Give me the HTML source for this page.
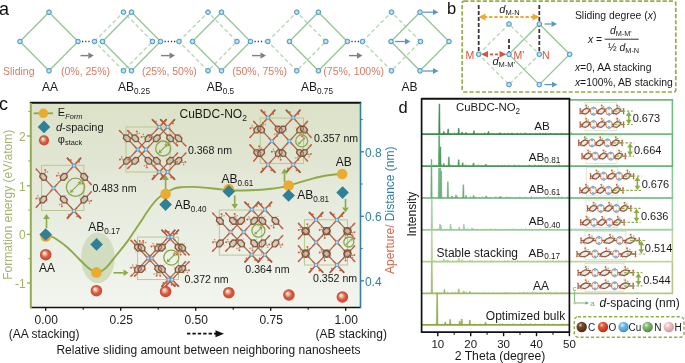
<!DOCTYPE html><html><head><meta charset="utf-8"><style>html,body{margin:0;padding:0;background:#fff;overflow:hidden}svg{display:block}</style></head><body><svg width="685" height="363" viewBox="0 0 685 363" font-family="'Liberation Sans', Arial, sans-serif">
<defs>
<linearGradient id="bgc" x1="0" y1="0" x2="0" y2="1">
<stop offset="0" stop-color="#dce2c7"/><stop offset="0.3" stop-color="#e1e6d4"/><stop offset="0.52" stop-color="#e7ecdf"/><stop offset="1" stop-color="#f2f5ee"/></linearGradient>
<radialGradient id="ndg" cx="0.5" cy="0.5" r="0.5"><stop offset="0" stop-color="#d2f0fa"/><stop offset="1" stop-color="#8cc3e2"/></radialGradient>
<radialGradient id="sph" cx="0.5" cy="0.5" r="0.5" fx="0.36" fy="0.34"><stop offset="0" stop-color="#ffffff"/><stop offset="0.3" stop-color="#efb4a2"/><stop offset="0.62" stop-color="#d55a40"/><stop offset="1" stop-color="#c84a30"/></radialGradient>
<radialGradient id="sC" cx="0.38" cy="0.32" r="0.7"><stop offset="0" stop-color="#e8d0c0"/><stop offset="0.3" stop-color="#7a4a2c"/><stop offset="1" stop-color="#4a2812"/></radialGradient>
<radialGradient id="sO" cx="0.38" cy="0.32" r="0.7"><stop offset="0" stop-color="#fde0cc"/><stop offset="0.3" stop-color="#e8583a"/><stop offset="1" stop-color="#b3301a"/></radialGradient>
<radialGradient id="sCu" cx="0.38" cy="0.32" r="0.7"><stop offset="0" stop-color="#e6f4fb"/><stop offset="0.3" stop-color="#7cc0e6"/><stop offset="1" stop-color="#3d8fc0"/></radialGradient>
<radialGradient id="sN" cx="0.38" cy="0.32" r="0.7"><stop offset="0" stop-color="#e4f2de"/><stop offset="0.3" stop-color="#8cc07a"/><stop offset="1" stop-color="#4e8a40"/></radialGradient>
<radialGradient id="sH" cx="0.38" cy="0.32" r="0.7"><stop offset="0" stop-color="#ffffff"/><stop offset="0.3" stop-color="#f4c8cc"/><stop offset="1" stop-color="#d0959a"/></radialGradient>
</defs>
<rect width="685" height="363" fill="#ffffff"/>
<text x="-1" y="14.9" font-size="18" fill="#111" text-anchor="start" >a</text>
<path d="M20.0,41.5 L49.0,12.2 L78.0,41.5 L49.0,70.8 Z" fill="none" stroke="#94c794" stroke-width="1.3"/>
<path d="M94.5,41.5 L123.5,12.2 L152.5,41.5 L123.5,70.8 Z" fill="none" stroke="#b3d8b0" stroke-width="1.3" stroke-dasharray="4 2.5"/>
<path d="M102.5,41.5 L131.5,12.2 L160.5,41.5 L131.5,70.8 Z" fill="none" stroke="#94c794" stroke-width="1.3"/>
<path d="M179.0,41.5 L208.0,12.2 L237.0,41.5 L208.0,70.8 Z" fill="none" stroke="#b3d8b0" stroke-width="1.3" stroke-dasharray="4 2.5"/>
<path d="M192.5,41.5 L221.5,12.2 L250.5,41.5 L221.5,70.8 Z" fill="none" stroke="#94c794" stroke-width="1.3"/>
<path d="M267.8,41.5 L296.8,12.2 L325.8,41.5 L296.8,70.8 Z" fill="none" stroke="#b3d8b0" stroke-width="1.3" stroke-dasharray="4 2.5"/>
<path d="M289.4,41.5 L318.4,12.2 L347.4,41.5 L318.4,70.8 Z" fill="none" stroke="#94c794" stroke-width="1.3"/>
<path d="M362.5,41.5 L391.5,12.2 L420.5,41.5 L391.5,70.8 Z" fill="none" stroke="#b3d8b0" stroke-width="1.3" stroke-dasharray="4 2.5"/>
<path d="M391.0,41.5 L420.0,12.2 L449.0,41.5 L420.0,70.8 Z" fill="none" stroke="#94c794" stroke-width="1.3"/>
<circle cx="20.0" cy="41.5" r="2.35" fill="url(#ndg)" stroke="#4d93bf" stroke-width="0.95"/>
<circle cx="49.0" cy="12.2" r="2.35" fill="url(#ndg)" stroke="#4d93bf" stroke-width="0.95"/>
<circle cx="78.0" cy="41.5" r="2.35" fill="url(#ndg)" stroke="#4d93bf" stroke-width="0.95"/>
<circle cx="49.0" cy="70.8" r="2.35" fill="url(#ndg)" stroke="#4d93bf" stroke-width="0.95"/>
<circle cx="94.5" cy="41.5" r="2.35" fill="url(#ndg)" stroke="#4d93bf" stroke-width="0.95"/>
<circle cx="123.5" cy="12.2" r="2.35" fill="url(#ndg)" stroke="#4d93bf" stroke-width="0.95"/>
<circle cx="152.5" cy="41.5" r="2.35" fill="url(#ndg)" stroke="#4d93bf" stroke-width="0.95"/>
<circle cx="123.5" cy="70.8" r="2.35" fill="url(#ndg)" stroke="#4d93bf" stroke-width="0.95"/>
<circle cx="102.5" cy="41.5" r="2.35" fill="url(#ndg)" stroke="#4d93bf" stroke-width="0.95"/>
<circle cx="131.5" cy="12.2" r="2.35" fill="url(#ndg)" stroke="#4d93bf" stroke-width="0.95"/>
<circle cx="160.5" cy="41.5" r="2.35" fill="url(#ndg)" stroke="#4d93bf" stroke-width="0.95"/>
<circle cx="131.5" cy="70.8" r="2.35" fill="url(#ndg)" stroke="#4d93bf" stroke-width="0.95"/>
<circle cx="179.0" cy="41.5" r="2.35" fill="url(#ndg)" stroke="#4d93bf" stroke-width="0.95"/>
<circle cx="208.0" cy="12.2" r="2.35" fill="url(#ndg)" stroke="#4d93bf" stroke-width="0.95"/>
<circle cx="237.0" cy="41.5" r="2.35" fill="url(#ndg)" stroke="#4d93bf" stroke-width="0.95"/>
<circle cx="208.0" cy="70.8" r="2.35" fill="url(#ndg)" stroke="#4d93bf" stroke-width="0.95"/>
<circle cx="192.5" cy="41.5" r="2.35" fill="url(#ndg)" stroke="#4d93bf" stroke-width="0.95"/>
<circle cx="221.5" cy="12.2" r="2.35" fill="url(#ndg)" stroke="#4d93bf" stroke-width="0.95"/>
<circle cx="250.5" cy="41.5" r="2.35" fill="url(#ndg)" stroke="#4d93bf" stroke-width="0.95"/>
<circle cx="221.5" cy="70.8" r="2.35" fill="url(#ndg)" stroke="#4d93bf" stroke-width="0.95"/>
<circle cx="267.8" cy="41.5" r="2.35" fill="url(#ndg)" stroke="#4d93bf" stroke-width="0.95"/>
<circle cx="296.8" cy="12.2" r="2.35" fill="url(#ndg)" stroke="#4d93bf" stroke-width="0.95"/>
<circle cx="325.8" cy="41.5" r="2.35" fill="url(#ndg)" stroke="#4d93bf" stroke-width="0.95"/>
<circle cx="296.8" cy="70.8" r="2.35" fill="url(#ndg)" stroke="#4d93bf" stroke-width="0.95"/>
<circle cx="289.4" cy="41.5" r="2.35" fill="url(#ndg)" stroke="#4d93bf" stroke-width="0.95"/>
<circle cx="318.4" cy="12.2" r="2.35" fill="url(#ndg)" stroke="#4d93bf" stroke-width="0.95"/>
<circle cx="347.4" cy="41.5" r="2.35" fill="url(#ndg)" stroke="#4d93bf" stroke-width="0.95"/>
<circle cx="318.4" cy="70.8" r="2.35" fill="url(#ndg)" stroke="#4d93bf" stroke-width="0.95"/>
<circle cx="362.5" cy="41.5" r="2.35" fill="url(#ndg)" stroke="#4d93bf" stroke-width="0.95"/>
<circle cx="391.5" cy="12.2" r="2.35" fill="url(#ndg)" stroke="#4d93bf" stroke-width="0.95"/>
<circle cx="420.5" cy="41.5" r="2.35" fill="url(#ndg)" stroke="#4d93bf" stroke-width="0.95"/>
<circle cx="391.5" cy="70.8" r="2.35" fill="url(#ndg)" stroke="#4d93bf" stroke-width="0.95"/>
<circle cx="391.0" cy="41.5" r="2.35" fill="url(#ndg)" stroke="#4d93bf" stroke-width="0.95"/>
<circle cx="420.0" cy="12.2" r="2.35" fill="url(#ndg)" stroke="#4d93bf" stroke-width="0.95"/>
<circle cx="449.0" cy="41.5" r="2.35" fill="url(#ndg)" stroke="#4d93bf" stroke-width="0.95"/>
<circle cx="420.0" cy="70.8" r="2.35" fill="url(#ndg)" stroke="#4d93bf" stroke-width="0.95"/>
<line x1="82.0" y1="41.5" x2="91.0" y2="41.5" stroke="#333" stroke-width="1.3" stroke-dasharray="1.2 2"/>
<line x1="164.5" y1="41.5" x2="175.5" y2="41.5" stroke="#333" stroke-width="1.3" stroke-dasharray="1.2 2"/>
<line x1="254.5" y1="41.5" x2="264.3" y2="41.5" stroke="#333" stroke-width="1.3" stroke-dasharray="1.2 2"/>
<line x1="351.4" y1="41.5" x2="359.0" y2="41.5" stroke="#333" stroke-width="1.3" stroke-dasharray="1.2 2"/>
<line x1="80.5" y1="55.6" x2="88.3" y2="55.6" stroke="#7f7f7f" stroke-width="1.4"/>
<path d="M93.8,55.6 L88.3,58.7 L88.3,52.5 Z" fill="#7f7f7f"/>
<line x1="161.0" y1="55.6" x2="169.5" y2="55.6" stroke="#7f7f7f" stroke-width="1.4"/>
<path d="M175.0,55.6 L169.5,58.7 L169.5,52.5 Z" fill="#7f7f7f"/>
<line x1="252.0" y1="55.6" x2="260.5" y2="55.6" stroke="#7f7f7f" stroke-width="1.4"/>
<path d="M266.0,55.6 L260.5,58.7 L260.5,52.5 Z" fill="#7f7f7f"/>
<line x1="349.0" y1="55.6" x2="357.0" y2="55.6" stroke="#7f7f7f" stroke-width="1.4"/>
<path d="M362.5,55.6 L357.0,58.7 L357.0,52.5 Z" fill="#7f7f7f"/>
<line x1="423.0" y1="12.2" x2="433.0" y2="12.2" stroke="#5a98c2" stroke-width="1.25"/>
<path d="M438.5,12.2 L433.0,15.1 L433.0,9.3 Z" fill="#5a98c2"/>
<line x1="395.0" y1="41.5" x2="405.0" y2="41.5" stroke="#5a98c2" stroke-width="1.25"/>
<path d="M410.5,41.5 L405.0,44.4 L405.0,38.6 Z" fill="#5a98c2"/>
<line x1="423.0" y1="71.0" x2="433.0" y2="71.0" stroke="#5a98c2" stroke-width="1.25"/>
<path d="M438.5,71.0 L433.0,73.9 L433.0,68.1 Z" fill="#5a98c2"/>
<text x="3" y="75.4" font-size="10.5" fill="#d97a62" text-anchor="start" >Sliding</text>
<text x="61" y="75.4" font-size="10.5" fill="#d97a62" text-anchor="start" >(0%, 25%)</text>
<text x="141.9" y="75.4" font-size="10.5" fill="#d97a62" text-anchor="start" >(25%, 50%)</text>
<text x="232.2" y="75.4" font-size="10.5" fill="#d97a62" text-anchor="start" >(50%, 75%)</text>
<text x="323.3" y="75.4" font-size="10.5" fill="#d97a62" text-anchor="start" >(75%, 100%)</text>
<text x="42" y="90.6" font-size="12" fill="#1a1a1a" text-anchor="start" >AA</text>
<text x="118" y="90.6" font-size="12" fill="#1a1a1a">AB<tspan font-size="8.2" dy="3">0.25</tspan></text>
<text x="206.7" y="90.6" font-size="12" fill="#1a1a1a">AB<tspan font-size="8.2" dy="3">0.5</tspan></text>
<text x="301" y="90.6" font-size="12" fill="#1a1a1a">AB<tspan font-size="8.2" dy="3">0.75</tspan></text>
<text x="401.5" y="90.6" font-size="12" fill="#1a1a1a" text-anchor="start" >AB</text>
<rect x="462.2" y="1.2" width="213.6" height="90.8" rx="2" fill="none" stroke="#92ad4e" stroke-width="1.7" stroke-dasharray="4.2 2"/>
<text x="447" y="13.8" font-size="16.5" fill="#111" text-anchor="start" >b</text>
<path d="M478.6,54.3 L509.0,24.0 L539.4,54.3 L509.0,84.6 Z" fill="none" stroke="#b3d8b0" stroke-width="1.3" stroke-dasharray="4 2.5"/>
<path d="M508.9,54.3 L539.3,24.0 L569.7,54.3 L539.3,84.6 Z" fill="none" stroke="#94c794" stroke-width="1.3"/>
<line x1="478.7" y1="5" x2="478.7" y2="52" stroke="#383838" stroke-width="1.8" stroke-dasharray="4 2"/>
<line x1="539.3" y1="5" x2="539.3" y2="52" stroke="#383838" stroke-width="1.8" stroke-dasharray="4 2"/>
<line x1="509" y1="39" x2="509" y2="52" stroke="#383838" stroke-width="1.8" stroke-dasharray="4 2"/>
<line x1="484" y1="17" x2="534" y2="17" stroke="#f0a830" stroke-width="1.8" stroke-dasharray="3.2 2"/>
<path d="M478.5,17 L485.5,13.6 L485.5,20.4 Z" fill="#f0a830"/><path d="M539.5,17 L532.5,13.6 L532.5,20.4 Z" fill="#f0a830"/>
<line x1="485" y1="54.3" x2="503" y2="54.3" stroke="#d9533a" stroke-width="1.8" stroke-dasharray="3 2"/>
<path d="M481,54.3 L488,51 L488,57.6 Z" fill="#d9533a"/><path d="M506.5,54.3 L499.5,51 L499.5,57.6 Z" fill="#d9533a"/>
<circle cx="509.0" cy="24.0" r="2.35" fill="url(#ndg)" stroke="#4d93bf" stroke-width="0.95"/>
<circle cx="478.7" cy="54.3" r="2.35" fill="url(#ndg)" stroke="#4d93bf" stroke-width="0.95"/>
<circle cx="509.0" cy="84.6" r="2.35" fill="url(#ndg)" stroke="#4d93bf" stroke-width="0.95"/>
<circle cx="539.3" cy="24.0" r="2.35" fill="url(#ndg)" stroke="#4d93bf" stroke-width="0.95"/>
<circle cx="569.7" cy="54.3" r="2.35" fill="url(#ndg)" stroke="#4d93bf" stroke-width="0.95"/>
<circle cx="539.3" cy="84.6" r="2.35" fill="url(#ndg)" stroke="#4d93bf" stroke-width="0.95"/>
<circle cx="509.0" cy="54.3" r="2.35" fill="url(#ndg)" stroke="#4d93bf" stroke-width="0.95"/>
<circle cx="539.3" cy="54.3" r="2.35" fill="url(#ndg)" stroke="#4d93bf" stroke-width="0.95"/>
<line x1="544.5" y1="24.0" x2="551.5" y2="24.0" stroke="#5a98c2" stroke-width="1.25"/>
<path d="M557.0,24.0 L551.5,26.9 L551.5,21.1 Z" fill="#5a98c2"/>
<line x1="544.5" y1="84.6" x2="552.0" y2="84.6" stroke="#5a98c2" stroke-width="1.25"/>
<path d="M557.5,84.6 L552.0,87.5 L552.0,81.7 Z" fill="#5a98c2"/>
<text x="465.5" y="58.8" font-size="10.5" fill="#d9533a" text-anchor="start" >M</text>
<text x="513.5" y="58.8" font-size="10.5" fill="#d9533a" text-anchor="start" >M'</text>
<text x="542" y="58.8" font-size="10.5" fill="#d9533a" text-anchor="start" >N</text>
<text x="499.3" y="12.6" font-size="11" fill="#1a1a1a"><tspan font-style="italic">d</tspan><tspan font-size="7.5" dy="2.6">M-N</tspan></text>
<text x="492.4" y="64.6" font-size="11" fill="#1a1a1a"><tspan font-style="italic">d</tspan><tspan font-size="7.5" dy="2.6">M-M'</tspan></text>
<text x="574.9" y="18.8" font-size="10.4" fill="#1a1a1a">Sliding degree (<tspan font-style="italic">x</tspan>)</text>
<text x="588" y="43.3" font-size="10.4" fill="#1a1a1a"><tspan font-style="italic">x</tspan> =</text>
<line x1="604.7" y1="39.2" x2="638.7" y2="39.2" stroke="#1a1a1a" stroke-width="0.9"/>
<text x="610" y="33.6" font-size="10.4" fill="#1a1a1a"><tspan font-style="italic">d</tspan><tspan font-size="7.3" dy="2.4">M-M'</tspan></text>
<text x="608" y="50.6" font-size="10.4" fill="#1a1a1a">½ <tspan font-style="italic">d</tspan><tspan font-size="7.3" dy="2.4">M-N</tspan></text>
<text x="574.9" y="71.1" font-size="10.4" fill="#1a1a1a"><tspan font-style="italic">x</tspan>=0, AA stacking</text>
<text x="574.9" y="86.3" font-size="10.4" fill="#1a1a1a"><tspan font-style="italic">x</tspan>=100%, AB stacking</text>
<rect x="30.5" y="102.8" width="330.0" height="204.7" fill="url(#bgc)"/>
<rect x="41.6" y="165.3" width="42.199999999999996" height="45.19999999999999" fill="none" stroke="#b3c48c" stroke-width="0.9"/>
<line x1="74.0" y1="165.5" x2="67.0" y2="157.8" stroke="#c0583a" stroke-width="1.6"/>
<line x1="69.5" y1="160.5" x2="67.0" y2="157.8" stroke="#9a6248" stroke-width="1.6"/>
<circle cx="70.9" cy="160.1" r="0.9" fill="#e0532e"/>
<line x1="74.0" y1="165.5" x2="66.4" y2="173.9" stroke="#9e664e" stroke-width="1.2"/>
<line x1="61.1" y1="179.8" x2="53.5" y2="188.2" stroke="#9e664e" stroke-width="1.2"/>
<line x1="73.0" y1="166.6" x2="70.7" y2="169.1" stroke="#dc5e3c" stroke-width="1.4"/>
<line x1="56.8" y1="184.6" x2="54.5" y2="187.1" stroke="#dc5e3c" stroke-width="1.4"/>
<polygon points="60.9,180.1 60.3,176.7 63.2,173.5 66.6,173.6 67.2,177.0 64.3,180.2" fill="#c4a088" fill-opacity="0.45" stroke="#87543c" stroke-width="1.35"/>
<line x1="60.7" y1="175.7" x2="58.1" y2="175.0" stroke="#8aa070" stroke-width="1.1"/>
<circle cx="56.9" cy="175.7" r="1" fill="#e0583a"/>
<circle cx="58.4" cy="173.1" r="0.8" fill="#e27a62"/>
<circle cx="68.1" cy="178.8" r="0.75" fill="#eab8bc"/>
<line x1="74.0" y1="165.5" x2="81.0" y2="157.8" stroke="#c0583a" stroke-width="1.6"/>
<line x1="78.5" y1="160.5" x2="81.0" y2="157.8" stroke="#9a6248" stroke-width="1.6"/>
<circle cx="79.1" cy="161.8" r="0.9" fill="#e0532e"/>
<line x1="74.0" y1="165.5" x2="81.6" y2="173.9" stroke="#9e664e" stroke-width="1.2"/>
<line x1="86.9" y1="179.8" x2="91.6" y2="185.0" stroke="#9e664e" stroke-width="1.2"/>
<line x1="75.0" y1="166.6" x2="77.3" y2="169.1" stroke="#dc5e3c" stroke-width="1.4"/>
<line x1="89.6" y1="182.8" x2="91.6" y2="185.0" stroke="#dc5e3c" stroke-width="1.4"/>
<polygon points="87.1,180.1 83.7,180.2 80.8,177.0 81.4,173.6 84.8,173.5 87.7,176.7" fill="#c4a088" fill-opacity="0.45" stroke="#87543c" stroke-width="1.35"/>
<line x1="82.8" y1="179.8" x2="81.8" y2="182.3" stroke="#8aa070" stroke-width="1.1"/>
<circle cx="82.4" cy="183.6" r="1" fill="#e0583a"/>
<circle cx="80.0" cy="181.8" r="0.8" fill="#e27a62"/>
<circle cx="86.6" cy="172.7" r="0.75" fill="#eab8bc"/>
<line x1="53.5" y1="188.2" x2="45.9" y2="179.8" stroke="#9e664e" stroke-width="1.2"/>
<line x1="40.6" y1="173.9" x2="35.9" y2="168.7" stroke="#9e664e" stroke-width="1.2"/>
<line x1="52.5" y1="187.1" x2="50.2" y2="184.6" stroke="#dc5e3c" stroke-width="1.4"/>
<line x1="37.9" y1="170.9" x2="35.9" y2="168.7" stroke="#dc5e3c" stroke-width="1.4"/>
<polygon points="40.4,173.6 43.8,173.5 46.7,176.7 46.1,180.1 42.7,180.2 39.8,177.0" fill="#c4a088" fill-opacity="0.45" stroke="#87543c" stroke-width="1.35"/>
<line x1="44.7" y1="173.9" x2="45.7" y2="171.4" stroke="#8aa070" stroke-width="1.1"/>
<circle cx="45.1" cy="170.1" r="1" fill="#e0583a"/>
<circle cx="47.5" cy="171.9" r="0.8" fill="#e27a62"/>
<circle cx="40.9" cy="181.0" r="0.75" fill="#eab8bc"/>
<line x1="53.5" y1="188.2" x2="45.9" y2="196.6" stroke="#9e664e" stroke-width="1.2"/>
<line x1="40.6" y1="202.5" x2="35.9" y2="207.7" stroke="#9e664e" stroke-width="1.2"/>
<line x1="52.5" y1="189.3" x2="50.2" y2="191.8" stroke="#dc5e3c" stroke-width="1.4"/>
<line x1="37.9" y1="205.5" x2="35.9" y2="207.7" stroke="#dc5e3c" stroke-width="1.4"/>
<polygon points="40.4,202.8 39.8,199.4 42.7,196.2 46.1,196.3 46.7,199.7 43.8,202.9" fill="#c4a088" fill-opacity="0.45" stroke="#87543c" stroke-width="1.35"/>
<line x1="40.2" y1="198.4" x2="37.6" y2="197.7" stroke="#8aa070" stroke-width="1.1"/>
<circle cx="36.4" cy="198.4" r="1" fill="#e0583a"/>
<circle cx="37.9" cy="195.8" r="0.8" fill="#e27a62"/>
<circle cx="47.6" cy="201.5" r="0.75" fill="#eab8bc"/>
<line x1="53.5" y1="188.2" x2="61.1" y2="196.6" stroke="#9e664e" stroke-width="1.2"/>
<line x1="66.4" y1="202.5" x2="74.0" y2="210.9" stroke="#9e664e" stroke-width="1.2"/>
<line x1="54.5" y1="189.3" x2="56.8" y2="191.8" stroke="#dc5e3c" stroke-width="1.4"/>
<line x1="70.7" y1="207.3" x2="73.0" y2="209.8" stroke="#dc5e3c" stroke-width="1.4"/>
<polygon points="66.6,202.8 63.2,202.9 60.3,199.7 60.9,196.3 64.3,196.2 67.2,199.4" fill="#c4a088" fill-opacity="0.45" stroke="#87543c" stroke-width="1.35"/>
<line x1="62.3" y1="202.5" x2="61.3" y2="205.0" stroke="#8aa070" stroke-width="1.1"/>
<circle cx="61.9" cy="206.3" r="1" fill="#e0583a"/>
<circle cx="59.5" cy="204.5" r="0.8" fill="#e27a62"/>
<circle cx="66.1" cy="195.4" r="0.75" fill="#eab8bc"/>
<line x1="74.0" y1="210.9" x2="67.0" y2="218.6" stroke="#c0583a" stroke-width="1.6"/>
<line x1="69.5" y1="215.9" x2="67.0" y2="218.6" stroke="#9a6248" stroke-width="1.6"/>
<circle cx="68.9" cy="214.6" r="0.9" fill="#e0532e"/>
<line x1="74.0" y1="210.9" x2="81.6" y2="202.5" stroke="#9e664e" stroke-width="1.2"/>
<line x1="86.9" y1="196.6" x2="91.6" y2="191.4" stroke="#9e664e" stroke-width="1.2"/>
<line x1="75.0" y1="209.8" x2="77.3" y2="207.3" stroke="#dc5e3c" stroke-width="1.4"/>
<line x1="89.6" y1="193.6" x2="91.6" y2="191.4" stroke="#dc5e3c" stroke-width="1.4"/>
<polygon points="87.1,196.3 87.7,199.7 84.8,202.9 81.4,202.8 80.8,199.4 83.7,196.2" fill="#c4a088" fill-opacity="0.45" stroke="#87543c" stroke-width="1.35"/>
<line x1="87.3" y1="200.7" x2="89.9" y2="201.4" stroke="#8aa070" stroke-width="1.1"/>
<circle cx="91.1" cy="200.7" r="1" fill="#e0583a"/>
<circle cx="89.6" cy="203.3" r="0.8" fill="#e27a62"/>
<circle cx="79.9" cy="197.6" r="0.75" fill="#eab8bc"/>
<line x1="74.0" y1="210.9" x2="81.0" y2="218.6" stroke="#c0583a" stroke-width="1.6"/>
<line x1="78.5" y1="215.9" x2="81.0" y2="218.6" stroke="#9a6248" stroke-width="1.6"/>
<circle cx="77.1" cy="216.3" r="0.9" fill="#e0532e"/>
<rect x="72.5" y="164.1" width="2.9" height="2.9" fill="#b2dcf0" stroke="#5a9cc8" stroke-width="0.8"/>
<rect x="52.0" y="186.8" width="2.9" height="2.9" fill="#b2dcf0" stroke="#5a9cc8" stroke-width="0.8"/>
<rect x="72.5" y="209.5" width="2.9" height="2.9" fill="#b2dcf0" stroke="#5a9cc8" stroke-width="0.8"/>
<circle cx="75.5" cy="187.3" r="9.1" fill="none" stroke="#86a848" stroke-width="1.3"/>
<line x1="71.4" y1="191.4" x2="79.6" y2="183.2" stroke="#86a848" stroke-width="1.1"/>
<path d="M81.1,181.7 l-3.6,0.8 l2.8,2.8 Z" fill="#86a848"/>
<path d="M69.9,192.9 l3.6,-0.8 l-2.8,-2.8 Z" fill="#86a848"/>
<rect x="137.6" y="237.1" width="40.900000000000006" height="42.50000000000003" fill="none" stroke="#b3c48c" stroke-width="0.9"/>
<line x1="168.4" y1="237.0" x2="161.5" y2="229.8" stroke="#c0583a" stroke-width="1.6"/>
<line x1="163.9" y1="232.3" x2="161.5" y2="229.8" stroke="#9a6248" stroke-width="1.6"/>
<circle cx="165.3" cy="231.8" r="0.9" fill="#e0532e"/>
<line x1="168.4" y1="237.0" x2="161.0" y2="244.8" stroke="#9e664e" stroke-width="1.2"/>
<line x1="155.5" y1="250.5" x2="148.1" y2="258.3" stroke="#9e664e" stroke-width="1.2"/>
<line x1="167.4" y1="238.1" x2="165.2" y2="240.4" stroke="#dc5e3c" stroke-width="1.4"/>
<line x1="151.3" y1="254.9" x2="149.1" y2="257.2" stroke="#dc5e3c" stroke-width="1.4"/>
<polygon points="155.3,250.8 154.8,247.4 157.8,244.3 161.2,244.5 161.7,247.9 158.7,251.0" fill="#c4a088" fill-opacity="0.45" stroke="#87543c" stroke-width="1.35"/>
<line x1="155.2" y1="246.4" x2="152.6" y2="245.6" stroke="#8aa070" stroke-width="1.1"/>
<circle cx="151.4" cy="246.4" r="1" fill="#e0583a"/>
<circle cx="153.0" cy="243.8" r="0.8" fill="#e27a62"/>
<circle cx="162.5" cy="249.7" r="0.75" fill="#eab8bc"/>
<line x1="168.4" y1="237.0" x2="175.3" y2="229.8" stroke="#c0583a" stroke-width="1.6"/>
<line x1="172.9" y1="232.3" x2="175.3" y2="229.8" stroke="#9a6248" stroke-width="1.6"/>
<circle cx="173.4" cy="233.6" r="0.9" fill="#e0532e"/>
<line x1="168.4" y1="237.0" x2="175.8" y2="244.8" stroke="#9e664e" stroke-width="1.2"/>
<line x1="181.3" y1="250.5" x2="185.9" y2="255.3" stroke="#9e664e" stroke-width="1.2"/>
<line x1="169.4" y1="238.1" x2="171.6" y2="240.4" stroke="#dc5e3c" stroke-width="1.4"/>
<line x1="183.8" y1="253.2" x2="185.9" y2="255.3" stroke="#dc5e3c" stroke-width="1.4"/>
<polygon points="181.5,250.8 178.1,251.0 175.1,247.9 175.6,244.5 179.0,244.3 182.0,247.4" fill="#c4a088" fill-opacity="0.45" stroke="#87543c" stroke-width="1.35"/>
<line x1="177.2" y1="250.6" x2="176.3" y2="253.2" stroke="#8aa070" stroke-width="1.1"/>
<circle cx="176.9" cy="254.4" r="1" fill="#e0583a"/>
<circle cx="174.4" cy="252.7" r="0.8" fill="#e27a62"/>
<circle cx="180.8" cy="243.5" r="0.75" fill="#eab8bc"/>
<line x1="148.1" y1="258.3" x2="140.7" y2="250.5" stroke="#9e664e" stroke-width="1.2"/>
<line x1="135.2" y1="244.8" x2="130.6" y2="240.0" stroke="#9e664e" stroke-width="1.2"/>
<line x1="147.1" y1="257.2" x2="144.9" y2="254.9" stroke="#dc5e3c" stroke-width="1.4"/>
<line x1="132.7" y1="242.1" x2="130.6" y2="240.0" stroke="#dc5e3c" stroke-width="1.4"/>
<polygon points="135.0,244.5 138.4,244.3 141.4,247.4 140.9,250.8 137.5,251.0 134.5,247.9" fill="#c4a088" fill-opacity="0.45" stroke="#87543c" stroke-width="1.35"/>
<line x1="139.3" y1="244.7" x2="140.2" y2="242.1" stroke="#8aa070" stroke-width="1.1"/>
<circle cx="139.6" cy="240.9" r="1" fill="#e0583a"/>
<circle cx="142.1" cy="242.6" r="0.8" fill="#e27a62"/>
<circle cx="135.7" cy="251.8" r="0.75" fill="#eab8bc"/>
<line x1="148.1" y1="258.3" x2="140.7" y2="266.1" stroke="#9e664e" stroke-width="1.2"/>
<line x1="135.2" y1="271.8" x2="130.6" y2="276.6" stroke="#9e664e" stroke-width="1.2"/>
<line x1="147.1" y1="259.4" x2="144.9" y2="261.7" stroke="#dc5e3c" stroke-width="1.4"/>
<line x1="132.7" y1="274.5" x2="130.6" y2="276.6" stroke="#dc5e3c" stroke-width="1.4"/>
<polygon points="135.0,272.1 134.5,268.7 137.5,265.6 140.9,265.8 141.4,269.2 138.4,272.3" fill="#c4a088" fill-opacity="0.45" stroke="#87543c" stroke-width="1.35"/>
<line x1="134.9" y1="267.7" x2="132.3" y2="266.9" stroke="#8aa070" stroke-width="1.1"/>
<circle cx="131.1" cy="267.7" r="1" fill="#e0583a"/>
<circle cx="132.7" cy="265.1" r="0.8" fill="#e27a62"/>
<circle cx="142.2" cy="271.0" r="0.75" fill="#eab8bc"/>
<line x1="148.1" y1="258.3" x2="155.5" y2="266.1" stroke="#9e664e" stroke-width="1.2"/>
<line x1="161.0" y1="271.8" x2="168.4" y2="279.6" stroke="#9e664e" stroke-width="1.2"/>
<line x1="149.1" y1="259.4" x2="151.3" y2="261.7" stroke="#dc5e3c" stroke-width="1.4"/>
<line x1="165.2" y1="276.2" x2="167.4" y2="278.5" stroke="#dc5e3c" stroke-width="1.4"/>
<polygon points="161.2,272.1 157.8,272.3 154.8,269.2 155.3,265.8 158.7,265.6 161.7,268.7" fill="#c4a088" fill-opacity="0.45" stroke="#87543c" stroke-width="1.35"/>
<line x1="156.9" y1="271.9" x2="156.0" y2="274.5" stroke="#8aa070" stroke-width="1.1"/>
<circle cx="156.6" cy="275.7" r="1" fill="#e0583a"/>
<circle cx="154.1" cy="274.0" r="0.8" fill="#e27a62"/>
<circle cx="160.5" cy="264.8" r="0.75" fill="#eab8bc"/>
<line x1="168.4" y1="279.6" x2="161.5" y2="286.8" stroke="#c0583a" stroke-width="1.6"/>
<line x1="163.9" y1="284.3" x2="161.5" y2="286.8" stroke="#9a6248" stroke-width="1.6"/>
<circle cx="163.4" cy="283.0" r="0.9" fill="#e0532e"/>
<line x1="168.4" y1="279.6" x2="175.8" y2="271.8" stroke="#9e664e" stroke-width="1.2"/>
<line x1="181.3" y1="266.1" x2="185.9" y2="261.3" stroke="#9e664e" stroke-width="1.2"/>
<line x1="169.4" y1="278.5" x2="171.6" y2="276.2" stroke="#dc5e3c" stroke-width="1.4"/>
<line x1="183.8" y1="263.4" x2="185.9" y2="261.3" stroke="#dc5e3c" stroke-width="1.4"/>
<polygon points="181.5,265.8 182.0,269.2 179.0,272.3 175.6,272.1 175.1,268.7 178.1,265.6" fill="#c4a088" fill-opacity="0.45" stroke="#87543c" stroke-width="1.35"/>
<line x1="181.6" y1="270.2" x2="184.2" y2="271.0" stroke="#8aa070" stroke-width="1.1"/>
<circle cx="185.4" cy="270.2" r="1" fill="#e0583a"/>
<circle cx="183.8" cy="272.8" r="0.8" fill="#e27a62"/>
<circle cx="174.3" cy="266.9" r="0.75" fill="#eab8bc"/>
<line x1="168.4" y1="279.6" x2="175.3" y2="286.8" stroke="#c0583a" stroke-width="1.6"/>
<line x1="172.9" y1="284.3" x2="175.3" y2="286.8" stroke="#9a6248" stroke-width="1.6"/>
<circle cx="171.5" cy="284.8" r="0.9" fill="#e0532e"/>
<rect x="167.0" y="235.6" width="2.9" height="2.9" fill="#b2dcf0" stroke="#5a9cc8" stroke-width="0.8"/>
<rect x="146.7" y="256.9" width="2.9" height="2.9" fill="#b2dcf0" stroke="#5a9cc8" stroke-width="0.8"/>
<rect x="167.0" y="278.2" width="2.9" height="2.9" fill="#b2dcf0" stroke="#5a9cc8" stroke-width="0.8"/>
<line x1="172.0" y1="237.0" x2="165.1" y2="229.8" stroke="#c0583a" stroke-width="1.6"/>
<line x1="167.5" y1="232.3" x2="165.1" y2="229.8" stroke="#9a6248" stroke-width="1.6"/>
<circle cx="168.9" cy="231.8" r="0.9" fill="#e0532e"/>
<line x1="172.0" y1="237.0" x2="164.6" y2="244.8" stroke="#9e664e" stroke-width="1.2"/>
<line x1="159.1" y1="250.5" x2="151.7" y2="258.3" stroke="#9e664e" stroke-width="1.2"/>
<line x1="171.0" y1="238.1" x2="168.8" y2="240.4" stroke="#dc5e3c" stroke-width="1.4"/>
<line x1="154.9" y1="254.9" x2="152.7" y2="257.2" stroke="#dc5e3c" stroke-width="1.4"/>
<polygon points="158.9,250.8 158.4,247.4 161.4,244.3 164.8,244.5 165.3,247.9 162.3,251.0" fill="#c4a088" fill-opacity="0.45" stroke="#87543c" stroke-width="1.35"/>
<line x1="158.8" y1="246.4" x2="156.2" y2="245.6" stroke="#8aa070" stroke-width="1.1"/>
<circle cx="155.0" cy="246.4" r="1" fill="#e0583a"/>
<circle cx="156.6" cy="243.8" r="0.8" fill="#e27a62"/>
<circle cx="166.1" cy="249.7" r="0.75" fill="#eab8bc"/>
<line x1="172.0" y1="237.0" x2="178.9" y2="229.8" stroke="#c0583a" stroke-width="1.6"/>
<line x1="176.5" y1="232.3" x2="178.9" y2="229.8" stroke="#9a6248" stroke-width="1.6"/>
<circle cx="177.0" cy="233.6" r="0.9" fill="#e0532e"/>
<line x1="172.0" y1="237.0" x2="179.4" y2="244.8" stroke="#9e664e" stroke-width="1.2"/>
<line x1="184.9" y1="250.5" x2="189.5" y2="255.3" stroke="#9e664e" stroke-width="1.2"/>
<line x1="173.0" y1="238.1" x2="175.2" y2="240.4" stroke="#dc5e3c" stroke-width="1.4"/>
<line x1="187.4" y1="253.2" x2="189.5" y2="255.3" stroke="#dc5e3c" stroke-width="1.4"/>
<polygon points="185.1,250.8 181.7,251.0 178.7,247.9 179.2,244.5 182.6,244.3 185.6,247.4" fill="#c4a088" fill-opacity="0.45" stroke="#87543c" stroke-width="1.35"/>
<line x1="180.8" y1="250.6" x2="179.9" y2="253.2" stroke="#8aa070" stroke-width="1.1"/>
<circle cx="180.5" cy="254.4" r="1" fill="#e0583a"/>
<circle cx="178.0" cy="252.7" r="0.8" fill="#e27a62"/>
<circle cx="184.4" cy="243.5" r="0.75" fill="#eab8bc"/>
<line x1="151.7" y1="258.3" x2="144.3" y2="250.5" stroke="#9e664e" stroke-width="1.2"/>
<line x1="138.8" y1="244.8" x2="134.2" y2="240.0" stroke="#9e664e" stroke-width="1.2"/>
<line x1="150.7" y1="257.2" x2="148.5" y2="254.9" stroke="#dc5e3c" stroke-width="1.4"/>
<line x1="136.3" y1="242.1" x2="134.2" y2="240.0" stroke="#dc5e3c" stroke-width="1.4"/>
<polygon points="138.6,244.5 142.0,244.3 145.0,247.4 144.5,250.8 141.1,251.0 138.1,247.9" fill="#c4a088" fill-opacity="0.45" stroke="#87543c" stroke-width="1.35"/>
<line x1="142.9" y1="244.7" x2="143.8" y2="242.1" stroke="#8aa070" stroke-width="1.1"/>
<circle cx="143.2" cy="240.9" r="1" fill="#e0583a"/>
<circle cx="145.7" cy="242.6" r="0.8" fill="#e27a62"/>
<circle cx="139.3" cy="251.8" r="0.75" fill="#eab8bc"/>
<line x1="151.7" y1="258.3" x2="144.3" y2="266.1" stroke="#9e664e" stroke-width="1.2"/>
<line x1="138.8" y1="271.8" x2="134.2" y2="276.6" stroke="#9e664e" stroke-width="1.2"/>
<line x1="150.7" y1="259.4" x2="148.5" y2="261.7" stroke="#dc5e3c" stroke-width="1.4"/>
<line x1="136.3" y1="274.5" x2="134.2" y2="276.6" stroke="#dc5e3c" stroke-width="1.4"/>
<polygon points="138.6,272.1 138.1,268.7 141.1,265.6 144.5,265.8 145.0,269.2 142.0,272.3" fill="#c4a088" fill-opacity="0.45" stroke="#87543c" stroke-width="1.35"/>
<line x1="138.5" y1="267.7" x2="135.9" y2="266.9" stroke="#8aa070" stroke-width="1.1"/>
<circle cx="134.7" cy="267.7" r="1" fill="#e0583a"/>
<circle cx="136.3" cy="265.1" r="0.8" fill="#e27a62"/>
<circle cx="145.8" cy="271.0" r="0.75" fill="#eab8bc"/>
<line x1="151.7" y1="258.3" x2="159.1" y2="266.1" stroke="#9e664e" stroke-width="1.2"/>
<line x1="164.6" y1="271.8" x2="172.0" y2="279.6" stroke="#9e664e" stroke-width="1.2"/>
<line x1="152.7" y1="259.4" x2="154.9" y2="261.7" stroke="#dc5e3c" stroke-width="1.4"/>
<line x1="168.8" y1="276.2" x2="171.0" y2="278.5" stroke="#dc5e3c" stroke-width="1.4"/>
<polygon points="164.8,272.1 161.4,272.3 158.4,269.2 158.9,265.8 162.3,265.6 165.3,268.7" fill="#c4a088" fill-opacity="0.45" stroke="#87543c" stroke-width="1.35"/>
<line x1="160.5" y1="271.9" x2="159.6" y2="274.5" stroke="#8aa070" stroke-width="1.1"/>
<circle cx="160.2" cy="275.7" r="1" fill="#e0583a"/>
<circle cx="157.7" cy="274.0" r="0.8" fill="#e27a62"/>
<circle cx="164.1" cy="264.8" r="0.75" fill="#eab8bc"/>
<line x1="172.0" y1="279.6" x2="165.1" y2="286.8" stroke="#c0583a" stroke-width="1.6"/>
<line x1="167.5" y1="284.3" x2="165.1" y2="286.8" stroke="#9a6248" stroke-width="1.6"/>
<circle cx="167.0" cy="283.0" r="0.9" fill="#e0532e"/>
<line x1="172.0" y1="279.6" x2="179.4" y2="271.8" stroke="#9e664e" stroke-width="1.2"/>
<line x1="184.9" y1="266.1" x2="189.5" y2="261.3" stroke="#9e664e" stroke-width="1.2"/>
<line x1="173.0" y1="278.5" x2="175.2" y2="276.2" stroke="#dc5e3c" stroke-width="1.4"/>
<line x1="187.4" y1="263.4" x2="189.5" y2="261.3" stroke="#dc5e3c" stroke-width="1.4"/>
<polygon points="185.1,265.8 185.6,269.2 182.6,272.3 179.2,272.1 178.7,268.7 181.7,265.6" fill="#c4a088" fill-opacity="0.45" stroke="#87543c" stroke-width="1.35"/>
<line x1="185.2" y1="270.2" x2="187.8" y2="271.0" stroke="#8aa070" stroke-width="1.1"/>
<circle cx="189.0" cy="270.2" r="1" fill="#e0583a"/>
<circle cx="187.4" cy="272.8" r="0.8" fill="#e27a62"/>
<circle cx="177.9" cy="266.9" r="0.75" fill="#eab8bc"/>
<line x1="172.0" y1="279.6" x2="178.9" y2="286.8" stroke="#c0583a" stroke-width="1.6"/>
<line x1="176.5" y1="284.3" x2="178.9" y2="286.8" stroke="#9a6248" stroke-width="1.6"/>
<circle cx="175.1" cy="284.8" r="0.9" fill="#e0532e"/>
<rect x="170.6" y="235.6" width="2.9" height="2.9" fill="#b2dcf0" stroke="#5a9cc8" stroke-width="0.8"/>
<rect x="150.2" y="256.9" width="2.9" height="2.9" fill="#b2dcf0" stroke="#5a9cc8" stroke-width="0.8"/>
<rect x="170.6" y="278.2" width="2.9" height="2.9" fill="#b2dcf0" stroke="#5a9cc8" stroke-width="0.8"/>
<circle cx="171.3" cy="257.6" r="7.5" fill="none" stroke="#86a848" stroke-width="1.3"/>
<line x1="168.2" y1="260.8" x2="174.5" y2="254.5" stroke="#86a848" stroke-width="1.1"/>
<path d="M176.0,253.0 l-3.6,0.8 l2.8,2.8 Z" fill="#86a848"/>
<path d="M166.7,262.2 l3.6,-0.8 l-2.8,-2.8 Z" fill="#86a848"/>
<rect x="126" y="127" width="44" height="45" fill="none" stroke="#b3c48c" stroke-width="0.9"/>
<line x1="159.3" y1="127.0" x2="152.0" y2="119.3" stroke="#c0583a" stroke-width="1.6"/>
<line x1="154.5" y1="122.0" x2="152.0" y2="119.3" stroke="#9a6248" stroke-width="1.6"/>
<circle cx="155.9" cy="121.6" r="0.9" fill="#e0532e"/>
<line x1="159.3" y1="127.0" x2="151.3" y2="135.4" stroke="#9e664e" stroke-width="1.2"/>
<line x1="145.7" y1="141.1" x2="137.7" y2="149.5" stroke="#9e664e" stroke-width="1.2"/>
<line x1="158.2" y1="128.1" x2="155.8" y2="130.6" stroke="#dc5e3c" stroke-width="1.4"/>
<line x1="141.2" y1="145.9" x2="138.8" y2="148.4" stroke="#dc5e3c" stroke-width="1.4"/>
<polygon points="145.5,141.4 145.1,138.0 148.1,134.9 151.5,135.1 151.9,138.5 148.9,141.6" fill="#c4a088" fill-opacity="0.45" stroke="#87543c" stroke-width="1.35"/>
<line x1="145.5" y1="137.0" x2="142.9" y2="136.2" stroke="#8aa070" stroke-width="1.1"/>
<circle cx="141.6" cy="136.9" r="1" fill="#e0583a"/>
<circle cx="143.3" cy="134.4" r="0.8" fill="#e27a62"/>
<circle cx="152.8" cy="140.3" r="0.75" fill="#eab8bc"/>
<line x1="159.3" y1="127.0" x2="166.6" y2="119.3" stroke="#c0583a" stroke-width="1.6"/>
<line x1="164.1" y1="122.0" x2="166.6" y2="119.3" stroke="#9a6248" stroke-width="1.6"/>
<circle cx="164.6" cy="123.4" r="0.9" fill="#e0532e"/>
<line x1="159.3" y1="127.0" x2="167.3" y2="135.4" stroke="#9e664e" stroke-width="1.2"/>
<line x1="172.9" y1="141.1" x2="177.9" y2="146.3" stroke="#9e664e" stroke-width="1.2"/>
<line x1="160.4" y1="128.1" x2="162.8" y2="130.6" stroke="#dc5e3c" stroke-width="1.4"/>
<line x1="175.7" y1="144.1" x2="177.9" y2="146.3" stroke="#dc5e3c" stroke-width="1.4"/>
<polygon points="173.1,141.4 169.7,141.6 166.7,138.5 167.1,135.1 170.5,134.9 173.5,138.0" fill="#c4a088" fill-opacity="0.45" stroke="#87543c" stroke-width="1.35"/>
<line x1="168.7" y1="141.2" x2="167.8" y2="143.8" stroke="#8aa070" stroke-width="1.1"/>
<circle cx="168.5" cy="145.0" r="1" fill="#e0583a"/>
<circle cx="166.0" cy="143.3" r="0.8" fill="#e27a62"/>
<circle cx="172.3" cy="134.1" r="0.75" fill="#eab8bc"/>
<line x1="137.7" y1="149.5" x2="129.7" y2="141.1" stroke="#9e664e" stroke-width="1.2"/>
<line x1="124.1" y1="135.4" x2="119.1" y2="130.2" stroke="#9e664e" stroke-width="1.2"/>
<line x1="136.6" y1="148.4" x2="134.2" y2="145.9" stroke="#dc5e3c" stroke-width="1.4"/>
<line x1="121.3" y1="132.4" x2="119.1" y2="130.2" stroke="#dc5e3c" stroke-width="1.4"/>
<polygon points="123.9,135.1 127.3,134.9 130.3,138.0 129.9,141.4 126.5,141.6 123.5,138.5" fill="#c4a088" fill-opacity="0.45" stroke="#87543c" stroke-width="1.35"/>
<line x1="128.3" y1="135.3" x2="129.2" y2="132.7" stroke="#8aa070" stroke-width="1.1"/>
<circle cx="128.5" cy="131.5" r="1" fill="#e0583a"/>
<circle cx="131.0" cy="133.2" r="0.8" fill="#e27a62"/>
<circle cx="124.7" cy="142.4" r="0.75" fill="#eab8bc"/>
<line x1="137.7" y1="149.5" x2="129.7" y2="157.9" stroke="#9e664e" stroke-width="1.2"/>
<line x1="124.1" y1="163.6" x2="119.1" y2="168.8" stroke="#9e664e" stroke-width="1.2"/>
<line x1="136.6" y1="150.6" x2="134.2" y2="153.1" stroke="#dc5e3c" stroke-width="1.4"/>
<line x1="121.3" y1="166.6" x2="119.1" y2="168.8" stroke="#dc5e3c" stroke-width="1.4"/>
<polygon points="123.9,163.9 123.5,160.5 126.5,157.4 129.9,157.6 130.3,161.0 127.3,164.1" fill="#c4a088" fill-opacity="0.45" stroke="#87543c" stroke-width="1.35"/>
<line x1="123.9" y1="159.5" x2="121.3" y2="158.7" stroke="#8aa070" stroke-width="1.1"/>
<circle cx="120.0" cy="159.4" r="1" fill="#e0583a"/>
<circle cx="121.7" cy="156.9" r="0.8" fill="#e27a62"/>
<circle cx="131.2" cy="162.8" r="0.75" fill="#eab8bc"/>
<line x1="137.7" y1="149.5" x2="145.7" y2="157.9" stroke="#9e664e" stroke-width="1.2"/>
<line x1="151.3" y1="163.6" x2="159.3" y2="172.0" stroke="#9e664e" stroke-width="1.2"/>
<line x1="138.8" y1="150.6" x2="141.2" y2="153.1" stroke="#dc5e3c" stroke-width="1.4"/>
<line x1="155.8" y1="168.4" x2="158.2" y2="170.9" stroke="#dc5e3c" stroke-width="1.4"/>
<polygon points="151.5,163.9 148.1,164.1 145.1,161.0 145.5,157.6 148.9,157.4 151.9,160.5" fill="#c4a088" fill-opacity="0.45" stroke="#87543c" stroke-width="1.35"/>
<line x1="147.1" y1="163.7" x2="146.2" y2="166.3" stroke="#8aa070" stroke-width="1.1"/>
<circle cx="146.9" cy="167.5" r="1" fill="#e0583a"/>
<circle cx="144.4" cy="165.8" r="0.8" fill="#e27a62"/>
<circle cx="150.7" cy="156.6" r="0.75" fill="#eab8bc"/>
<line x1="159.3" y1="172.0" x2="152.0" y2="179.7" stroke="#c0583a" stroke-width="1.6"/>
<line x1="154.5" y1="176.9" x2="152.0" y2="179.7" stroke="#9a6248" stroke-width="1.6"/>
<circle cx="154.0" cy="175.6" r="0.9" fill="#e0532e"/>
<line x1="159.3" y1="172.0" x2="167.3" y2="163.6" stroke="#9e664e" stroke-width="1.2"/>
<line x1="172.9" y1="157.9" x2="177.9" y2="152.7" stroke="#9e664e" stroke-width="1.2"/>
<line x1="160.4" y1="170.9" x2="162.8" y2="168.4" stroke="#dc5e3c" stroke-width="1.4"/>
<line x1="175.7" y1="154.9" x2="177.9" y2="152.7" stroke="#dc5e3c" stroke-width="1.4"/>
<polygon points="173.1,157.6 173.5,161.0 170.5,164.1 167.1,163.9 166.7,160.5 169.7,157.4" fill="#c4a088" fill-opacity="0.45" stroke="#87543c" stroke-width="1.35"/>
<line x1="173.1" y1="162.0" x2="175.7" y2="162.8" stroke="#8aa070" stroke-width="1.1"/>
<circle cx="177.0" cy="162.1" r="1" fill="#e0583a"/>
<circle cx="175.3" cy="164.6" r="0.8" fill="#e27a62"/>
<circle cx="165.8" cy="158.7" r="0.75" fill="#eab8bc"/>
<line x1="159.3" y1="172.0" x2="166.6" y2="179.7" stroke="#c0583a" stroke-width="1.6"/>
<line x1="164.1" y1="176.9" x2="166.6" y2="179.7" stroke="#9a6248" stroke-width="1.6"/>
<circle cx="162.7" cy="177.4" r="0.9" fill="#e0532e"/>
<rect x="157.9" y="125.5" width="2.9" height="2.9" fill="#b2dcf0" stroke="#5a9cc8" stroke-width="0.8"/>
<rect x="136.3" y="148.1" width="2.9" height="2.9" fill="#b2dcf0" stroke="#5a9cc8" stroke-width="0.8"/>
<rect x="157.9" y="170.6" width="2.9" height="2.9" fill="#b2dcf0" stroke="#5a9cc8" stroke-width="0.8"/>
<line x1="167.6" y1="127.0" x2="160.3" y2="119.3" stroke="#c0583a" stroke-width="1.6"/>
<line x1="162.8" y1="122.0" x2="160.3" y2="119.3" stroke="#9a6248" stroke-width="1.6"/>
<circle cx="164.2" cy="121.6" r="0.9" fill="#e0532e"/>
<line x1="167.6" y1="127.0" x2="159.6" y2="135.4" stroke="#9e664e" stroke-width="1.2"/>
<line x1="154.0" y1="141.1" x2="146.0" y2="149.5" stroke="#9e664e" stroke-width="1.2"/>
<line x1="166.5" y1="128.1" x2="164.1" y2="130.6" stroke="#dc5e3c" stroke-width="1.4"/>
<line x1="149.5" y1="145.9" x2="147.1" y2="148.4" stroke="#dc5e3c" stroke-width="1.4"/>
<polygon points="153.8,141.4 153.4,138.0 156.4,134.9 159.8,135.1 160.2,138.5 157.2,141.6" fill="#c4a088" fill-opacity="0.45" stroke="#87543c" stroke-width="1.35"/>
<line x1="153.8" y1="137.0" x2="151.2" y2="136.2" stroke="#8aa070" stroke-width="1.1"/>
<circle cx="149.9" cy="136.9" r="1" fill="#e0583a"/>
<circle cx="151.6" cy="134.4" r="0.8" fill="#e27a62"/>
<circle cx="161.1" cy="140.3" r="0.75" fill="#eab8bc"/>
<line x1="167.6" y1="127.0" x2="174.9" y2="119.3" stroke="#c0583a" stroke-width="1.6"/>
<line x1="172.4" y1="122.0" x2="174.9" y2="119.3" stroke="#9a6248" stroke-width="1.6"/>
<circle cx="172.9" cy="123.4" r="0.9" fill="#e0532e"/>
<line x1="167.6" y1="127.0" x2="175.6" y2="135.4" stroke="#9e664e" stroke-width="1.2"/>
<line x1="181.2" y1="141.1" x2="186.2" y2="146.3" stroke="#9e664e" stroke-width="1.2"/>
<line x1="168.7" y1="128.1" x2="171.1" y2="130.6" stroke="#dc5e3c" stroke-width="1.4"/>
<line x1="184.0" y1="144.1" x2="186.2" y2="146.3" stroke="#dc5e3c" stroke-width="1.4"/>
<polygon points="181.4,141.4 178.0,141.6 175.0,138.5 175.4,135.1 178.8,134.9 181.8,138.0" fill="#c4a088" fill-opacity="0.45" stroke="#87543c" stroke-width="1.35"/>
<line x1="177.0" y1="141.2" x2="176.1" y2="143.8" stroke="#8aa070" stroke-width="1.1"/>
<circle cx="176.8" cy="145.0" r="1" fill="#e0583a"/>
<circle cx="174.3" cy="143.3" r="0.8" fill="#e27a62"/>
<circle cx="180.6" cy="134.1" r="0.75" fill="#eab8bc"/>
<line x1="146.0" y1="149.5" x2="138.0" y2="141.1" stroke="#9e664e" stroke-width="1.2"/>
<line x1="132.4" y1="135.4" x2="127.4" y2="130.2" stroke="#9e664e" stroke-width="1.2"/>
<line x1="144.9" y1="148.4" x2="142.5" y2="145.9" stroke="#dc5e3c" stroke-width="1.4"/>
<line x1="129.6" y1="132.4" x2="127.4" y2="130.2" stroke="#dc5e3c" stroke-width="1.4"/>
<polygon points="132.2,135.1 135.6,134.9 138.6,138.0 138.2,141.4 134.8,141.6 131.8,138.5" fill="#c4a088" fill-opacity="0.45" stroke="#87543c" stroke-width="1.35"/>
<line x1="136.6" y1="135.3" x2="137.5" y2="132.7" stroke="#8aa070" stroke-width="1.1"/>
<circle cx="136.8" cy="131.5" r="1" fill="#e0583a"/>
<circle cx="139.3" cy="133.2" r="0.8" fill="#e27a62"/>
<circle cx="133.0" cy="142.4" r="0.75" fill="#eab8bc"/>
<line x1="146.0" y1="149.5" x2="138.0" y2="157.9" stroke="#9e664e" stroke-width="1.2"/>
<line x1="132.4" y1="163.6" x2="127.4" y2="168.8" stroke="#9e664e" stroke-width="1.2"/>
<line x1="144.9" y1="150.6" x2="142.5" y2="153.1" stroke="#dc5e3c" stroke-width="1.4"/>
<line x1="129.6" y1="166.6" x2="127.4" y2="168.8" stroke="#dc5e3c" stroke-width="1.4"/>
<polygon points="132.2,163.9 131.8,160.5 134.8,157.4 138.2,157.6 138.6,161.0 135.6,164.1" fill="#c4a088" fill-opacity="0.45" stroke="#87543c" stroke-width="1.35"/>
<line x1="132.2" y1="159.5" x2="129.6" y2="158.7" stroke="#8aa070" stroke-width="1.1"/>
<circle cx="128.3" cy="159.4" r="1" fill="#e0583a"/>
<circle cx="130.0" cy="156.9" r="0.8" fill="#e27a62"/>
<circle cx="139.5" cy="162.8" r="0.75" fill="#eab8bc"/>
<line x1="146.0" y1="149.5" x2="154.0" y2="157.9" stroke="#9e664e" stroke-width="1.2"/>
<line x1="159.6" y1="163.6" x2="167.6" y2="172.0" stroke="#9e664e" stroke-width="1.2"/>
<line x1="147.1" y1="150.6" x2="149.5" y2="153.1" stroke="#dc5e3c" stroke-width="1.4"/>
<line x1="164.1" y1="168.4" x2="166.5" y2="170.9" stroke="#dc5e3c" stroke-width="1.4"/>
<polygon points="159.8,163.9 156.4,164.1 153.4,161.0 153.8,157.6 157.2,157.4 160.2,160.5" fill="#c4a088" fill-opacity="0.45" stroke="#87543c" stroke-width="1.35"/>
<line x1="155.4" y1="163.7" x2="154.5" y2="166.3" stroke="#8aa070" stroke-width="1.1"/>
<circle cx="155.2" cy="167.5" r="1" fill="#e0583a"/>
<circle cx="152.7" cy="165.8" r="0.8" fill="#e27a62"/>
<circle cx="159.0" cy="156.6" r="0.75" fill="#eab8bc"/>
<line x1="167.6" y1="172.0" x2="160.3" y2="179.7" stroke="#c0583a" stroke-width="1.6"/>
<line x1="162.8" y1="176.9" x2="160.3" y2="179.7" stroke="#9a6248" stroke-width="1.6"/>
<circle cx="162.3" cy="175.6" r="0.9" fill="#e0532e"/>
<line x1="167.6" y1="172.0" x2="175.6" y2="163.6" stroke="#9e664e" stroke-width="1.2"/>
<line x1="181.2" y1="157.9" x2="186.2" y2="152.7" stroke="#9e664e" stroke-width="1.2"/>
<line x1="168.7" y1="170.9" x2="171.1" y2="168.4" stroke="#dc5e3c" stroke-width="1.4"/>
<line x1="184.0" y1="154.9" x2="186.2" y2="152.7" stroke="#dc5e3c" stroke-width="1.4"/>
<polygon points="181.4,157.6 181.8,161.0 178.8,164.1 175.4,163.9 175.0,160.5 178.0,157.4" fill="#c4a088" fill-opacity="0.45" stroke="#87543c" stroke-width="1.35"/>
<line x1="181.4" y1="162.0" x2="184.0" y2="162.8" stroke="#8aa070" stroke-width="1.1"/>
<circle cx="185.3" cy="162.1" r="1" fill="#e0583a"/>
<circle cx="183.6" cy="164.6" r="0.8" fill="#e27a62"/>
<circle cx="174.1" cy="158.7" r="0.75" fill="#eab8bc"/>
<line x1="167.6" y1="172.0" x2="174.9" y2="179.7" stroke="#c0583a" stroke-width="1.6"/>
<line x1="172.4" y1="176.9" x2="174.9" y2="179.7" stroke="#9a6248" stroke-width="1.6"/>
<circle cx="171.0" cy="177.4" r="0.9" fill="#e0532e"/>
<rect x="166.2" y="125.5" width="2.9" height="2.9" fill="#b2dcf0" stroke="#5a9cc8" stroke-width="0.8"/>
<rect x="144.6" y="148.1" width="2.9" height="2.9" fill="#b2dcf0" stroke="#5a9cc8" stroke-width="0.8"/>
<rect x="166.2" y="170.6" width="2.9" height="2.9" fill="#b2dcf0" stroke="#5a9cc8" stroke-width="0.8"/>
<circle cx="163.2" cy="148.5" r="7.5" fill="none" stroke="#86a848" stroke-width="1.3"/>
<line x1="160.0" y1="151.7" x2="166.3" y2="145.3" stroke="#86a848" stroke-width="1.1"/>
<path d="M167.8,143.8 l-3.6,0.8 l2.8,2.8 Z" fill="#86a848"/>
<path d="M158.5,153.2 l3.6,-0.8 l-2.8,-2.8 Z" fill="#86a848"/>
<rect x="219.3" y="210" width="42.39999999999998" height="45.099999999999994" fill="none" stroke="#b3c48c" stroke-width="0.9"/>
<line x1="251.7" y1="209.5" x2="244.5" y2="201.8" stroke="#c0583a" stroke-width="1.6"/>
<line x1="247.0" y1="204.5" x2="244.5" y2="201.8" stroke="#9a6248" stroke-width="1.6"/>
<circle cx="248.4" cy="204.1" r="0.9" fill="#e0532e"/>
<line x1="251.7" y1="209.5" x2="243.8" y2="217.9" stroke="#9e664e" stroke-width="1.2"/>
<line x1="238.4" y1="223.7" x2="230.5" y2="232.1" stroke="#9e664e" stroke-width="1.2"/>
<line x1="250.6" y1="210.6" x2="248.3" y2="213.1" stroke="#dc5e3c" stroke-width="1.4"/>
<line x1="233.9" y1="228.5" x2="231.6" y2="231.0" stroke="#dc5e3c" stroke-width="1.4"/>
<polygon points="238.1,224.0 237.7,220.6 240.6,217.4 244.1,217.6 244.5,221.0 241.6,224.2" fill="#c4a088" fill-opacity="0.45" stroke="#87543c" stroke-width="1.35"/>
<line x1="238.0" y1="219.6" x2="235.5" y2="218.8" stroke="#8aa070" stroke-width="1.1"/>
<circle cx="234.2" cy="219.6" r="1" fill="#e0583a"/>
<circle cx="235.8" cy="217.0" r="0.8" fill="#e27a62"/>
<circle cx="245.4" cy="222.8" r="0.75" fill="#eab8bc"/>
<line x1="251.7" y1="209.5" x2="258.9" y2="201.8" stroke="#c0583a" stroke-width="1.6"/>
<line x1="256.4" y1="204.5" x2="258.9" y2="201.8" stroke="#9a6248" stroke-width="1.6"/>
<circle cx="256.9" cy="205.9" r="0.9" fill="#e0532e"/>
<line x1="251.7" y1="209.5" x2="259.6" y2="217.9" stroke="#9e664e" stroke-width="1.2"/>
<line x1="265.0" y1="223.7" x2="269.9" y2="228.9" stroke="#9e664e" stroke-width="1.2"/>
<line x1="252.8" y1="210.6" x2="255.1" y2="213.1" stroke="#dc5e3c" stroke-width="1.4"/>
<line x1="267.8" y1="226.7" x2="269.9" y2="228.9" stroke="#dc5e3c" stroke-width="1.4"/>
<polygon points="265.3,224.0 261.8,224.2 258.9,221.0 259.3,217.6 262.8,217.4 265.7,220.6" fill="#c4a088" fill-opacity="0.45" stroke="#87543c" stroke-width="1.35"/>
<line x1="260.9" y1="223.8" x2="260.0" y2="226.3" stroke="#8aa070" stroke-width="1.1"/>
<circle cx="260.6" cy="227.6" r="1" fill="#e0583a"/>
<circle cx="258.1" cy="225.8" r="0.8" fill="#e27a62"/>
<circle cx="264.6" cy="216.6" r="0.75" fill="#eab8bc"/>
<line x1="230.5" y1="232.1" x2="222.6" y2="223.7" stroke="#9e664e" stroke-width="1.2"/>
<line x1="217.2" y1="217.9" x2="212.3" y2="212.7" stroke="#9e664e" stroke-width="1.2"/>
<line x1="229.4" y1="231.0" x2="227.1" y2="228.5" stroke="#dc5e3c" stroke-width="1.4"/>
<line x1="214.4" y1="214.9" x2="212.3" y2="212.7" stroke="#dc5e3c" stroke-width="1.4"/>
<polygon points="216.9,217.6 220.4,217.4 223.3,220.6 222.9,224.0 219.4,224.2 216.5,221.0" fill="#c4a088" fill-opacity="0.45" stroke="#87543c" stroke-width="1.35"/>
<line x1="221.3" y1="217.8" x2="222.2" y2="215.3" stroke="#8aa070" stroke-width="1.1"/>
<circle cx="221.6" cy="214.0" r="1" fill="#e0583a"/>
<circle cx="224.1" cy="215.8" r="0.8" fill="#e27a62"/>
<circle cx="217.6" cy="225.0" r="0.75" fill="#eab8bc"/>
<line x1="230.5" y1="232.1" x2="222.6" y2="240.5" stroke="#9e664e" stroke-width="1.2"/>
<line x1="217.2" y1="246.3" x2="212.3" y2="251.5" stroke="#9e664e" stroke-width="1.2"/>
<line x1="229.4" y1="233.2" x2="227.1" y2="235.7" stroke="#dc5e3c" stroke-width="1.4"/>
<line x1="214.4" y1="249.3" x2="212.3" y2="251.5" stroke="#dc5e3c" stroke-width="1.4"/>
<polygon points="216.9,246.6 216.5,243.2 219.4,240.0 222.9,240.2 223.3,243.6 220.4,246.8" fill="#c4a088" fill-opacity="0.45" stroke="#87543c" stroke-width="1.35"/>
<line x1="216.8" y1="242.2" x2="214.3" y2="241.4" stroke="#8aa070" stroke-width="1.1"/>
<circle cx="213.0" cy="242.2" r="1" fill="#e0583a"/>
<circle cx="214.6" cy="239.6" r="0.8" fill="#e27a62"/>
<circle cx="224.2" cy="245.4" r="0.75" fill="#eab8bc"/>
<line x1="230.5" y1="232.1" x2="238.4" y2="240.5" stroke="#9e664e" stroke-width="1.2"/>
<line x1="243.8" y1="246.3" x2="251.7" y2="254.7" stroke="#9e664e" stroke-width="1.2"/>
<line x1="231.6" y1="233.2" x2="233.9" y2="235.7" stroke="#dc5e3c" stroke-width="1.4"/>
<line x1="248.3" y1="251.1" x2="250.6" y2="253.6" stroke="#dc5e3c" stroke-width="1.4"/>
<polygon points="244.1,246.6 240.6,246.8 237.7,243.6 238.1,240.2 241.6,240.0 244.5,243.2" fill="#c4a088" fill-opacity="0.45" stroke="#87543c" stroke-width="1.35"/>
<line x1="239.7" y1="246.4" x2="238.8" y2="248.9" stroke="#8aa070" stroke-width="1.1"/>
<circle cx="239.4" cy="250.2" r="1" fill="#e0583a"/>
<circle cx="236.9" cy="248.4" r="0.8" fill="#e27a62"/>
<circle cx="243.4" cy="239.2" r="0.75" fill="#eab8bc"/>
<line x1="251.7" y1="254.7" x2="244.5" y2="262.4" stroke="#c0583a" stroke-width="1.6"/>
<line x1="247.0" y1="259.7" x2="244.5" y2="262.4" stroke="#9a6248" stroke-width="1.6"/>
<circle cx="246.5" cy="258.3" r="0.9" fill="#e0532e"/>
<line x1="251.7" y1="254.7" x2="259.6" y2="246.3" stroke="#9e664e" stroke-width="1.2"/>
<line x1="265.0" y1="240.5" x2="269.9" y2="235.3" stroke="#9e664e" stroke-width="1.2"/>
<line x1="252.8" y1="253.6" x2="255.1" y2="251.1" stroke="#dc5e3c" stroke-width="1.4"/>
<line x1="267.8" y1="237.5" x2="269.9" y2="235.3" stroke="#dc5e3c" stroke-width="1.4"/>
<polygon points="265.3,240.2 265.7,243.6 262.8,246.8 259.3,246.6 258.9,243.2 261.8,240.0" fill="#c4a088" fill-opacity="0.45" stroke="#87543c" stroke-width="1.35"/>
<line x1="265.4" y1="244.6" x2="267.9" y2="245.4" stroke="#8aa070" stroke-width="1.1"/>
<circle cx="269.2" cy="244.6" r="1" fill="#e0583a"/>
<circle cx="267.6" cy="247.2" r="0.8" fill="#e27a62"/>
<circle cx="258.0" cy="241.4" r="0.75" fill="#eab8bc"/>
<line x1="251.7" y1="254.7" x2="258.9" y2="262.4" stroke="#c0583a" stroke-width="1.6"/>
<line x1="256.4" y1="259.7" x2="258.9" y2="262.4" stroke="#9a6248" stroke-width="1.6"/>
<circle cx="255.0" cy="260.1" r="0.9" fill="#e0532e"/>
<rect x="250.2" y="208.1" width="2.9" height="2.9" fill="#b2dcf0" stroke="#5a9cc8" stroke-width="0.8"/>
<rect x="229.1" y="230.7" width="2.9" height="2.9" fill="#b2dcf0" stroke="#5a9cc8" stroke-width="0.8"/>
<rect x="250.2" y="253.2" width="2.9" height="2.9" fill="#b2dcf0" stroke="#5a9cc8" stroke-width="0.8"/>
<line x1="264.8" y1="209.5" x2="257.6" y2="201.8" stroke="#c0583a" stroke-width="1.6"/>
<line x1="260.1" y1="204.5" x2="257.6" y2="201.8" stroke="#9a6248" stroke-width="1.6"/>
<circle cx="261.5" cy="204.1" r="0.9" fill="#e0532e"/>
<line x1="264.8" y1="209.5" x2="256.9" y2="217.9" stroke="#9e664e" stroke-width="1.2"/>
<line x1="251.5" y1="223.7" x2="243.6" y2="232.1" stroke="#9e664e" stroke-width="1.2"/>
<line x1="263.7" y1="210.6" x2="261.4" y2="213.1" stroke="#dc5e3c" stroke-width="1.4"/>
<line x1="247.0" y1="228.5" x2="244.7" y2="231.0" stroke="#dc5e3c" stroke-width="1.4"/>
<polygon points="251.2,224.0 250.8,220.6 253.7,217.4 257.2,217.6 257.6,221.0 254.7,224.2" fill="#c4a088" fill-opacity="0.45" stroke="#87543c" stroke-width="1.35"/>
<line x1="251.1" y1="219.6" x2="248.6" y2="218.8" stroke="#8aa070" stroke-width="1.1"/>
<circle cx="247.3" cy="219.6" r="1" fill="#e0583a"/>
<circle cx="248.9" cy="217.0" r="0.8" fill="#e27a62"/>
<circle cx="258.5" cy="222.8" r="0.75" fill="#eab8bc"/>
<line x1="264.8" y1="209.5" x2="272.0" y2="201.8" stroke="#c0583a" stroke-width="1.6"/>
<line x1="269.5" y1="204.5" x2="272.0" y2="201.8" stroke="#9a6248" stroke-width="1.6"/>
<circle cx="270.0" cy="205.9" r="0.9" fill="#e0532e"/>
<line x1="264.8" y1="209.5" x2="272.7" y2="217.9" stroke="#9e664e" stroke-width="1.2"/>
<line x1="278.1" y1="223.7" x2="283.0" y2="228.9" stroke="#9e664e" stroke-width="1.2"/>
<line x1="265.9" y1="210.6" x2="268.2" y2="213.1" stroke="#dc5e3c" stroke-width="1.4"/>
<line x1="280.9" y1="226.7" x2="283.0" y2="228.9" stroke="#dc5e3c" stroke-width="1.4"/>
<polygon points="278.4,224.0 274.9,224.2 272.0,221.0 272.4,217.6 275.9,217.4 278.8,220.6" fill="#c4a088" fill-opacity="0.45" stroke="#87543c" stroke-width="1.35"/>
<line x1="274.0" y1="223.8" x2="273.1" y2="226.3" stroke="#8aa070" stroke-width="1.1"/>
<circle cx="273.7" cy="227.6" r="1" fill="#e0583a"/>
<circle cx="271.2" cy="225.8" r="0.8" fill="#e27a62"/>
<circle cx="277.7" cy="216.6" r="0.75" fill="#eab8bc"/>
<line x1="243.6" y1="232.1" x2="235.7" y2="223.7" stroke="#9e664e" stroke-width="1.2"/>
<line x1="230.3" y1="217.9" x2="225.4" y2="212.7" stroke="#9e664e" stroke-width="1.2"/>
<line x1="242.5" y1="231.0" x2="240.2" y2="228.5" stroke="#dc5e3c" stroke-width="1.4"/>
<line x1="227.5" y1="214.9" x2="225.4" y2="212.7" stroke="#dc5e3c" stroke-width="1.4"/>
<polygon points="230.0,217.6 233.5,217.4 236.4,220.6 236.0,224.0 232.5,224.2 229.6,221.0" fill="#c4a088" fill-opacity="0.45" stroke="#87543c" stroke-width="1.35"/>
<line x1="234.4" y1="217.8" x2="235.3" y2="215.3" stroke="#8aa070" stroke-width="1.1"/>
<circle cx="234.7" cy="214.0" r="1" fill="#e0583a"/>
<circle cx="237.2" cy="215.8" r="0.8" fill="#e27a62"/>
<circle cx="230.7" cy="225.0" r="0.75" fill="#eab8bc"/>
<line x1="243.6" y1="232.1" x2="235.7" y2="240.5" stroke="#9e664e" stroke-width="1.2"/>
<line x1="230.3" y1="246.3" x2="225.4" y2="251.5" stroke="#9e664e" stroke-width="1.2"/>
<line x1="242.5" y1="233.2" x2="240.2" y2="235.7" stroke="#dc5e3c" stroke-width="1.4"/>
<line x1="227.5" y1="249.3" x2="225.4" y2="251.5" stroke="#dc5e3c" stroke-width="1.4"/>
<polygon points="230.0,246.6 229.6,243.2 232.5,240.0 236.0,240.2 236.4,243.6 233.5,246.8" fill="#c4a088" fill-opacity="0.45" stroke="#87543c" stroke-width="1.35"/>
<line x1="229.9" y1="242.2" x2="227.4" y2="241.4" stroke="#8aa070" stroke-width="1.1"/>
<circle cx="226.1" cy="242.2" r="1" fill="#e0583a"/>
<circle cx="227.7" cy="239.6" r="0.8" fill="#e27a62"/>
<circle cx="237.3" cy="245.4" r="0.75" fill="#eab8bc"/>
<line x1="243.6" y1="232.1" x2="251.5" y2="240.5" stroke="#9e664e" stroke-width="1.2"/>
<line x1="256.9" y1="246.3" x2="264.8" y2="254.7" stroke="#9e664e" stroke-width="1.2"/>
<line x1="244.7" y1="233.2" x2="247.0" y2="235.7" stroke="#dc5e3c" stroke-width="1.4"/>
<line x1="261.4" y1="251.1" x2="263.7" y2="253.6" stroke="#dc5e3c" stroke-width="1.4"/>
<polygon points="257.2,246.6 253.7,246.8 250.8,243.6 251.2,240.2 254.7,240.0 257.6,243.2" fill="#c4a088" fill-opacity="0.45" stroke="#87543c" stroke-width="1.35"/>
<line x1="252.8" y1="246.4" x2="251.9" y2="248.9" stroke="#8aa070" stroke-width="1.1"/>
<circle cx="252.5" cy="250.2" r="1" fill="#e0583a"/>
<circle cx="250.0" cy="248.4" r="0.8" fill="#e27a62"/>
<circle cx="256.5" cy="239.2" r="0.75" fill="#eab8bc"/>
<line x1="264.8" y1="254.7" x2="257.6" y2="262.4" stroke="#c0583a" stroke-width="1.6"/>
<line x1="260.1" y1="259.7" x2="257.6" y2="262.4" stroke="#9a6248" stroke-width="1.6"/>
<circle cx="259.6" cy="258.3" r="0.9" fill="#e0532e"/>
<line x1="264.8" y1="254.7" x2="272.7" y2="246.3" stroke="#9e664e" stroke-width="1.2"/>
<line x1="278.1" y1="240.5" x2="283.0" y2="235.3" stroke="#9e664e" stroke-width="1.2"/>
<line x1="265.9" y1="253.6" x2="268.2" y2="251.1" stroke="#dc5e3c" stroke-width="1.4"/>
<line x1="280.9" y1="237.5" x2="283.0" y2="235.3" stroke="#dc5e3c" stroke-width="1.4"/>
<polygon points="278.4,240.2 278.8,243.6 275.9,246.8 272.4,246.6 272.0,243.2 274.9,240.0" fill="#c4a088" fill-opacity="0.45" stroke="#87543c" stroke-width="1.35"/>
<line x1="278.5" y1="244.6" x2="281.0" y2="245.4" stroke="#8aa070" stroke-width="1.1"/>
<circle cx="282.3" cy="244.6" r="1" fill="#e0583a"/>
<circle cx="280.7" cy="247.2" r="0.8" fill="#e27a62"/>
<circle cx="271.1" cy="241.4" r="0.75" fill="#eab8bc"/>
<line x1="264.8" y1="254.7" x2="272.0" y2="262.4" stroke="#c0583a" stroke-width="1.6"/>
<line x1="269.5" y1="259.7" x2="272.0" y2="262.4" stroke="#9a6248" stroke-width="1.6"/>
<circle cx="268.1" cy="260.1" r="0.9" fill="#e0532e"/>
<rect x="263.4" y="208.1" width="2.9" height="2.9" fill="#b2dcf0" stroke="#5a9cc8" stroke-width="0.8"/>
<rect x="242.2" y="230.7" width="2.9" height="2.9" fill="#b2dcf0" stroke="#5a9cc8" stroke-width="0.8"/>
<rect x="263.4" y="253.2" width="2.9" height="2.9" fill="#b2dcf0" stroke="#5a9cc8" stroke-width="0.8"/>
<circle cx="258.4" cy="230.6" r="6.5" fill="none" stroke="#86a848" stroke-width="1.3"/>
<line x1="255.9" y1="233.1" x2="260.9" y2="228.1" stroke="#86a848" stroke-width="1.1"/>
<path d="M262.4,226.6 l-3.1,0.7 l2.5,2.5 Z" fill="#86a848"/>
<path d="M254.4,234.6 l3.1,-0.7 l-2.5,-2.5 Z" fill="#86a848"/>
<rect x="260.2" y="118" width="43.400000000000034" height="45.400000000000006" fill="none" stroke="#b3c48c" stroke-width="0.9"/>
<line x1="268.0" y1="117.7" x2="260.7" y2="109.7" stroke="#c0583a" stroke-width="1.6"/>
<line x1="263.3" y1="112.5" x2="260.7" y2="109.7" stroke="#9a6248" stroke-width="1.6"/>
<circle cx="264.7" cy="112.1" r="0.9" fill="#e0532e"/>
<line x1="268.0" y1="117.7" x2="260.0" y2="126.5" stroke="#9e664e" stroke-width="1.2"/>
<line x1="254.6" y1="132.4" x2="249.6" y2="137.9" stroke="#9e664e" stroke-width="1.2"/>
<line x1="266.9" y1="118.9" x2="264.6" y2="121.5" stroke="#dc5e3c" stroke-width="1.4"/>
<line x1="251.7" y1="135.6" x2="249.6" y2="137.9" stroke="#dc5e3c" stroke-width="1.4"/>
<polygon points="254.4,132.6 253.9,129.3 256.8,126.1 260.2,126.3 260.7,129.6 257.8,132.8" fill="#c4a088" fill-opacity="0.45" stroke="#87543c" stroke-width="1.35"/>
<line x1="254.2" y1="128.3" x2="251.6" y2="127.5" stroke="#8aa070" stroke-width="1.1"/>
<circle cx="250.4" cy="128.3" r="1" fill="#e0583a"/>
<circle cx="252.0" cy="125.7" r="0.8" fill="#e27a62"/>
<circle cx="261.6" cy="131.4" r="0.75" fill="#eab8bc"/>
<line x1="268.0" y1="117.7" x2="275.3" y2="109.7" stroke="#c0583a" stroke-width="1.6"/>
<line x1="272.7" y1="112.5" x2="275.3" y2="109.7" stroke="#9a6248" stroke-width="1.6"/>
<circle cx="273.2" cy="113.9" r="0.9" fill="#e0532e"/>
<line x1="268.0" y1="117.7" x2="276.0" y2="126.5" stroke="#9e664e" stroke-width="1.2"/>
<line x1="281.4" y1="132.4" x2="289.4" y2="141.2" stroke="#9e664e" stroke-width="1.2"/>
<line x1="269.1" y1="118.9" x2="271.4" y2="121.5" stroke="#dc5e3c" stroke-width="1.4"/>
<line x1="286.0" y1="137.4" x2="288.3" y2="140.0" stroke="#dc5e3c" stroke-width="1.4"/>
<polygon points="281.6,132.6 278.2,132.8 275.3,129.6 275.8,126.3 279.2,126.1 282.1,129.3" fill="#c4a088" fill-opacity="0.45" stroke="#87543c" stroke-width="1.35"/>
<line x1="277.2" y1="132.4" x2="276.3" y2="134.9" stroke="#8aa070" stroke-width="1.1"/>
<circle cx="276.9" cy="136.2" r="1" fill="#e0583a"/>
<circle cx="274.5" cy="134.4" r="0.8" fill="#e27a62"/>
<circle cx="281.0" cy="125.3" r="0.75" fill="#eab8bc"/>
<line x1="289.4" y1="141.2" x2="281.4" y2="150.0" stroke="#9e664e" stroke-width="1.2"/>
<line x1="276.0" y1="155.9" x2="268.0" y2="164.7" stroke="#9e664e" stroke-width="1.2"/>
<line x1="288.3" y1="142.4" x2="286.0" y2="145.0" stroke="#dc5e3c" stroke-width="1.4"/>
<line x1="271.4" y1="160.9" x2="269.1" y2="163.5" stroke="#dc5e3c" stroke-width="1.4"/>
<polygon points="275.8,156.1 275.3,152.8 278.2,149.6 281.6,149.8 282.1,153.1 279.2,156.3" fill="#c4a088" fill-opacity="0.45" stroke="#87543c" stroke-width="1.35"/>
<line x1="275.6" y1="151.8" x2="273.0" y2="151.0" stroke="#8aa070" stroke-width="1.1"/>
<circle cx="271.8" cy="151.8" r="1" fill="#e0583a"/>
<circle cx="273.4" cy="149.2" r="0.8" fill="#e27a62"/>
<circle cx="283.0" cy="154.9" r="0.75" fill="#eab8bc"/>
<line x1="289.4" y1="141.2" x2="297.4" y2="132.4" stroke="#9e664e" stroke-width="1.2"/>
<line x1="302.8" y1="126.5" x2="307.8" y2="121.0" stroke="#9e664e" stroke-width="1.2"/>
<line x1="290.5" y1="140.0" x2="292.8" y2="137.4" stroke="#dc5e3c" stroke-width="1.4"/>
<line x1="305.7" y1="123.3" x2="307.8" y2="121.0" stroke="#dc5e3c" stroke-width="1.4"/>
<polygon points="303.0,126.3 303.5,129.6 300.6,132.8 297.2,132.6 296.7,129.3 299.6,126.1" fill="#c4a088" fill-opacity="0.45" stroke="#87543c" stroke-width="1.35"/>
<line x1="303.2" y1="130.6" x2="305.8" y2="131.4" stroke="#8aa070" stroke-width="1.1"/>
<circle cx="307.0" cy="130.6" r="1" fill="#e0583a"/>
<circle cx="305.4" cy="133.2" r="0.8" fill="#e27a62"/>
<circle cx="295.8" cy="127.5" r="0.75" fill="#eab8bc"/>
<line x1="289.4" y1="141.2" x2="297.4" y2="150.0" stroke="#9e664e" stroke-width="1.2"/>
<line x1="302.8" y1="155.9" x2="307.8" y2="161.4" stroke="#9e664e" stroke-width="1.2"/>
<line x1="290.5" y1="142.4" x2="292.8" y2="145.0" stroke="#dc5e3c" stroke-width="1.4"/>
<line x1="305.7" y1="159.1" x2="307.8" y2="161.4" stroke="#dc5e3c" stroke-width="1.4"/>
<polygon points="303.0,156.1 299.6,156.3 296.7,153.1 297.2,149.8 300.6,149.6 303.5,152.8" fill="#c4a088" fill-opacity="0.45" stroke="#87543c" stroke-width="1.35"/>
<line x1="298.6" y1="155.9" x2="297.7" y2="158.4" stroke="#8aa070" stroke-width="1.1"/>
<circle cx="298.3" cy="159.7" r="1" fill="#e0583a"/>
<circle cx="295.9" cy="157.9" r="0.8" fill="#e27a62"/>
<circle cx="302.4" cy="148.8" r="0.75" fill="#eab8bc"/>
<line x1="268.0" y1="164.7" x2="260.0" y2="155.9" stroke="#9e664e" stroke-width="1.2"/>
<line x1="254.6" y1="150.0" x2="249.6" y2="144.5" stroke="#9e664e" stroke-width="1.2"/>
<line x1="266.9" y1="163.5" x2="264.6" y2="160.9" stroke="#dc5e3c" stroke-width="1.4"/>
<line x1="251.7" y1="146.8" x2="249.6" y2="144.5" stroke="#dc5e3c" stroke-width="1.4"/>
<polygon points="254.4,149.8 257.8,149.6 260.7,152.8 260.2,156.1 256.8,156.3 253.9,153.1" fill="#c4a088" fill-opacity="0.45" stroke="#87543c" stroke-width="1.35"/>
<line x1="258.8" y1="150.0" x2="259.7" y2="147.5" stroke="#8aa070" stroke-width="1.1"/>
<circle cx="259.1" cy="146.2" r="1" fill="#e0583a"/>
<circle cx="261.5" cy="148.0" r="0.8" fill="#e27a62"/>
<circle cx="255.0" cy="157.1" r="0.75" fill="#eab8bc"/>
<line x1="268.0" y1="164.7" x2="260.7" y2="172.7" stroke="#c0583a" stroke-width="1.6"/>
<line x1="263.3" y1="169.9" x2="260.7" y2="172.7" stroke="#9a6248" stroke-width="1.6"/>
<circle cx="262.8" cy="168.5" r="0.9" fill="#e0532e"/>
<line x1="268.0" y1="164.7" x2="275.3" y2="172.7" stroke="#c0583a" stroke-width="1.6"/>
<line x1="272.7" y1="169.9" x2="275.3" y2="172.7" stroke="#9a6248" stroke-width="1.6"/>
<circle cx="271.3" cy="170.3" r="0.9" fill="#e0532e"/>
<rect x="266.6" y="116.2" width="2.9" height="2.9" fill="#b2dcf0" stroke="#5a9cc8" stroke-width="0.8"/>
<rect x="287.9" y="139.8" width="2.9" height="2.9" fill="#b2dcf0" stroke="#5a9cc8" stroke-width="0.8"/>
<rect x="266.6" y="163.2" width="2.9" height="2.9" fill="#b2dcf0" stroke="#5a9cc8" stroke-width="0.8"/>
<line x1="293.2" y1="117.7" x2="285.9" y2="109.7" stroke="#c0583a" stroke-width="1.6"/>
<line x1="288.5" y1="112.5" x2="285.9" y2="109.7" stroke="#9a6248" stroke-width="1.6"/>
<circle cx="289.9" cy="112.1" r="0.9" fill="#e0532e"/>
<line x1="293.2" y1="117.7" x2="285.2" y2="126.5" stroke="#9e664e" stroke-width="1.2"/>
<line x1="279.8" y1="132.4" x2="271.8" y2="141.2" stroke="#9e664e" stroke-width="1.2"/>
<line x1="292.1" y1="118.9" x2="289.8" y2="121.5" stroke="#dc5e3c" stroke-width="1.4"/>
<line x1="275.2" y1="137.4" x2="272.9" y2="140.0" stroke="#dc5e3c" stroke-width="1.4"/>
<polygon points="279.6,132.6 279.1,129.3 282.0,126.1 285.4,126.3 285.9,129.6 283.0,132.8" fill="#c4a088" fill-opacity="0.45" stroke="#87543c" stroke-width="1.35"/>
<line x1="279.4" y1="128.3" x2="276.8" y2="127.5" stroke="#8aa070" stroke-width="1.1"/>
<circle cx="275.6" cy="128.3" r="1" fill="#e0583a"/>
<circle cx="277.2" cy="125.7" r="0.8" fill="#e27a62"/>
<circle cx="286.8" cy="131.4" r="0.75" fill="#eab8bc"/>
<line x1="293.2" y1="117.7" x2="300.5" y2="109.7" stroke="#c0583a" stroke-width="1.6"/>
<line x1="297.9" y1="112.5" x2="300.5" y2="109.7" stroke="#9a6248" stroke-width="1.6"/>
<circle cx="298.4" cy="113.9" r="0.9" fill="#e0532e"/>
<line x1="293.2" y1="117.7" x2="301.2" y2="126.5" stroke="#9e664e" stroke-width="1.2"/>
<line x1="306.6" y1="132.4" x2="311.6" y2="137.9" stroke="#9e664e" stroke-width="1.2"/>
<line x1="294.3" y1="118.9" x2="296.6" y2="121.5" stroke="#dc5e3c" stroke-width="1.4"/>
<line x1="309.5" y1="135.6" x2="311.6" y2="137.9" stroke="#dc5e3c" stroke-width="1.4"/>
<polygon points="306.8,132.6 303.4,132.8 300.5,129.6 301.0,126.3 304.4,126.1 307.3,129.3" fill="#c4a088" fill-opacity="0.45" stroke="#87543c" stroke-width="1.35"/>
<line x1="302.4" y1="132.4" x2="301.5" y2="134.9" stroke="#8aa070" stroke-width="1.1"/>
<circle cx="302.1" cy="136.2" r="1" fill="#e0583a"/>
<circle cx="299.7" cy="134.4" r="0.8" fill="#e27a62"/>
<circle cx="306.2" cy="125.3" r="0.75" fill="#eab8bc"/>
<line x1="271.8" y1="141.2" x2="263.8" y2="132.4" stroke="#9e664e" stroke-width="1.2"/>
<line x1="258.4" y1="126.5" x2="253.4" y2="121.0" stroke="#9e664e" stroke-width="1.2"/>
<line x1="270.7" y1="140.0" x2="268.4" y2="137.4" stroke="#dc5e3c" stroke-width="1.4"/>
<line x1="255.5" y1="123.3" x2="253.4" y2="121.0" stroke="#dc5e3c" stroke-width="1.4"/>
<polygon points="258.2,126.3 261.6,126.1 264.5,129.3 264.0,132.6 260.6,132.8 257.7,129.6" fill="#c4a088" fill-opacity="0.45" stroke="#87543c" stroke-width="1.35"/>
<line x1="262.6" y1="126.5" x2="263.5" y2="124.0" stroke="#8aa070" stroke-width="1.1"/>
<circle cx="262.9" cy="122.7" r="1" fill="#e0583a"/>
<circle cx="265.3" cy="124.5" r="0.8" fill="#e27a62"/>
<circle cx="258.8" cy="133.6" r="0.75" fill="#eab8bc"/>
<line x1="271.8" y1="141.2" x2="263.8" y2="150.0" stroke="#9e664e" stroke-width="1.2"/>
<line x1="258.4" y1="155.9" x2="253.4" y2="161.4" stroke="#9e664e" stroke-width="1.2"/>
<line x1="270.7" y1="142.4" x2="268.4" y2="145.0" stroke="#dc5e3c" stroke-width="1.4"/>
<line x1="255.5" y1="159.1" x2="253.4" y2="161.4" stroke="#dc5e3c" stroke-width="1.4"/>
<polygon points="258.2,156.1 257.7,152.8 260.6,149.6 264.0,149.8 264.5,153.1 261.6,156.3" fill="#c4a088" fill-opacity="0.45" stroke="#87543c" stroke-width="1.35"/>
<line x1="258.0" y1="151.8" x2="255.4" y2="151.0" stroke="#8aa070" stroke-width="1.1"/>
<circle cx="254.2" cy="151.8" r="1" fill="#e0583a"/>
<circle cx="255.8" cy="149.2" r="0.8" fill="#e27a62"/>
<circle cx="265.4" cy="154.9" r="0.75" fill="#eab8bc"/>
<line x1="271.8" y1="141.2" x2="279.8" y2="150.0" stroke="#9e664e" stroke-width="1.2"/>
<line x1="285.2" y1="155.9" x2="293.2" y2="164.7" stroke="#9e664e" stroke-width="1.2"/>
<line x1="272.9" y1="142.4" x2="275.2" y2="145.0" stroke="#dc5e3c" stroke-width="1.4"/>
<line x1="289.8" y1="160.9" x2="292.1" y2="163.5" stroke="#dc5e3c" stroke-width="1.4"/>
<polygon points="285.4,156.1 282.0,156.3 279.1,153.1 279.6,149.8 283.0,149.6 285.9,152.8" fill="#c4a088" fill-opacity="0.45" stroke="#87543c" stroke-width="1.35"/>
<line x1="281.0" y1="155.9" x2="280.1" y2="158.4" stroke="#8aa070" stroke-width="1.1"/>
<circle cx="280.7" cy="159.7" r="1" fill="#e0583a"/>
<circle cx="278.3" cy="157.9" r="0.8" fill="#e27a62"/>
<circle cx="284.8" cy="148.8" r="0.75" fill="#eab8bc"/>
<line x1="293.2" y1="164.7" x2="285.9" y2="172.7" stroke="#c0583a" stroke-width="1.6"/>
<line x1="288.5" y1="169.9" x2="285.9" y2="172.7" stroke="#9a6248" stroke-width="1.6"/>
<circle cx="288.0" cy="168.5" r="0.9" fill="#e0532e"/>
<line x1="293.2" y1="164.7" x2="301.2" y2="155.9" stroke="#9e664e" stroke-width="1.2"/>
<line x1="306.6" y1="150.0" x2="311.6" y2="144.5" stroke="#9e664e" stroke-width="1.2"/>
<line x1="294.3" y1="163.5" x2="296.6" y2="160.9" stroke="#dc5e3c" stroke-width="1.4"/>
<line x1="309.5" y1="146.8" x2="311.6" y2="144.5" stroke="#dc5e3c" stroke-width="1.4"/>
<polygon points="306.8,149.8 307.3,153.1 304.4,156.3 301.0,156.1 300.5,152.8 303.4,149.6" fill="#c4a088" fill-opacity="0.45" stroke="#87543c" stroke-width="1.35"/>
<line x1="307.0" y1="154.1" x2="309.6" y2="154.9" stroke="#8aa070" stroke-width="1.1"/>
<circle cx="310.8" cy="154.1" r="1" fill="#e0583a"/>
<circle cx="309.2" cy="156.7" r="0.8" fill="#e27a62"/>
<circle cx="299.6" cy="151.0" r="0.75" fill="#eab8bc"/>
<line x1="293.2" y1="164.7" x2="300.5" y2="172.7" stroke="#c0583a" stroke-width="1.6"/>
<line x1="297.9" y1="169.9" x2="300.5" y2="172.7" stroke="#9a6248" stroke-width="1.6"/>
<circle cx="296.5" cy="170.3" r="0.9" fill="#e0532e"/>
<rect x="291.8" y="116.2" width="2.9" height="2.9" fill="#b2dcf0" stroke="#5a9cc8" stroke-width="0.8"/>
<rect x="270.4" y="139.8" width="2.9" height="2.9" fill="#b2dcf0" stroke="#5a9cc8" stroke-width="0.8"/>
<rect x="291.8" y="163.2" width="2.9" height="2.9" fill="#b2dcf0" stroke="#5a9cc8" stroke-width="0.8"/>
<circle cx="301.7" cy="140.9" r="6" fill="none" stroke="#86a848" stroke-width="1.3"/>
<line x1="299.5" y1="143.1" x2="303.9" y2="138.7" stroke="#86a848" stroke-width="1.1"/>
<path d="M305.4,137.2 l-2.9,0.6 l2.3,2.3 Z" fill="#86a848"/>
<path d="M298.0,144.6 l2.9,-0.6 l-2.3,-2.3 Z" fill="#86a848"/>
<rect x="304.4" y="219.8" width="43.10000000000002" height="45.19999999999999" fill="none" stroke="#b3c48c" stroke-width="0.9"/>
<line x1="316.1" y1="219.8" x2="309.0" y2="212.1" stroke="#c0583a" stroke-width="1.6"/>
<line x1="311.5" y1="214.8" x2="309.0" y2="212.1" stroke="#9a6248" stroke-width="1.6"/>
<circle cx="312.9" cy="214.4" r="0.9" fill="#e0532e"/>
<line x1="316.1" y1="219.8" x2="308.4" y2="228.2" stroke="#9e664e" stroke-width="1.2"/>
<line x1="302.9" y1="234.0" x2="298.1" y2="239.2" stroke="#9e664e" stroke-width="1.2"/>
<line x1="315.1" y1="220.9" x2="312.8" y2="223.4" stroke="#dc5e3c" stroke-width="1.4"/>
<line x1="300.2" y1="237.0" x2="298.1" y2="239.2" stroke="#dc5e3c" stroke-width="1.4"/>
<polygon points="302.7,234.3 302.2,230.9 305.2,227.7 308.6,227.9 309.1,231.3 306.1,234.5" fill="#c4a088" fill-opacity="0.45" stroke="#87543c" stroke-width="1.35"/>
<line x1="302.6" y1="229.9" x2="300.0" y2="229.2" stroke="#8aa070" stroke-width="1.1"/>
<circle cx="298.8" cy="229.9" r="1" fill="#e0583a"/>
<circle cx="300.4" cy="227.3" r="0.8" fill="#e27a62"/>
<circle cx="310.0" cy="233.1" r="0.75" fill="#eab8bc"/>
<line x1="316.1" y1="219.8" x2="323.2" y2="212.1" stroke="#c0583a" stroke-width="1.6"/>
<line x1="320.7" y1="214.8" x2="323.2" y2="212.1" stroke="#9a6248" stroke-width="1.6"/>
<circle cx="321.2" cy="216.2" r="0.9" fill="#e0532e"/>
<line x1="316.1" y1="219.8" x2="323.8" y2="228.2" stroke="#9e664e" stroke-width="1.2"/>
<line x1="329.3" y1="234.0" x2="337.0" y2="242.4" stroke="#9e664e" stroke-width="1.2"/>
<line x1="317.1" y1="220.9" x2="319.4" y2="223.4" stroke="#dc5e3c" stroke-width="1.4"/>
<line x1="333.7" y1="238.8" x2="336.0" y2="241.3" stroke="#dc5e3c" stroke-width="1.4"/>
<polygon points="329.5,234.3 326.1,234.5 323.1,231.3 323.6,227.9 327.0,227.7 330.0,230.9" fill="#c4a088" fill-opacity="0.45" stroke="#87543c" stroke-width="1.35"/>
<line x1="325.1" y1="234.1" x2="324.2" y2="236.6" stroke="#8aa070" stroke-width="1.1"/>
<circle cx="324.8" cy="237.9" r="1" fill="#e0583a"/>
<circle cx="322.4" cy="236.1" r="0.8" fill="#e27a62"/>
<circle cx="328.8" cy="226.9" r="0.75" fill="#eab8bc"/>
<line x1="337.0" y1="242.4" x2="329.3" y2="250.8" stroke="#9e664e" stroke-width="1.2"/>
<line x1="323.8" y1="256.6" x2="316.1" y2="265.0" stroke="#9e664e" stroke-width="1.2"/>
<line x1="336.0" y1="243.5" x2="333.7" y2="246.0" stroke="#dc5e3c" stroke-width="1.4"/>
<line x1="319.4" y1="261.4" x2="317.1" y2="263.9" stroke="#dc5e3c" stroke-width="1.4"/>
<polygon points="323.6,256.9 323.1,253.5 326.1,250.3 329.5,250.5 330.0,253.9 327.0,257.1" fill="#c4a088" fill-opacity="0.45" stroke="#87543c" stroke-width="1.35"/>
<line x1="323.5" y1="252.5" x2="320.9" y2="251.8" stroke="#8aa070" stroke-width="1.1"/>
<circle cx="319.7" cy="252.5" r="1" fill="#e0583a"/>
<circle cx="321.3" cy="249.9" r="0.8" fill="#e27a62"/>
<circle cx="330.9" cy="255.7" r="0.75" fill="#eab8bc"/>
<line x1="337.0" y1="242.4" x2="344.7" y2="234.0" stroke="#9e664e" stroke-width="1.2"/>
<line x1="350.2" y1="228.2" x2="355.0" y2="223.0" stroke="#9e664e" stroke-width="1.2"/>
<line x1="338.0" y1="241.3" x2="340.3" y2="238.8" stroke="#dc5e3c" stroke-width="1.4"/>
<line x1="352.9" y1="225.2" x2="355.0" y2="223.0" stroke="#dc5e3c" stroke-width="1.4"/>
<polygon points="350.4,227.9 350.9,231.3 347.9,234.5 344.5,234.3 344.0,230.9 347.0,227.7" fill="#c4a088" fill-opacity="0.45" stroke="#87543c" stroke-width="1.35"/>
<line x1="350.5" y1="232.3" x2="353.1" y2="233.0" stroke="#8aa070" stroke-width="1.1"/>
<circle cx="354.3" cy="232.3" r="1" fill="#e0583a"/>
<circle cx="352.7" cy="234.9" r="0.8" fill="#e27a62"/>
<circle cx="343.1" cy="229.1" r="0.75" fill="#eab8bc"/>
<line x1="337.0" y1="242.4" x2="344.7" y2="250.8" stroke="#9e664e" stroke-width="1.2"/>
<line x1="350.2" y1="256.6" x2="355.0" y2="261.8" stroke="#9e664e" stroke-width="1.2"/>
<line x1="338.0" y1="243.5" x2="340.3" y2="246.0" stroke="#dc5e3c" stroke-width="1.4"/>
<line x1="352.9" y1="259.6" x2="355.0" y2="261.8" stroke="#dc5e3c" stroke-width="1.4"/>
<polygon points="350.4,256.9 347.0,257.1 344.0,253.9 344.5,250.5 347.9,250.3 350.9,253.5" fill="#c4a088" fill-opacity="0.45" stroke="#87543c" stroke-width="1.35"/>
<line x1="346.0" y1="256.7" x2="345.1" y2="259.2" stroke="#8aa070" stroke-width="1.1"/>
<circle cx="345.7" cy="260.5" r="1" fill="#e0583a"/>
<circle cx="343.3" cy="258.7" r="0.8" fill="#e27a62"/>
<circle cx="349.7" cy="249.5" r="0.75" fill="#eab8bc"/>
<line x1="316.1" y1="265.0" x2="308.4" y2="256.6" stroke="#9e664e" stroke-width="1.2"/>
<line x1="302.9" y1="250.8" x2="298.1" y2="245.6" stroke="#9e664e" stroke-width="1.2"/>
<line x1="315.1" y1="263.9" x2="312.8" y2="261.4" stroke="#dc5e3c" stroke-width="1.4"/>
<line x1="300.2" y1="247.8" x2="298.1" y2="245.6" stroke="#dc5e3c" stroke-width="1.4"/>
<polygon points="302.7,250.5 306.1,250.3 309.1,253.5 308.6,256.9 305.2,257.1 302.2,253.9" fill="#c4a088" fill-opacity="0.45" stroke="#87543c" stroke-width="1.35"/>
<line x1="307.1" y1="250.7" x2="308.0" y2="248.2" stroke="#8aa070" stroke-width="1.1"/>
<circle cx="307.4" cy="246.9" r="1" fill="#e0583a"/>
<circle cx="309.8" cy="248.7" r="0.8" fill="#e27a62"/>
<circle cx="303.4" cy="257.9" r="0.75" fill="#eab8bc"/>
<line x1="316.1" y1="265.0" x2="309.0" y2="272.7" stroke="#c0583a" stroke-width="1.6"/>
<line x1="311.5" y1="270.0" x2="309.0" y2="272.7" stroke="#9a6248" stroke-width="1.6"/>
<circle cx="311.0" cy="268.6" r="0.9" fill="#e0532e"/>
<line x1="316.1" y1="265.0" x2="323.2" y2="272.7" stroke="#c0583a" stroke-width="1.6"/>
<line x1="320.7" y1="270.0" x2="323.2" y2="272.7" stroke="#9a6248" stroke-width="1.6"/>
<circle cx="319.3" cy="270.4" r="0.9" fill="#e0532e"/>
<rect x="314.7" y="218.4" width="2.9" height="2.9" fill="#b2dcf0" stroke="#5a9cc8" stroke-width="0.8"/>
<rect x="335.6" y="241.0" width="2.9" height="2.9" fill="#b2dcf0" stroke="#5a9cc8" stroke-width="0.8"/>
<rect x="314.7" y="263.6" width="2.9" height="2.9" fill="#b2dcf0" stroke="#5a9cc8" stroke-width="0.8"/>
<line x1="337.0" y1="219.8" x2="329.9" y2="212.1" stroke="#c0583a" stroke-width="1.6"/>
<line x1="332.4" y1="214.8" x2="329.9" y2="212.1" stroke="#9a6248" stroke-width="1.6"/>
<circle cx="333.8" cy="214.4" r="0.9" fill="#e0532e"/>
<line x1="337.0" y1="219.8" x2="329.3" y2="228.2" stroke="#9e664e" stroke-width="1.2"/>
<line x1="323.8" y1="234.0" x2="316.1" y2="242.4" stroke="#9e664e" stroke-width="1.2"/>
<line x1="336.0" y1="220.9" x2="333.7" y2="223.4" stroke="#dc5e3c" stroke-width="1.4"/>
<line x1="319.4" y1="238.8" x2="317.1" y2="241.3" stroke="#dc5e3c" stroke-width="1.4"/>
<polygon points="323.6,234.3 323.1,230.9 326.1,227.7 329.5,227.9 330.0,231.3 327.0,234.5" fill="#c4a088" fill-opacity="0.45" stroke="#87543c" stroke-width="1.35"/>
<line x1="323.5" y1="229.9" x2="320.9" y2="229.2" stroke="#8aa070" stroke-width="1.1"/>
<circle cx="319.7" cy="229.9" r="1" fill="#e0583a"/>
<circle cx="321.3" cy="227.3" r="0.8" fill="#e27a62"/>
<circle cx="330.9" cy="233.1" r="0.75" fill="#eab8bc"/>
<line x1="337.0" y1="219.8" x2="344.1" y2="212.1" stroke="#c0583a" stroke-width="1.6"/>
<line x1="341.6" y1="214.8" x2="344.1" y2="212.1" stroke="#9a6248" stroke-width="1.6"/>
<circle cx="342.1" cy="216.2" r="0.9" fill="#e0532e"/>
<line x1="337.0" y1="219.8" x2="344.7" y2="228.2" stroke="#9e664e" stroke-width="1.2"/>
<line x1="350.2" y1="234.0" x2="355.0" y2="239.2" stroke="#9e664e" stroke-width="1.2"/>
<line x1="338.0" y1="220.9" x2="340.3" y2="223.4" stroke="#dc5e3c" stroke-width="1.4"/>
<line x1="352.9" y1="237.0" x2="355.0" y2="239.2" stroke="#dc5e3c" stroke-width="1.4"/>
<polygon points="350.4,234.3 347.0,234.5 344.0,231.3 344.5,227.9 347.9,227.7 350.9,230.9" fill="#c4a088" fill-opacity="0.45" stroke="#87543c" stroke-width="1.35"/>
<line x1="346.0" y1="234.1" x2="345.1" y2="236.6" stroke="#8aa070" stroke-width="1.1"/>
<circle cx="345.7" cy="237.9" r="1" fill="#e0583a"/>
<circle cx="343.3" cy="236.1" r="0.8" fill="#e27a62"/>
<circle cx="349.7" cy="226.9" r="0.75" fill="#eab8bc"/>
<line x1="316.1" y1="242.4" x2="308.4" y2="234.0" stroke="#9e664e" stroke-width="1.2"/>
<line x1="302.9" y1="228.2" x2="298.1" y2="223.0" stroke="#9e664e" stroke-width="1.2"/>
<line x1="315.1" y1="241.3" x2="312.8" y2="238.8" stroke="#dc5e3c" stroke-width="1.4"/>
<line x1="300.2" y1="225.2" x2="298.1" y2="223.0" stroke="#dc5e3c" stroke-width="1.4"/>
<polygon points="302.7,227.9 306.1,227.7 309.1,230.9 308.6,234.3 305.2,234.5 302.2,231.3" fill="#c4a088" fill-opacity="0.45" stroke="#87543c" stroke-width="1.35"/>
<line x1="307.1" y1="228.1" x2="308.0" y2="225.6" stroke="#8aa070" stroke-width="1.1"/>
<circle cx="307.4" cy="224.3" r="1" fill="#e0583a"/>
<circle cx="309.8" cy="226.1" r="0.8" fill="#e27a62"/>
<circle cx="303.4" cy="235.3" r="0.75" fill="#eab8bc"/>
<line x1="316.1" y1="242.4" x2="308.4" y2="250.8" stroke="#9e664e" stroke-width="1.2"/>
<line x1="302.9" y1="256.6" x2="298.1" y2="261.8" stroke="#9e664e" stroke-width="1.2"/>
<line x1="315.1" y1="243.5" x2="312.8" y2="246.0" stroke="#dc5e3c" stroke-width="1.4"/>
<line x1="300.2" y1="259.6" x2="298.1" y2="261.8" stroke="#dc5e3c" stroke-width="1.4"/>
<polygon points="302.7,256.9 302.2,253.5 305.2,250.3 308.6,250.5 309.1,253.9 306.1,257.1" fill="#c4a088" fill-opacity="0.45" stroke="#87543c" stroke-width="1.35"/>
<line x1="302.6" y1="252.5" x2="300.0" y2="251.8" stroke="#8aa070" stroke-width="1.1"/>
<circle cx="298.8" cy="252.5" r="1" fill="#e0583a"/>
<circle cx="300.4" cy="249.9" r="0.8" fill="#e27a62"/>
<circle cx="310.0" cy="255.7" r="0.75" fill="#eab8bc"/>
<line x1="316.1" y1="242.4" x2="323.8" y2="250.8" stroke="#9e664e" stroke-width="1.2"/>
<line x1="329.3" y1="256.6" x2="337.0" y2="265.0" stroke="#9e664e" stroke-width="1.2"/>
<line x1="317.1" y1="243.5" x2="319.4" y2="246.0" stroke="#dc5e3c" stroke-width="1.4"/>
<line x1="333.7" y1="261.4" x2="336.0" y2="263.9" stroke="#dc5e3c" stroke-width="1.4"/>
<polygon points="329.5,256.9 326.1,257.1 323.1,253.9 323.6,250.5 327.0,250.3 330.0,253.5" fill="#c4a088" fill-opacity="0.45" stroke="#87543c" stroke-width="1.35"/>
<line x1="325.1" y1="256.7" x2="324.2" y2="259.2" stroke="#8aa070" stroke-width="1.1"/>
<circle cx="324.8" cy="260.5" r="1" fill="#e0583a"/>
<circle cx="322.4" cy="258.7" r="0.8" fill="#e27a62"/>
<circle cx="328.8" cy="249.5" r="0.75" fill="#eab8bc"/>
<line x1="337.0" y1="265.0" x2="329.9" y2="272.7" stroke="#c0583a" stroke-width="1.6"/>
<line x1="332.4" y1="270.0" x2="329.9" y2="272.7" stroke="#9a6248" stroke-width="1.6"/>
<circle cx="331.9" cy="268.6" r="0.9" fill="#e0532e"/>
<line x1="337.0" y1="265.0" x2="344.7" y2="256.6" stroke="#9e664e" stroke-width="1.2"/>
<line x1="350.2" y1="250.8" x2="355.0" y2="245.6" stroke="#9e664e" stroke-width="1.2"/>
<line x1="338.0" y1="263.9" x2="340.3" y2="261.4" stroke="#dc5e3c" stroke-width="1.4"/>
<line x1="352.9" y1="247.8" x2="355.0" y2="245.6" stroke="#dc5e3c" stroke-width="1.4"/>
<polygon points="350.4,250.5 350.9,253.9 347.9,257.1 344.5,256.9 344.0,253.5 347.0,250.3" fill="#c4a088" fill-opacity="0.45" stroke="#87543c" stroke-width="1.35"/>
<line x1="350.5" y1="254.9" x2="353.1" y2="255.6" stroke="#8aa070" stroke-width="1.1"/>
<circle cx="354.3" cy="254.9" r="1" fill="#e0583a"/>
<circle cx="352.7" cy="257.5" r="0.8" fill="#e27a62"/>
<circle cx="343.1" cy="251.7" r="0.75" fill="#eab8bc"/>
<line x1="337.0" y1="265.0" x2="344.1" y2="272.7" stroke="#c0583a" stroke-width="1.6"/>
<line x1="341.6" y1="270.0" x2="344.1" y2="272.7" stroke="#9a6248" stroke-width="1.6"/>
<circle cx="340.2" cy="270.4" r="0.9" fill="#e0532e"/>
<rect x="335.6" y="218.4" width="2.9" height="2.9" fill="#b2dcf0" stroke="#5a9cc8" stroke-width="0.8"/>
<rect x="314.7" y="241.0" width="2.9" height="2.9" fill="#b2dcf0" stroke="#5a9cc8" stroke-width="0.8"/>
<rect x="335.6" y="263.6" width="2.9" height="2.9" fill="#b2dcf0" stroke="#5a9cc8" stroke-width="0.8"/>
<circle cx="348.8" cy="242" r="5" fill="none" stroke="#86a848" stroke-width="1.3"/>
<line x1="347.2" y1="243.6" x2="350.4" y2="240.4" stroke="#86a848" stroke-width="1.1"/>
<path d="M351.9,238.9 l-2.4,0.5 l1.9,1.9 Z" fill="#86a848"/>
<path d="M345.7,245.1 l2.4,-0.5 l-1.9,-1.9 Z" fill="#86a848"/>
<ellipse cx="97.9" cy="257.8" rx="16.8" ry="25.3" fill="#d2dcbf"/>
<path d="M45.5,233.9 C47.3,234.8 52.8,236.9 56.5,239.2 C60.2,241.5 63.8,244.3 67.5,247.5 C71.2,250.7 75.1,255.1 78.6,258.5 C82.0,261.9 85.2,265.5 88.2,267.8 C91.2,270.1 93.6,272.1 96.5,272.2 C99.4,272.3 102.1,271.2 105.5,268.2 C108.9,265.2 113.2,259.0 117,254.4 C120.8,249.8 124.3,245.7 128,240.6 C131.7,235.5 135.5,229.5 139.2,224 C142.9,218.5 147.0,211.8 150.2,207.5 C153.4,203.2 155.9,200.2 158.5,197.9 C161.1,195.6 162.9,195.0 165.5,193.4 C168.1,191.8 171.1,189.7 173.9,188.6 C176.7,187.5 179.0,187.4 182.2,187.1 C185.4,186.8 189.6,186.8 193.3,186.9 C197.0,187.0 200.7,187.3 204.4,187.6 C208.1,187.9 211.4,188.4 215.5,188.8 C219.6,189.2 224.2,190.0 228.8,190.3 C233.4,190.6 238.5,190.6 243.2,190.5 C247.9,190.4 252.5,190.3 257.1,190 C261.7,189.7 267.3,189.2 271,188.8 C274.7,188.4 276.4,188.1 279.3,187.6 C282.2,187.1 285.2,186.4 288.4,185.6 C291.6,184.8 294.7,183.9 298.7,182.7 C302.7,181.5 308.0,179.8 312.6,178.6 C317.2,177.4 321.5,176.3 326.4,175.5 C331.2,174.7 339.1,174.2 341.7,173.9" fill="none" stroke="#8fa945" stroke-width="1.9"/>
<line x1="46.5" y1="228.0" x2="46.5" y2="219.0" stroke="#8aab45" stroke-width="1.6"/>
<path d="M46.5,214.0 L49.8,219.0 L43.2,219.0 Z" fill="#8aab45"/>
<line x1="113.5" y1="272.8" x2="123.5" y2="272.8" stroke="#8aab45" stroke-width="1.6"/>
<path d="M128.5,272.8 L123.5,276.1 L123.5,269.5 Z" fill="#8aab45"/>
<line x1="165.6" y1="189.0" x2="165.6" y2="180.0" stroke="#8aab45" stroke-width="1.6"/>
<path d="M165.6,175.0 L168.9,180.0 L162.3,180.0 Z" fill="#8aab45"/>
<line x1="234.7" y1="195.5" x2="234.7" y2="204.0" stroke="#8aab45" stroke-width="1.6"/>
<path d="M234.7,209.0 L231.4,204.0 L238.0,204.0 Z" fill="#8aab45"/>
<line x1="284.5" y1="182.0" x2="284.5" y2="173.5" stroke="#8aab45" stroke-width="1.6"/>
<path d="M284.5,168.5 L287.8,173.5 L281.2,173.5 Z" fill="#8aab45"/>
<line x1="345.5" y1="199.0" x2="345.5" y2="207.5" stroke="#8aab45" stroke-width="1.6"/>
<path d="M345.5,212.5 L342.2,207.5 L348.8,207.5 Z" fill="#8aab45"/>
<circle cx="45.7" cy="236.5" r="5.3" fill="#e9ac31"/>
<path d="M39.4,234.5 L45.7,228.2 L52.0,234.5 L45.7,240.8 Z" fill="#2f8096"/>
<circle cx="96.4" cy="272.4" r="5.3" fill="#e9ac31"/>
<path d="M90.3,244.4 L96.6,238.1 L102.9,244.4 L96.6,250.7 Z" fill="#2f8096"/>
<circle cx="165.6" cy="193.9" r="5.3" fill="#e9ac31"/>
<path d="M159.3,204.6 L165.6,198.3 L171.9,204.6 L165.6,210.9 Z" fill="#2f8096"/>
<circle cx="228.8" cy="189" r="5.3" fill="#e9ac31"/>
<path d="M222.5,191.4 L228.8,185.1 L235.1,191.4 L228.8,197.7 Z" fill="#2f8096"/>
<circle cx="288.6" cy="185.5" r="5.3" fill="#e9ac31"/>
<path d="M282.3,195.5 L288.6,189.2 L294.9,195.5 L288.6,201.8 Z" fill="#2f8096"/>
<circle cx="342.1" cy="174" r="5.3" fill="#e9ac31"/>
<path d="M336.3,192.6 L342.6,186.3 L348.9,192.6 L342.6,198.9 Z" fill="#2f8096"/>
<circle cx="45.7" cy="254.7" r="5.8" fill="url(#sph)"/>
<circle cx="96.4" cy="290.7" r="5.8" fill="url(#sph)"/>
<circle cx="165.6" cy="291.5" r="5.8" fill="url(#sph)"/>
<circle cx="228.8" cy="292.7" r="5.8" fill="url(#sph)"/>
<circle cx="288.9" cy="295" r="5.8" fill="url(#sph)"/>
<circle cx="342.4" cy="297" r="5.8" fill="url(#sph)"/>
<line x1="29.8" y1="102.8" x2="361.2" y2="102.8" stroke="#111" stroke-width="2"/>
<line x1="30.5" y1="307.5" x2="360.5" y2="307.5" stroke="#111" stroke-width="1.5"/>
<line x1="30.8" y1="102.8" x2="30.8" y2="308.2" stroke="#90ad4e" stroke-width="2"/>
<line x1="360.5" y1="102.8" x2="360.5" y2="308.2" stroke="#30819e" stroke-width="1.6"/>
<line x1="27.0" y1="136" x2="30.5" y2="136" stroke="#93ab50" stroke-width="1.3"/>
<line x1="27.0" y1="185.8" x2="30.5" y2="185.8" stroke="#93ab50" stroke-width="1.3"/>
<line x1="27.0" y1="234.4" x2="30.5" y2="234.4" stroke="#93ab50" stroke-width="1.3"/>
<line x1="27.0" y1="283" x2="30.5" y2="283" stroke="#93ab50" stroke-width="1.3"/>
<line x1="28.3" y1="111.5" x2="30.5" y2="111.5" stroke="#93ab50" stroke-width="1.1"/>
<line x1="28.3" y1="160.9" x2="30.5" y2="160.9" stroke="#93ab50" stroke-width="1.1"/>
<line x1="28.3" y1="210.1" x2="30.5" y2="210.1" stroke="#93ab50" stroke-width="1.1"/>
<line x1="28.3" y1="258.7" x2="30.5" y2="258.7" stroke="#93ab50" stroke-width="1.1"/>
<text x="25.6" y="140.9" font-size="12" fill="#9db266" text-anchor="end" >2</text>
<text x="25.6" y="190.70000000000002" font-size="12" fill="#9db266" text-anchor="end" >1</text>
<text x="25.6" y="239.3" font-size="12" fill="#9db266" text-anchor="end" >0</text>
<text x="25.6" y="287.9" font-size="12" fill="#9db266" text-anchor="end" >-1</text>
<text transform="translate(12.3,204.8) rotate(-90)" font-size="12" fill="#a3b56d" text-anchor="middle">Formation energy (eV/atom)</text>
<line x1="360.5" y1="151.8" x2="364.0" y2="151.8" stroke="#30819e" stroke-width="1.3"/>
<text x="364.9" y="156.70000000000002" font-size="12" fill="#30819e" text-anchor="start" >0.8</text>
<line x1="360.5" y1="216.3" x2="364.0" y2="216.3" stroke="#30819e" stroke-width="1.3"/>
<text x="364.9" y="221.20000000000002" font-size="12" fill="#30819e" text-anchor="start" >0.6</text>
<line x1="360.5" y1="280.8" x2="364.0" y2="280.8" stroke="#30819e" stroke-width="1.3"/>
<text x="364.9" y="285.7" font-size="12" fill="#30819e" text-anchor="start" >0.4</text>
<line x1="360.5" y1="119.5" x2="362.7" y2="119.5" stroke="#30819e" stroke-width="1.1"/>
<line x1="360.5" y1="184" x2="362.7" y2="184" stroke="#30819e" stroke-width="1.1"/>
<line x1="360.5" y1="248.5" x2="362.7" y2="248.5" stroke="#30819e" stroke-width="1.1"/>
<text transform="translate(393.5,210.2) rotate(-90)" font-size="12" text-anchor="middle"><tspan fill="#d9674a">Aperture/ </tspan><tspan fill="#30819e">Distance (nm)</tspan></text>
<line x1="45.7" y1="307.5" x2="45.7" y2="310.7" stroke="#111" stroke-width="1.3"/>
<text x="46.300000000000004" y="324.4" font-size="12" fill="#1a1a1a" text-anchor="middle" >0.00</text>
<line x1="120.7" y1="307.5" x2="120.7" y2="310.7" stroke="#111" stroke-width="1.3"/>
<text x="121.3" y="324.4" font-size="12" fill="#1a1a1a" text-anchor="middle" >0.25</text>
<line x1="195.7" y1="307.5" x2="195.7" y2="310.7" stroke="#111" stroke-width="1.3"/>
<text x="196.29999999999998" y="324.4" font-size="12" fill="#1a1a1a" text-anchor="middle" >0.50</text>
<line x1="270.7" y1="307.5" x2="270.7" y2="310.7" stroke="#111" stroke-width="1.3"/>
<text x="271.3" y="324.4" font-size="12" fill="#1a1a1a" text-anchor="middle" >0.75</text>
<line x1="345.7" y1="307.5" x2="345.7" y2="310.7" stroke="#111" stroke-width="1.3"/>
<text x="346.3" y="324.4" font-size="12" fill="#1a1a1a" text-anchor="middle" >1.00</text>
<line x1="83.2" y1="307.5" x2="83.2" y2="309.7" stroke="#111" stroke-width="1.1"/>
<line x1="158.2" y1="307.5" x2="158.2" y2="309.7" stroke="#111" stroke-width="1.1"/>
<line x1="233.2" y1="307.5" x2="233.2" y2="309.7" stroke="#111" stroke-width="1.1"/>
<line x1="308.2" y1="307.5" x2="308.2" y2="309.7" stroke="#111" stroke-width="1.1"/>
<text x="44.2" y="338.2" font-size="12" fill="#1a1a1a" text-anchor="middle" >(AA stacking)</text>
<text x="351.3" y="337.6" font-size="12" fill="#1a1a1a" text-anchor="middle" >(AB stacking)</text>
<line x1="187" y1="333.7" x2="216" y2="333.7" stroke="#111" stroke-width="1.7" stroke-dasharray="3.4 2"/>
<path d="M224,333.7 L215.5,330.2 L215.5,337.2 Z" fill="#111"/>
<text x="208.5" y="354.2" font-size="12" fill="#1a1a1a" text-anchor="middle" >Relative sliding amount between neighboring nanosheets</text>
<line x1="33.7" y1="113.3" x2="53" y2="113.3" stroke="#8aa83e" stroke-width="1.8"/>
<circle cx="43.4" cy="113.3" r="4.8" fill="#e9ac31"/>
<text x="57.8" y="116.4" font-size="11" fill="#1a1a1a">E<tspan font-size="7.4" font-style="italic" dy="2.6">Form</tspan></text>
<path d="M37.7,126.9 L44,120.6 L50.3,126.9 L44,133.2 Z" fill="#2f8096"/>
<text x="55.9" y="131" font-size="11" fill="#1a1a1a"><tspan font-style="italic">d</tspan>-spacing</text>
<circle cx="44" cy="140.3" r="5.1" fill="url(#sph)"/>
<text x="57.8" y="143" font-size="11" fill="#1a1a1a">φ<tspan font-size="7.4" dy="2.3">stack</tspan></text>
<text x="179.5" y="117.7" font-size="12" fill="#1a1a1a">CuBDC-NO<tspan font-size="8.5" dy="3">2</tspan></text>
<text x="39" y="271.5" font-size="12" fill="#1a1a1a" text-anchor="start" >AA</text>
<text x="88.2" y="230.7" font-size="12" fill="#1a1a1a">AB<tspan font-size="8.2" dy="3">0.17</tspan></text>
<text x="174.7" y="208.8" font-size="12" fill="#1a1a1a">AB<tspan font-size="8.2" dy="3">0.40</tspan></text>
<text x="221.4" y="182.5" font-size="12" fill="#1a1a1a">AB<tspan font-size="8.2" dy="3">0.61</tspan></text>
<text x="297.2" y="198.8" font-size="12" fill="#1a1a1a">AB<tspan font-size="8.2" dy="3">0.81</tspan></text>
<text x="335.7" y="166" font-size="12" fill="#1a1a1a" text-anchor="start" >AB</text>
<text x="92.4" y="191.5" font-size="10.6" fill="#1a1a1a" text-anchor="start" >0.483 nm</text>
<text x="187.9" y="153.6" font-size="10.6" fill="#1a1a1a" text-anchor="start" >0.368 nm</text>
<text x="314" y="142" font-size="10.6" fill="#1a1a1a" text-anchor="start" >0.357 nm</text>
<text x="184.5" y="282.5" font-size="10.6" fill="#1a1a1a" text-anchor="start" >0.372 nm</text>
<text x="245.3" y="272.6" font-size="10.6" fill="#1a1a1a" text-anchor="start" >0.364 nm</text>
<text x="313" y="281.5" font-size="10.6" fill="#1a1a1a" text-anchor="start" >0.352 nm</text>
<text x="398.6" y="112.8" font-size="16.5" fill="#111" text-anchor="start" >d</text>
<text x="-1" y="109.9" font-size="18" fill="#111" text-anchor="start" >c</text>
<rect x="421.6" y="98.8" width="147.79999999999995" height="233.39999999999998" fill="#ffffff"/>
<line x1="569.4" y1="99.9" x2="673.2" y2="99.9" stroke="#72b982" stroke-width="1.9"/>
<line x1="672.4" y1="99.9" x2="672.4" y2="134.1" stroke="#72b982" stroke-width="1.6"/>
<line x1="672.4" y1="134.1" x2="672.4" y2="166.1" stroke="#6cb27b" stroke-width="1.6"/>
<line x1="672.4" y1="166.1" x2="672.4" y2="198.0" stroke="#8cc49a" stroke-width="1.6"/>
<line x1="672.4" y1="198.0" x2="672.4" y2="229.8" stroke="#a6d2aa" stroke-width="1.6"/>
<line x1="672.4" y1="229.8" x2="672.4" y2="261.6" stroke="#c0d59e" stroke-width="1.6"/>
<line x1="672.4" y1="261.6" x2="672.4" y2="293.4" stroke="#b2c788" stroke-width="1.6"/>
<line x1="421.6" y1="134.1" x2="569.4" y2="134.1" stroke="#3d8d4f" stroke-width="1.7"/>
<line x1="433.2" y1="134.1" x2="433.2" y2="133.3" stroke="#3d8d4f" stroke-width="0.8"/>
<line x1="438.0" y1="134.1" x2="438.0" y2="133.4" stroke="#3d8d4f" stroke-width="0.8"/>
<line x1="442.4" y1="134.1" x2="442.4" y2="133.1" stroke="#3d8d4f" stroke-width="0.8"/>
<line x1="445.1" y1="134.1" x2="445.1" y2="132.9" stroke="#3d8d4f" stroke-width="0.8"/>
<line x1="447.7" y1="134.1" x2="447.7" y2="133.0" stroke="#3d8d4f" stroke-width="0.8"/>
<line x1="450.5" y1="134.1" x2="450.5" y2="133.4" stroke="#3d8d4f" stroke-width="0.8"/>
<line x1="454.5" y1="134.1" x2="454.5" y2="132.5" stroke="#3d8d4f" stroke-width="0.8"/>
<line x1="457.4" y1="134.1" x2="457.4" y2="133.2" stroke="#3d8d4f" stroke-width="0.8"/>
<line x1="462.1" y1="134.1" x2="462.1" y2="132.4" stroke="#3d8d4f" stroke-width="0.8"/>
<line x1="466.6" y1="134.1" x2="466.6" y2="133.0" stroke="#3d8d4f" stroke-width="0.8"/>
<line x1="472.5" y1="134.1" x2="472.5" y2="133.4" stroke="#3d8d4f" stroke-width="0.8"/>
<line x1="478.0" y1="134.1" x2="478.0" y2="133.2" stroke="#3d8d4f" stroke-width="0.8"/>
<line x1="481.0" y1="134.1" x2="481.0" y2="133.4" stroke="#3d8d4f" stroke-width="0.8"/>
<line x1="484.6" y1="134.1" x2="484.6" y2="132.5" stroke="#3d8d4f" stroke-width="0.8"/>
<line x1="487.7" y1="134.1" x2="487.7" y2="132.8" stroke="#3d8d4f" stroke-width="0.8"/>
<line x1="492.5" y1="134.1" x2="492.5" y2="133.1" stroke="#3d8d4f" stroke-width="0.8"/>
<line x1="496.9" y1="134.1" x2="496.9" y2="133.4" stroke="#3d8d4f" stroke-width="0.8"/>
<line x1="499.6" y1="134.1" x2="499.6" y2="133.3" stroke="#3d8d4f" stroke-width="0.8"/>
<line x1="504.5" y1="134.1" x2="504.5" y2="133.0" stroke="#3d8d4f" stroke-width="0.8"/>
<line x1="508.1" y1="134.1" x2="508.1" y2="132.8" stroke="#3d8d4f" stroke-width="0.8"/>
<line x1="512.2" y1="134.1" x2="512.2" y2="133.1" stroke="#3d8d4f" stroke-width="0.8"/>
<line x1="517.4" y1="134.1" x2="517.4" y2="132.7" stroke="#3d8d4f" stroke-width="0.8"/>
<line x1="520.8" y1="134.1" x2="520.8" y2="132.8" stroke="#3d8d4f" stroke-width="0.8"/>
<line x1="525.1" y1="134.1" x2="525.1" y2="132.4" stroke="#3d8d4f" stroke-width="0.8"/>
<line x1="530.2" y1="134.1" x2="530.2" y2="133.2" stroke="#3d8d4f" stroke-width="0.8"/>
<line x1="536.1" y1="134.1" x2="536.1" y2="133.4" stroke="#3d8d4f" stroke-width="0.8"/>
<line x1="540.1" y1="134.1" x2="540.1" y2="132.6" stroke="#3d8d4f" stroke-width="0.8"/>
<line x1="543.1" y1="134.1" x2="543.1" y2="132.9" stroke="#3d8d4f" stroke-width="0.8"/>
<line x1="545.8" y1="134.1" x2="545.8" y2="132.7" stroke="#3d8d4f" stroke-width="0.8"/>
<line x1="550.9" y1="134.1" x2="550.9" y2="132.8" stroke="#3d8d4f" stroke-width="0.8"/>
<line x1="556.5" y1="134.1" x2="556.5" y2="133.1" stroke="#3d8d4f" stroke-width="0.8"/>
<line x1="561.4" y1="134.1" x2="561.4" y2="132.8" stroke="#3d8d4f" stroke-width="0.8"/>
<line x1="566.0" y1="134.1" x2="566.0" y2="133.0" stroke="#3d8d4f" stroke-width="0.8"/>
<line x1="571.4" y1="134.1" x2="571.4" y2="132.4" stroke="#3d8d4f" stroke-width="0.8"/>
<line x1="569.4" y1="134.1" x2="673.2" y2="134.1" stroke="#72b982" stroke-width="1.9"/>
<path d="M438.6,134.1 L439.0,104 L439.8,104 L440.1,134.1 Z" fill="#3d8d4f" stroke="#3d8d4f" stroke-width="0.5"/>
<path d="M443.1,134.1 L443.4,131.5 L444.2,131.5 L444.6,134.1 Z" fill="#3d8d4f" stroke="#3d8d4f" stroke-width="0.5"/>
<path d="M447.4,134.1 L447.8,129 L448.6,129 L448.9,134.1 Z" fill="#3d8d4f" stroke="#3d8d4f" stroke-width="0.5"/>
<path d="M457.9,134.1 L458.3,128.2 L459.1,128.2 L459.4,134.1 Z" fill="#3d8d4f" stroke="#3d8d4f" stroke-width="0.5"/>
<path d="M461.2,134.1 L461.6,132.3 L462.4,132.3 L462.8,134.1 Z" fill="#3d8d4f" stroke="#3d8d4f" stroke-width="0.5"/>
<path d="M465.2,134.1 L465.6,132.6 L466.4,132.6 L466.8,134.1 Z" fill="#3d8d4f" stroke="#3d8d4f" stroke-width="0.5"/>
<path d="M473.2,134.1 L473.6,130.8 L474.4,130.8 L474.8,134.1 Z" fill="#3d8d4f" stroke="#3d8d4f" stroke-width="0.5"/>
<path d="M487.8,134.1 L488.1,131.6 L488.9,131.6 L489.2,134.1 Z" fill="#3d8d4f" stroke="#3d8d4f" stroke-width="0.5"/>
<path d="M499.2,134.1 L499.6,132.8 L500.4,132.8 L500.8,134.1 Z" fill="#3d8d4f" stroke="#3d8d4f" stroke-width="0.5"/>
<path d="M511.2,134.1 L511.6,133 L512.4,133 L512.8,134.1 Z" fill="#3d8d4f" stroke="#3d8d4f" stroke-width="0.5"/>
<line x1="421.6" y1="166.1" x2="569.4" y2="166.1" stroke="#4a9a5c" stroke-width="1.7"/>
<line x1="433.8" y1="166.1" x2="433.8" y2="164.7" stroke="#4a9a5c" stroke-width="0.8"/>
<line x1="436.5" y1="166.1" x2="436.5" y2="164.7" stroke="#4a9a5c" stroke-width="0.8"/>
<line x1="441.2" y1="166.1" x2="441.2" y2="164.3" stroke="#4a9a5c" stroke-width="0.8"/>
<line x1="446.6" y1="166.1" x2="446.6" y2="165.2" stroke="#4a9a5c" stroke-width="0.8"/>
<line x1="450.5" y1="166.1" x2="450.5" y2="164.7" stroke="#4a9a5c" stroke-width="0.8"/>
<line x1="453.0" y1="166.1" x2="453.0" y2="164.9" stroke="#4a9a5c" stroke-width="0.8"/>
<line x1="456.1" y1="166.1" x2="456.1" y2="165.4" stroke="#4a9a5c" stroke-width="0.8"/>
<line x1="458.8" y1="166.1" x2="458.8" y2="164.6" stroke="#4a9a5c" stroke-width="0.8"/>
<line x1="461.8" y1="166.1" x2="461.8" y2="165.2" stroke="#4a9a5c" stroke-width="0.8"/>
<line x1="465.7" y1="166.1" x2="465.7" y2="164.5" stroke="#4a9a5c" stroke-width="0.8"/>
<line x1="468.4" y1="166.1" x2="468.4" y2="165.0" stroke="#4a9a5c" stroke-width="0.8"/>
<line x1="472.9" y1="166.1" x2="472.9" y2="164.4" stroke="#4a9a5c" stroke-width="0.8"/>
<line x1="478.2" y1="166.1" x2="478.2" y2="164.5" stroke="#4a9a5c" stroke-width="0.8"/>
<line x1="481.7" y1="166.1" x2="481.7" y2="165.0" stroke="#4a9a5c" stroke-width="0.8"/>
<line x1="485.5" y1="166.1" x2="485.5" y2="164.4" stroke="#4a9a5c" stroke-width="0.8"/>
<line x1="491.3" y1="166.1" x2="491.3" y2="165.3" stroke="#4a9a5c" stroke-width="0.8"/>
<line x1="494.4" y1="166.1" x2="494.4" y2="165.2" stroke="#4a9a5c" stroke-width="0.8"/>
<line x1="497.7" y1="166.1" x2="497.7" y2="164.9" stroke="#4a9a5c" stroke-width="0.8"/>
<line x1="502.3" y1="166.1" x2="502.3" y2="165.2" stroke="#4a9a5c" stroke-width="0.8"/>
<line x1="504.8" y1="166.1" x2="504.8" y2="165.0" stroke="#4a9a5c" stroke-width="0.8"/>
<line x1="508.6" y1="166.1" x2="508.6" y2="164.8" stroke="#4a9a5c" stroke-width="0.8"/>
<line x1="514.5" y1="166.1" x2="514.5" y2="164.7" stroke="#4a9a5c" stroke-width="0.8"/>
<line x1="518.8" y1="166.1" x2="518.8" y2="164.8" stroke="#4a9a5c" stroke-width="0.8"/>
<line x1="523.6" y1="166.1" x2="523.6" y2="165.4" stroke="#4a9a5c" stroke-width="0.8"/>
<line x1="529.3" y1="166.1" x2="529.3" y2="164.6" stroke="#4a9a5c" stroke-width="0.8"/>
<line x1="534.8" y1="166.1" x2="534.8" y2="164.5" stroke="#4a9a5c" stroke-width="0.8"/>
<line x1="538.7" y1="166.1" x2="538.7" y2="165.0" stroke="#4a9a5c" stroke-width="0.8"/>
<line x1="541.6" y1="166.1" x2="541.6" y2="164.7" stroke="#4a9a5c" stroke-width="0.8"/>
<line x1="544.3" y1="166.1" x2="544.3" y2="165.4" stroke="#4a9a5c" stroke-width="0.8"/>
<line x1="547.5" y1="166.1" x2="547.5" y2="165.3" stroke="#4a9a5c" stroke-width="0.8"/>
<line x1="551.2" y1="166.1" x2="551.2" y2="165.4" stroke="#4a9a5c" stroke-width="0.8"/>
<line x1="553.7" y1="166.1" x2="553.7" y2="165.3" stroke="#4a9a5c" stroke-width="0.8"/>
<line x1="556.6" y1="166.1" x2="556.6" y2="165.1" stroke="#4a9a5c" stroke-width="0.8"/>
<line x1="559.2" y1="166.1" x2="559.2" y2="164.5" stroke="#4a9a5c" stroke-width="0.8"/>
<line x1="563.8" y1="166.1" x2="563.8" y2="165.3" stroke="#4a9a5c" stroke-width="0.8"/>
<line x1="567.2" y1="166.1" x2="567.2" y2="165.1" stroke="#4a9a5c" stroke-width="0.8"/>
<line x1="569.4" y1="166.1" x2="673.2" y2="166.1" stroke="#6cb27b" stroke-width="1.9"/>
<path d="M438.4,166.1 L438.8,135.5 L439.6,135.5 L439.9,166.1 Z" fill="#4a9a5c" stroke="#4a9a5c" stroke-width="0.5"/>
<path d="M439.6,166.1 L440.0,147 L440.8,147 L441.1,166.1 Z" fill="#4a9a5c" stroke="#4a9a5c" stroke-width="0.5"/>
<path d="M443.1,166.1 L443.4,163.5 L444.2,163.5 L444.6,166.1 Z" fill="#4a9a5c" stroke="#4a9a5c" stroke-width="0.5"/>
<path d="M448.1,166.1 L448.4,157 L449.2,157 L449.6,166.1 Z" fill="#4a9a5c" stroke="#4a9a5c" stroke-width="0.5"/>
<path d="M457.9,166.1 L458.3,159.8 L459.1,159.8 L459.4,166.1 Z" fill="#4a9a5c" stroke="#4a9a5c" stroke-width="0.5"/>
<path d="M461.9,166.1 L462.3,162.8 L463.1,162.8 L463.4,166.1 Z" fill="#4a9a5c" stroke="#4a9a5c" stroke-width="0.5"/>
<path d="M472.9,166.1 L473.2,163 L474.0,163 L474.4,166.1 Z" fill="#4a9a5c" stroke="#4a9a5c" stroke-width="0.5"/>
<path d="M485.2,166.1 L485.6,164.5 L486.4,164.5 L486.8,166.1 Z" fill="#4a9a5c" stroke="#4a9a5c" stroke-width="0.5"/>
<line x1="421.6" y1="198.0" x2="569.4" y2="198.0" stroke="#6aad7a" stroke-width="1.7"/>
<line x1="433.4" y1="198.0" x2="433.4" y2="197.3" stroke="#6aad7a" stroke-width="0.8"/>
<line x1="438.8" y1="198.0" x2="438.8" y2="196.2" stroke="#6aad7a" stroke-width="0.8"/>
<line x1="443.0" y1="198.0" x2="443.0" y2="196.8" stroke="#6aad7a" stroke-width="0.8"/>
<line x1="445.8" y1="198.0" x2="445.8" y2="197.3" stroke="#6aad7a" stroke-width="0.8"/>
<line x1="449.5" y1="198.0" x2="449.5" y2="197.1" stroke="#6aad7a" stroke-width="0.8"/>
<line x1="454.9" y1="198.0" x2="454.9" y2="197.2" stroke="#6aad7a" stroke-width="0.8"/>
<line x1="457.5" y1="198.0" x2="457.5" y2="196.3" stroke="#6aad7a" stroke-width="0.8"/>
<line x1="461.8" y1="198.0" x2="461.8" y2="197.2" stroke="#6aad7a" stroke-width="0.8"/>
<line x1="466.2" y1="198.0" x2="466.2" y2="197.4" stroke="#6aad7a" stroke-width="0.8"/>
<line x1="470.6" y1="198.0" x2="470.6" y2="196.2" stroke="#6aad7a" stroke-width="0.8"/>
<line x1="476.1" y1="198.0" x2="476.1" y2="196.6" stroke="#6aad7a" stroke-width="0.8"/>
<line x1="479.5" y1="198.0" x2="479.5" y2="197.0" stroke="#6aad7a" stroke-width="0.8"/>
<line x1="482.6" y1="198.0" x2="482.6" y2="196.5" stroke="#6aad7a" stroke-width="0.8"/>
<line x1="486.9" y1="198.0" x2="486.9" y2="196.5" stroke="#6aad7a" stroke-width="0.8"/>
<line x1="490.6" y1="198.0" x2="490.6" y2="197.1" stroke="#6aad7a" stroke-width="0.8"/>
<line x1="495.9" y1="198.0" x2="495.9" y2="196.2" stroke="#6aad7a" stroke-width="0.8"/>
<line x1="501.4" y1="198.0" x2="501.4" y2="196.4" stroke="#6aad7a" stroke-width="0.8"/>
<line x1="506.8" y1="198.0" x2="506.8" y2="196.5" stroke="#6aad7a" stroke-width="0.8"/>
<line x1="510.1" y1="198.0" x2="510.1" y2="196.8" stroke="#6aad7a" stroke-width="0.8"/>
<line x1="513.8" y1="198.0" x2="513.8" y2="197.4" stroke="#6aad7a" stroke-width="0.8"/>
<line x1="516.4" y1="198.0" x2="516.4" y2="197.1" stroke="#6aad7a" stroke-width="0.8"/>
<line x1="519.8" y1="198.0" x2="519.8" y2="196.6" stroke="#6aad7a" stroke-width="0.8"/>
<line x1="525.7" y1="198.0" x2="525.7" y2="196.9" stroke="#6aad7a" stroke-width="0.8"/>
<line x1="531.5" y1="198.0" x2="531.5" y2="196.2" stroke="#6aad7a" stroke-width="0.8"/>
<line x1="537.3" y1="198.0" x2="537.3" y2="197.0" stroke="#6aad7a" stroke-width="0.8"/>
<line x1="540.6" y1="198.0" x2="540.6" y2="197.1" stroke="#6aad7a" stroke-width="0.8"/>
<line x1="543.8" y1="198.0" x2="543.8" y2="197.2" stroke="#6aad7a" stroke-width="0.8"/>
<line x1="548.4" y1="198.0" x2="548.4" y2="196.3" stroke="#6aad7a" stroke-width="0.8"/>
<line x1="553.9" y1="198.0" x2="553.9" y2="196.8" stroke="#6aad7a" stroke-width="0.8"/>
<line x1="558.7" y1="198.0" x2="558.7" y2="196.4" stroke="#6aad7a" stroke-width="0.8"/>
<line x1="561.5" y1="198.0" x2="561.5" y2="196.6" stroke="#6aad7a" stroke-width="0.8"/>
<line x1="567.1" y1="198.0" x2="567.1" y2="196.5" stroke="#6aad7a" stroke-width="0.8"/>
<line x1="569.4" y1="198.0" x2="673.2" y2="198.0" stroke="#8cc49a" stroke-width="1.9"/>
<path d="M430.8,198.0 L431.1,159.5 L431.9,159.5 L432.2,198.0 Z" fill="#6aad7a" stroke="#6aad7a" stroke-width="0.5"/>
<path d="M438.2,198.0 L438.6,168.3 L439.4,168.3 L439.8,198.0 Z" fill="#6aad7a" stroke="#6aad7a" stroke-width="0.5"/>
<path d="M439.4,198.0 L439.8,168 L440.6,168 L440.9,198.0 Z" fill="#6aad7a" stroke="#6aad7a" stroke-width="0.5"/>
<path d="M440.4,198.0 L440.8,171 L441.6,171 L441.9,198.0 Z" fill="#6aad7a" stroke="#6aad7a" stroke-width="0.5"/>
<path d="M447.1,198.0 L447.5,181.7 L448.2,181.7 L448.6,198.0 Z" fill="#6aad7a" stroke="#6aad7a" stroke-width="0.5"/>
<path d="M451.2,198.0 L451.6,196 L452.4,196 L452.8,198.0 Z" fill="#6aad7a" stroke="#6aad7a" stroke-width="0.5"/>
<path d="M455.2,198.0 L455.6,195 L456.4,195 L456.8,198.0 Z" fill="#6aad7a" stroke="#6aad7a" stroke-width="0.5"/>
<path d="M462.6,198.0 L463.0,184.8 L463.8,184.8 L464.1,198.0 Z" fill="#6aad7a" stroke="#6aad7a" stroke-width="0.5"/>
<path d="M465.2,198.0 L465.6,195.5 L466.4,195.5 L466.8,198.0 Z" fill="#6aad7a" stroke="#6aad7a" stroke-width="0.5"/>
<path d="M472.9,198.0 L473.3,195.5 L474.1,195.5 L474.4,198.0 Z" fill="#6aad7a" stroke="#6aad7a" stroke-width="0.5"/>
<path d="M485.2,198.0 L485.6,196 L486.4,196 L486.8,198.0 Z" fill="#6aad7a" stroke="#6aad7a" stroke-width="0.5"/>
<path d="M499.2,198.0 L499.6,196.5 L500.4,196.5 L500.8,198.0 Z" fill="#6aad7a" stroke="#6aad7a" stroke-width="0.5"/>
<line x1="421.6" y1="229.8" x2="569.4" y2="229.8" stroke="#9ccb9d" stroke-width="1.7"/>
<line x1="434.7" y1="229.8" x2="434.7" y2="228.6" stroke="#9ccb9d" stroke-width="0.8"/>
<line x1="437.9" y1="229.8" x2="437.9" y2="228.3" stroke="#9ccb9d" stroke-width="0.8"/>
<line x1="441.5" y1="229.8" x2="441.5" y2="228.2" stroke="#9ccb9d" stroke-width="0.8"/>
<line x1="447.4" y1="229.8" x2="447.4" y2="228.7" stroke="#9ccb9d" stroke-width="0.8"/>
<line x1="451.3" y1="229.8" x2="451.3" y2="228.1" stroke="#9ccb9d" stroke-width="0.8"/>
<line x1="456.4" y1="229.8" x2="456.4" y2="229.0" stroke="#9ccb9d" stroke-width="0.8"/>
<line x1="459.3" y1="229.8" x2="459.3" y2="229.0" stroke="#9ccb9d" stroke-width="0.8"/>
<line x1="465.0" y1="229.8" x2="465.0" y2="228.2" stroke="#9ccb9d" stroke-width="0.8"/>
<line x1="468.0" y1="229.8" x2="468.0" y2="228.2" stroke="#9ccb9d" stroke-width="0.8"/>
<line x1="473.9" y1="229.8" x2="473.9" y2="228.4" stroke="#9ccb9d" stroke-width="0.8"/>
<line x1="477.6" y1="229.8" x2="477.6" y2="228.5" stroke="#9ccb9d" stroke-width="0.8"/>
<line x1="480.6" y1="229.8" x2="480.6" y2="229.2" stroke="#9ccb9d" stroke-width="0.8"/>
<line x1="486.5" y1="229.8" x2="486.5" y2="228.4" stroke="#9ccb9d" stroke-width="0.8"/>
<line x1="490.8" y1="229.8" x2="490.8" y2="228.1" stroke="#9ccb9d" stroke-width="0.8"/>
<line x1="494.9" y1="229.8" x2="494.9" y2="228.2" stroke="#9ccb9d" stroke-width="0.8"/>
<line x1="500.2" y1="229.8" x2="500.2" y2="228.9" stroke="#9ccb9d" stroke-width="0.8"/>
<line x1="503.6" y1="229.8" x2="503.6" y2="228.8" stroke="#9ccb9d" stroke-width="0.8"/>
<line x1="507.0" y1="229.8" x2="507.0" y2="228.5" stroke="#9ccb9d" stroke-width="0.8"/>
<line x1="510.4" y1="229.8" x2="510.4" y2="228.7" stroke="#9ccb9d" stroke-width="0.8"/>
<line x1="513.3" y1="229.8" x2="513.3" y2="228.1" stroke="#9ccb9d" stroke-width="0.8"/>
<line x1="517.1" y1="229.8" x2="517.1" y2="228.7" stroke="#9ccb9d" stroke-width="0.8"/>
<line x1="521.6" y1="229.8" x2="521.6" y2="228.1" stroke="#9ccb9d" stroke-width="0.8"/>
<line x1="525.6" y1="229.8" x2="525.6" y2="228.1" stroke="#9ccb9d" stroke-width="0.8"/>
<line x1="529.8" y1="229.8" x2="529.8" y2="228.6" stroke="#9ccb9d" stroke-width="0.8"/>
<line x1="534.2" y1="229.8" x2="534.2" y2="229.2" stroke="#9ccb9d" stroke-width="0.8"/>
<line x1="538.2" y1="229.8" x2="538.2" y2="229.0" stroke="#9ccb9d" stroke-width="0.8"/>
<line x1="540.7" y1="229.8" x2="540.7" y2="228.2" stroke="#9ccb9d" stroke-width="0.8"/>
<line x1="543.8" y1="229.8" x2="543.8" y2="228.6" stroke="#9ccb9d" stroke-width="0.8"/>
<line x1="548.9" y1="229.8" x2="548.9" y2="228.5" stroke="#9ccb9d" stroke-width="0.8"/>
<line x1="552.5" y1="229.8" x2="552.5" y2="228.6" stroke="#9ccb9d" stroke-width="0.8"/>
<line x1="557.0" y1="229.8" x2="557.0" y2="228.3" stroke="#9ccb9d" stroke-width="0.8"/>
<line x1="559.8" y1="229.8" x2="559.8" y2="228.5" stroke="#9ccb9d" stroke-width="0.8"/>
<line x1="563.2" y1="229.8" x2="563.2" y2="228.9" stroke="#9ccb9d" stroke-width="0.8"/>
<line x1="568.4" y1="229.8" x2="568.4" y2="228.6" stroke="#9ccb9d" stroke-width="0.8"/>
<line x1="569.4" y1="229.8" x2="673.2" y2="229.8" stroke="#a6d2aa" stroke-width="1.9"/>
<path d="M431.1,229.8 L431.4,199 L432.2,199 L432.6,229.8 Z" fill="#9ccb9d" stroke="#9ccb9d" stroke-width="0.5"/>
<path d="M439.2,229.8 L439.6,224 L440.4,224 L440.8,229.8 Z" fill="#9ccb9d" stroke="#9ccb9d" stroke-width="0.5"/>
<path d="M440.1,229.8 L440.4,225 L441.2,225 L441.6,229.8 Z" fill="#9ccb9d" stroke="#9ccb9d" stroke-width="0.5"/>
<path d="M449.9,229.8 L450.2,224 L451.0,224 L451.4,229.8 Z" fill="#9ccb9d" stroke="#9ccb9d" stroke-width="0.5"/>
<path d="M458.6,229.8 L458.9,227 L459.7,227 L460.1,229.8 Z" fill="#9ccb9d" stroke="#9ccb9d" stroke-width="0.5"/>
<path d="M463.1,229.8 L463.4,224.5 L464.2,224.5 L464.6,229.8 Z" fill="#9ccb9d" stroke="#9ccb9d" stroke-width="0.5"/>
<path d="M471.2,229.8 L471.6,228 L472.4,228 L472.8,229.8 Z" fill="#9ccb9d" stroke="#9ccb9d" stroke-width="0.5"/>
<line x1="421.6" y1="261.6" x2="569.4" y2="261.6" stroke="#b2cd8e" stroke-width="1.7"/>
<line x1="434.1" y1="261.6" x2="434.1" y2="260.1" stroke="#b2cd8e" stroke-width="0.8"/>
<line x1="439.8" y1="261.6" x2="439.8" y2="260.5" stroke="#b2cd8e" stroke-width="0.8"/>
<line x1="444.4" y1="261.6" x2="444.4" y2="260.4" stroke="#b2cd8e" stroke-width="0.8"/>
<line x1="448.7" y1="261.6" x2="448.7" y2="260.2" stroke="#b2cd8e" stroke-width="0.8"/>
<line x1="452.8" y1="261.6" x2="452.8" y2="260.4" stroke="#b2cd8e" stroke-width="0.8"/>
<line x1="457.0" y1="261.6" x2="457.0" y2="259.9" stroke="#b2cd8e" stroke-width="0.8"/>
<line x1="461.9" y1="261.6" x2="461.9" y2="259.9" stroke="#b2cd8e" stroke-width="0.8"/>
<line x1="467.7" y1="261.6" x2="467.7" y2="260.7" stroke="#b2cd8e" stroke-width="0.8"/>
<line x1="472.2" y1="261.6" x2="472.2" y2="259.9" stroke="#b2cd8e" stroke-width="0.8"/>
<line x1="477.6" y1="261.6" x2="477.6" y2="260.8" stroke="#b2cd8e" stroke-width="0.8"/>
<line x1="480.5" y1="261.6" x2="480.5" y2="260.5" stroke="#b2cd8e" stroke-width="0.8"/>
<line x1="483.3" y1="261.6" x2="483.3" y2="260.7" stroke="#b2cd8e" stroke-width="0.8"/>
<line x1="486.0" y1="261.6" x2="486.0" y2="260.2" stroke="#b2cd8e" stroke-width="0.8"/>
<line x1="491.3" y1="261.6" x2="491.3" y2="259.9" stroke="#b2cd8e" stroke-width="0.8"/>
<line x1="494.3" y1="261.6" x2="494.3" y2="260.1" stroke="#b2cd8e" stroke-width="0.8"/>
<line x1="499.1" y1="261.6" x2="499.1" y2="260.8" stroke="#b2cd8e" stroke-width="0.8"/>
<line x1="504.7" y1="261.6" x2="504.7" y2="259.8" stroke="#b2cd8e" stroke-width="0.8"/>
<line x1="508.0" y1="261.6" x2="508.0" y2="259.9" stroke="#b2cd8e" stroke-width="0.8"/>
<line x1="511.9" y1="261.6" x2="511.9" y2="260.4" stroke="#b2cd8e" stroke-width="0.8"/>
<line x1="517.8" y1="261.6" x2="517.8" y2="260.0" stroke="#b2cd8e" stroke-width="0.8"/>
<line x1="520.9" y1="261.6" x2="520.9" y2="260.5" stroke="#b2cd8e" stroke-width="0.8"/>
<line x1="525.2" y1="261.6" x2="525.2" y2="260.6" stroke="#b2cd8e" stroke-width="0.8"/>
<line x1="528.4" y1="261.6" x2="528.4" y2="260.6" stroke="#b2cd8e" stroke-width="0.8"/>
<line x1="533.4" y1="261.6" x2="533.4" y2="261.0" stroke="#b2cd8e" stroke-width="0.8"/>
<line x1="537.9" y1="261.6" x2="537.9" y2="260.5" stroke="#b2cd8e" stroke-width="0.8"/>
<line x1="540.4" y1="261.6" x2="540.4" y2="260.6" stroke="#b2cd8e" stroke-width="0.8"/>
<line x1="545.1" y1="261.6" x2="545.1" y2="260.4" stroke="#b2cd8e" stroke-width="0.8"/>
<line x1="547.8" y1="261.6" x2="547.8" y2="259.8" stroke="#b2cd8e" stroke-width="0.8"/>
<line x1="553.1" y1="261.6" x2="553.1" y2="259.8" stroke="#b2cd8e" stroke-width="0.8"/>
<line x1="556.0" y1="261.6" x2="556.0" y2="260.7" stroke="#b2cd8e" stroke-width="0.8"/>
<line x1="558.6" y1="261.6" x2="558.6" y2="260.1" stroke="#b2cd8e" stroke-width="0.8"/>
<line x1="562.0" y1="261.6" x2="562.0" y2="260.8" stroke="#b2cd8e" stroke-width="0.8"/>
<line x1="566.0" y1="261.6" x2="566.0" y2="259.9" stroke="#b2cd8e" stroke-width="0.8"/>
<line x1="571.4" y1="261.6" x2="571.4" y2="260.7" stroke="#b2cd8e" stroke-width="0.8"/>
<line x1="569.4" y1="261.6" x2="673.2" y2="261.6" stroke="#c0d59e" stroke-width="1.9"/>
<path d="M431.1,261.6 L431.4,231 L432.2,231 L432.6,261.6 Z" fill="#b2cd8e" stroke="#b2cd8e" stroke-width="0.5"/>
<path d="M443.1,261.6 L443.4,259 L444.2,259 L444.6,261.6 Z" fill="#b2cd8e" stroke="#b2cd8e" stroke-width="0.5"/>
<path d="M446.2,261.6 L446.6,260 L447.4,260 L447.8,261.6 Z" fill="#b2cd8e" stroke="#b2cd8e" stroke-width="0.5"/>
<path d="M458.1,261.6 L458.4,258 L459.2,258 L459.6,261.6 Z" fill="#b2cd8e" stroke="#b2cd8e" stroke-width="0.5"/>
<path d="M461.2,261.6 L461.6,260 L462.4,260 L462.8,261.6 Z" fill="#b2cd8e" stroke="#b2cd8e" stroke-width="0.5"/>
<path d="M469.2,261.6 L469.6,260.3 L470.4,260.3 L470.8,261.6 Z" fill="#b2cd8e" stroke="#b2cd8e" stroke-width="0.5"/>
<line x1="421.6" y1="293.4" x2="569.4" y2="293.4" stroke="#9dbb6a" stroke-width="1.7"/>
<line x1="432.6" y1="293.4" x2="432.6" y2="291.7" stroke="#9dbb6a" stroke-width="0.8"/>
<line x1="437.1" y1="293.4" x2="437.1" y2="292.0" stroke="#9dbb6a" stroke-width="0.8"/>
<line x1="439.9" y1="293.4" x2="439.9" y2="292.7" stroke="#9dbb6a" stroke-width="0.8"/>
<line x1="444.8" y1="293.4" x2="444.8" y2="292.3" stroke="#9dbb6a" stroke-width="0.8"/>
<line x1="447.6" y1="293.4" x2="447.6" y2="291.7" stroke="#9dbb6a" stroke-width="0.8"/>
<line x1="452.3" y1="293.4" x2="452.3" y2="291.8" stroke="#9dbb6a" stroke-width="0.8"/>
<line x1="455.1" y1="293.4" x2="455.1" y2="291.8" stroke="#9dbb6a" stroke-width="0.8"/>
<line x1="457.8" y1="293.4" x2="457.8" y2="291.8" stroke="#9dbb6a" stroke-width="0.8"/>
<line x1="461.9" y1="293.4" x2="461.9" y2="292.4" stroke="#9dbb6a" stroke-width="0.8"/>
<line x1="466.4" y1="293.4" x2="466.4" y2="291.7" stroke="#9dbb6a" stroke-width="0.8"/>
<line x1="469.8" y1="293.4" x2="469.8" y2="292.6" stroke="#9dbb6a" stroke-width="0.8"/>
<line x1="474.1" y1="293.4" x2="474.1" y2="292.5" stroke="#9dbb6a" stroke-width="0.8"/>
<line x1="477.0" y1="293.4" x2="477.0" y2="292.6" stroke="#9dbb6a" stroke-width="0.8"/>
<line x1="479.7" y1="293.4" x2="479.7" y2="292.6" stroke="#9dbb6a" stroke-width="0.8"/>
<line x1="483.3" y1="293.4" x2="483.3" y2="292.4" stroke="#9dbb6a" stroke-width="0.8"/>
<line x1="488.5" y1="293.4" x2="488.5" y2="292.5" stroke="#9dbb6a" stroke-width="0.8"/>
<line x1="492.7" y1="293.4" x2="492.7" y2="292.6" stroke="#9dbb6a" stroke-width="0.8"/>
<line x1="496.4" y1="293.4" x2="496.4" y2="292.8" stroke="#9dbb6a" stroke-width="0.8"/>
<line x1="499.8" y1="293.4" x2="499.8" y2="292.8" stroke="#9dbb6a" stroke-width="0.8"/>
<line x1="504.9" y1="293.4" x2="504.9" y2="292.1" stroke="#9dbb6a" stroke-width="0.8"/>
<line x1="508.0" y1="293.4" x2="508.0" y2="292.2" stroke="#9dbb6a" stroke-width="0.8"/>
<line x1="513.8" y1="293.4" x2="513.8" y2="292.7" stroke="#9dbb6a" stroke-width="0.8"/>
<line x1="519.2" y1="293.4" x2="519.2" y2="292.3" stroke="#9dbb6a" stroke-width="0.8"/>
<line x1="523.4" y1="293.4" x2="523.4" y2="291.8" stroke="#9dbb6a" stroke-width="0.8"/>
<line x1="527.3" y1="293.4" x2="527.3" y2="292.2" stroke="#9dbb6a" stroke-width="0.8"/>
<line x1="532.2" y1="293.4" x2="532.2" y2="291.6" stroke="#9dbb6a" stroke-width="0.8"/>
<line x1="535.9" y1="293.4" x2="535.9" y2="291.8" stroke="#9dbb6a" stroke-width="0.8"/>
<line x1="540.9" y1="293.4" x2="540.9" y2="292.0" stroke="#9dbb6a" stroke-width="0.8"/>
<line x1="544.8" y1="293.4" x2="544.8" y2="292.4" stroke="#9dbb6a" stroke-width="0.8"/>
<line x1="547.5" y1="293.4" x2="547.5" y2="292.6" stroke="#9dbb6a" stroke-width="0.8"/>
<line x1="550.2" y1="293.4" x2="550.2" y2="291.9" stroke="#9dbb6a" stroke-width="0.8"/>
<line x1="553.6" y1="293.4" x2="553.6" y2="292.6" stroke="#9dbb6a" stroke-width="0.8"/>
<line x1="556.4" y1="293.4" x2="556.4" y2="291.8" stroke="#9dbb6a" stroke-width="0.8"/>
<line x1="561.9" y1="293.4" x2="561.9" y2="292.0" stroke="#9dbb6a" stroke-width="0.8"/>
<line x1="565.4" y1="293.4" x2="565.4" y2="292.5" stroke="#9dbb6a" stroke-width="0.8"/>
<line x1="569.0" y1="293.4" x2="569.0" y2="292.2" stroke="#9dbb6a" stroke-width="0.8"/>
<line x1="569.4" y1="293.4" x2="673.2" y2="293.4" stroke="#b2c788" stroke-width="1.9"/>
<path d="M431.1,293.4 L431.4,262 L432.2,262 L432.6,293.4 Z" fill="#9dbb6a" stroke="#9dbb6a" stroke-width="0.5"/>
<path d="M443.6,293.4 L444.0,289.5 L444.8,289.5 L445.1,293.4 Z" fill="#9dbb6a" stroke="#9dbb6a" stroke-width="0.5"/>
<path d="M458.1,293.4 L458.4,289 L459.2,289 L459.6,293.4 Z" fill="#9dbb6a" stroke="#9dbb6a" stroke-width="0.5"/>
<path d="M463.1,293.4 L463.4,291 L464.2,291 L464.6,293.4 Z" fill="#9dbb6a" stroke="#9dbb6a" stroke-width="0.5"/>
<path d="M469.2,293.4 L469.6,291.5 L470.4,291.5 L470.8,293.4 Z" fill="#9dbb6a" stroke="#9dbb6a" stroke-width="0.5"/>
<line x1="421.6" y1="324.9" x2="569.4" y2="324.9" stroke="#8aa844" stroke-width="1.7"/>
<line x1="432.7" y1="324.9" x2="432.7" y2="323.8" stroke="#8aa844" stroke-width="0.8"/>
<line x1="436.1" y1="324.9" x2="436.1" y2="323.1" stroke="#8aa844" stroke-width="0.8"/>
<line x1="442.0" y1="324.9" x2="442.0" y2="323.6" stroke="#8aa844" stroke-width="0.8"/>
<line x1="445.3" y1="324.9" x2="445.3" y2="323.1" stroke="#8aa844" stroke-width="0.8"/>
<line x1="448.9" y1="324.9" x2="448.9" y2="323.9" stroke="#8aa844" stroke-width="0.8"/>
<line x1="451.4" y1="324.9" x2="451.4" y2="323.8" stroke="#8aa844" stroke-width="0.8"/>
<line x1="455.6" y1="324.9" x2="455.6" y2="323.7" stroke="#8aa844" stroke-width="0.8"/>
<line x1="458.8" y1="324.9" x2="458.8" y2="323.7" stroke="#8aa844" stroke-width="0.8"/>
<line x1="461.3" y1="324.9" x2="461.3" y2="324.0" stroke="#8aa844" stroke-width="0.8"/>
<line x1="464.1" y1="324.9" x2="464.1" y2="323.8" stroke="#8aa844" stroke-width="0.8"/>
<line x1="466.8" y1="324.9" x2="466.8" y2="324.3" stroke="#8aa844" stroke-width="0.8"/>
<line x1="470.3" y1="324.9" x2="470.3" y2="324.0" stroke="#8aa844" stroke-width="0.8"/>
<line x1="474.9" y1="324.9" x2="474.9" y2="323.7" stroke="#8aa844" stroke-width="0.8"/>
<line x1="480.0" y1="324.9" x2="480.0" y2="323.5" stroke="#8aa844" stroke-width="0.8"/>
<line x1="485.0" y1="324.9" x2="485.0" y2="323.2" stroke="#8aa844" stroke-width="0.8"/>
<line x1="488.9" y1="324.9" x2="488.9" y2="323.9" stroke="#8aa844" stroke-width="0.8"/>
<line x1="494.8" y1="324.9" x2="494.8" y2="324.1" stroke="#8aa844" stroke-width="0.8"/>
<line x1="499.9" y1="324.9" x2="499.9" y2="323.5" stroke="#8aa844" stroke-width="0.8"/>
<line x1="502.5" y1="324.9" x2="502.5" y2="323.3" stroke="#8aa844" stroke-width="0.8"/>
<line x1="508.1" y1="324.9" x2="508.1" y2="323.5" stroke="#8aa844" stroke-width="0.8"/>
<line x1="513.2" y1="324.9" x2="513.2" y2="323.3" stroke="#8aa844" stroke-width="0.8"/>
<line x1="516.2" y1="324.9" x2="516.2" y2="323.7" stroke="#8aa844" stroke-width="0.8"/>
<line x1="520.4" y1="324.9" x2="520.4" y2="323.3" stroke="#8aa844" stroke-width="0.8"/>
<line x1="525.8" y1="324.9" x2="525.8" y2="323.3" stroke="#8aa844" stroke-width="0.8"/>
<line x1="530.3" y1="324.9" x2="530.3" y2="323.2" stroke="#8aa844" stroke-width="0.8"/>
<line x1="535.2" y1="324.9" x2="535.2" y2="323.5" stroke="#8aa844" stroke-width="0.8"/>
<line x1="538.5" y1="324.9" x2="538.5" y2="324.3" stroke="#8aa844" stroke-width="0.8"/>
<line x1="541.5" y1="324.9" x2="541.5" y2="323.9" stroke="#8aa844" stroke-width="0.8"/>
<line x1="544.3" y1="324.9" x2="544.3" y2="323.3" stroke="#8aa844" stroke-width="0.8"/>
<line x1="548.8" y1="324.9" x2="548.8" y2="323.5" stroke="#8aa844" stroke-width="0.8"/>
<line x1="553.5" y1="324.9" x2="553.5" y2="323.5" stroke="#8aa844" stroke-width="0.8"/>
<line x1="557.7" y1="324.9" x2="557.7" y2="324.3" stroke="#8aa844" stroke-width="0.8"/>
<line x1="563.0" y1="324.9" x2="563.0" y2="323.4" stroke="#8aa844" stroke-width="0.8"/>
<line x1="567.2" y1="324.9" x2="567.2" y2="323.7" stroke="#8aa844" stroke-width="0.8"/>
<path d="M436.4,324.9 L436.8,293.6 L437.6,293.6 L437.9,324.9 Z" fill="#8aa844" stroke="#8aa844" stroke-width="0.5"/>
<path d="M444.6,324.9 L445.0,322 L445.8,322 L446.1,324.9 Z" fill="#8aa844" stroke="#8aa844" stroke-width="0.5"/>
<path d="M449.4,324.9 L449.8,319.4 L450.5,319.4 L450.9,324.9 Z" fill="#8aa844" stroke="#8aa844" stroke-width="0.5"/>
<path d="M459.1,324.9 L459.4,321 L460.2,321 L460.6,324.9 Z" fill="#8aa844" stroke="#8aa844" stroke-width="0.5"/>
<path d="M461.1,324.9 L461.5,319 L462.2,319 L462.6,324.9 Z" fill="#8aa844" stroke="#8aa844" stroke-width="0.5"/>
<path d="M469.1,324.9 L469.5,320 L470.2,320 L470.6,324.9 Z" fill="#8aa844" stroke="#8aa844" stroke-width="0.5"/>
<path d="M484.9,324.9 L485.2,322.3 L486.0,322.3 L486.4,324.9 Z" fill="#8aa844" stroke="#8aa844" stroke-width="0.5"/>
<line x1="421.6" y1="98.8" x2="570.1" y2="98.8" stroke="#111" stroke-width="2.1"/>
<line x1="421.6" y1="98.1" x2="421.6" y2="332.9" stroke="#111" stroke-width="1.7"/>
<line x1="569.4" y1="98.1" x2="569.4" y2="332.9" stroke="#111" stroke-width="1.7"/>
<line x1="421.6" y1="332.2" x2="569.4" y2="332.2" stroke="#111" stroke-width="1.7"/>
<line x1="437.8" y1="332.2" x2="437.8" y2="336.2" stroke="#111" stroke-width="1.4"/>
<text x="437.8" y="348.2" font-size="11.5" fill="#1a1a1a" text-anchor="middle" >10</text>
<line x1="470.7" y1="332.2" x2="470.7" y2="336.2" stroke="#111" stroke-width="1.4"/>
<text x="470.7" y="348.2" font-size="11.5" fill="#1a1a1a" text-anchor="middle" >20</text>
<line x1="503.6" y1="332.2" x2="503.6" y2="336.2" stroke="#111" stroke-width="1.4"/>
<text x="503.6" y="348.2" font-size="11.5" fill="#1a1a1a" text-anchor="middle" >30</text>
<line x1="536.5" y1="332.2" x2="536.5" y2="336.2" stroke="#111" stroke-width="1.4"/>
<text x="536.5" y="348.2" font-size="11.5" fill="#1a1a1a" text-anchor="middle" >40</text>
<line x1="569.4" y1="332.2" x2="569.4" y2="336.2" stroke="#111" stroke-width="1.4"/>
<text x="569.4" y="348.2" font-size="11.5" fill="#1a1a1a" text-anchor="middle" >50</text>
<line x1="454.2" y1="332.2" x2="454.2" y2="334.7" stroke="#111" stroke-width="1.1"/>
<line x1="487.1" y1="332.2" x2="487.1" y2="334.7" stroke="#111" stroke-width="1.1"/>
<line x1="520.0" y1="332.2" x2="520.0" y2="334.7" stroke="#111" stroke-width="1.1"/>
<line x1="553.0" y1="332.2" x2="553.0" y2="334.7" stroke="#111" stroke-width="1.1"/>
<text x="500" y="359.5" font-size="12.2" fill="#1a1a1a" text-anchor="middle" >2 Theta (degree)</text>
<text transform="translate(415.5,214.2) rotate(-90)" font-size="12" fill="#1a1a1a" text-anchor="middle">Intensity</text>
<text x="456" y="111.4" font-size="11.4" fill="#1a1a1a">CuBDC-NO<tspan font-size="8.2" dy="2.8">2</tspan></text>
<text x="549.8" y="130.3" font-size="11.7" fill="#1a1a1a" text-anchor="end" >AB</text>
<text x="560.3" y="160.9" font-size="11.7" fill="#1a1a1a" text-anchor="end">AB<tspan font-size="8.2" dy="2.5">0.81</tspan></text>
<text x="560.3" y="192.6" font-size="11.7" fill="#1a1a1a" text-anchor="end">AB<tspan font-size="8.2" dy="2.5">0.61</tspan></text>
<text x="560.3" y="225.4" font-size="11.7" fill="#1a1a1a" text-anchor="end">AB<tspan font-size="8.2" dy="2.5">0.40</tspan></text>
<text x="560.1" y="256.5" font-size="11.7" fill="#1a1a1a" text-anchor="end">AB<tspan font-size="8.2" dy="2.5">0.17</tspan></text>
<text x="518" y="256.5" font-size="12" fill="#1a1a1a" text-anchor="end" >Stable stacking</text>
<text x="549" y="290.4" font-size="12" fill="#1a1a1a" text-anchor="end" >AA</text>
<text x="565.2" y="320" font-size="12" fill="#1a1a1a" text-anchor="end" >Optimized bulk</text>
<rect x="585.1" y="102.6" width="31.699999999999932" height="28.099999999999994" fill="none" stroke="#d6dcc0" stroke-width="0.7"/>
<line x1="580.2" y1="111.2" x2="623.6" y2="111.2" stroke="#935e45" stroke-width="1.3"/>
<polygon points="581.7,113.2 583.3,110.0 585.9,108.3 589.8,109.2 588.2,112.4 585.6,114.1" fill="#f1e8de" stroke="#8c5842" stroke-width="1.25"/>
<line x1="586.7" y1="108.8" x2="586.7" y2="106.6" stroke="#9a6a50" stroke-width="0.9"/>
<circle cx="586.2" cy="105.5" r="0.95" fill="#e0603e"/>
<circle cx="588.3" cy="106.8" r="0.85" fill="#8cbf7c"/>
<circle cx="582.9" cy="114.6" r="0.65" fill="#eab8bc"/>
<polygon points="597.2,113.2 598.8,110.0 601.4,108.3 605.3,109.2 603.7,112.4 601.1,114.1" fill="#f1e8de" stroke="#8c5842" stroke-width="1.25"/>
<line x1="602.2" y1="108.8" x2="602.2" y2="106.6" stroke="#9a6a50" stroke-width="0.9"/>
<circle cx="601.7" cy="105.5" r="0.95" fill="#e0603e"/>
<circle cx="603.8" cy="106.8" r="0.85" fill="#8cbf7c"/>
<circle cx="598.4" cy="114.6" r="0.65" fill="#eab8bc"/>
<polygon points="612.7,113.2 614.3,110.0 616.9,108.3 620.8,109.2 619.2,112.4 616.6,114.1" fill="#f1e8de" stroke="#8c5842" stroke-width="1.25"/>
<line x1="617.7" y1="108.8" x2="617.7" y2="106.6" stroke="#9a6a50" stroke-width="0.9"/>
<circle cx="617.2" cy="105.5" r="0.95" fill="#e0603e"/>
<circle cx="619.3" cy="106.8" r="0.85" fill="#8cbf7c"/>
<circle cx="613.9" cy="114.6" r="0.65" fill="#eab8bc"/>
<rect x="590.5" y="107.7" width="6" height="7" rx="2.2" fill="#fbf6f2" stroke="#d8603e" stroke-width="0.85"/>
<circle cx="593.5" cy="108.1" r="1.25" fill="#86c2e4" stroke="#4a96c6" stroke-width="0.4"/>
<circle cx="593.5" cy="114.3" r="1.25" fill="#86c2e4" stroke="#4a96c6" stroke-width="0.4"/>
<rect x="606.0" y="107.7" width="6" height="7" rx="2.2" fill="#fbf6f2" stroke="#d8603e" stroke-width="0.85"/>
<circle cx="609.0" cy="108.1" r="1.25" fill="#86c2e4" stroke="#4a96c6" stroke-width="0.4"/>
<circle cx="609.0" cy="114.3" r="1.25" fill="#86c2e4" stroke="#4a96c6" stroke-width="0.4"/>
<line x1="580.2" y1="109.0" x2="580.2" y2="113.4" stroke="#8e5a42" stroke-width="1"/>
<circle cx="580.2" cy="108.8" r="0.9" fill="#e0603e"/>
<circle cx="580.2" cy="113.6" r="0.9" fill="#e0603e"/>
<line x1="623.6" y1="109.0" x2="623.6" y2="113.4" stroke="#8e5a42" stroke-width="1"/>
<circle cx="623.6" cy="108.8" r="0.9" fill="#e0603e"/>
<circle cx="623.6" cy="113.6" r="0.9" fill="#e0603e"/>
<line x1="580.2" y1="124.5" x2="623.6" y2="124.5" stroke="#935e45" stroke-width="1.3"/>
<polygon points="581.7,126.5 583.3,123.3 585.9,121.6 589.8,122.5 588.2,125.7 585.6,127.4" fill="#f1e8de" stroke="#8c5842" stroke-width="1.25"/>
<line x1="586.7" y1="122.1" x2="586.7" y2="119.9" stroke="#9a6a50" stroke-width="0.9"/>
<circle cx="586.2" cy="118.8" r="0.95" fill="#e0603e"/>
<circle cx="588.3" cy="120.1" r="0.85" fill="#8cbf7c"/>
<circle cx="582.9" cy="127.9" r="0.65" fill="#eab8bc"/>
<polygon points="597.2,126.5 598.8,123.3 601.4,121.6 605.3,122.5 603.7,125.7 601.1,127.4" fill="#f1e8de" stroke="#8c5842" stroke-width="1.25"/>
<line x1="602.2" y1="122.1" x2="602.2" y2="119.9" stroke="#9a6a50" stroke-width="0.9"/>
<circle cx="601.7" cy="118.8" r="0.95" fill="#e0603e"/>
<circle cx="603.8" cy="120.1" r="0.85" fill="#8cbf7c"/>
<circle cx="598.4" cy="127.9" r="0.65" fill="#eab8bc"/>
<polygon points="612.7,126.5 614.3,123.3 616.9,121.6 620.8,122.5 619.2,125.7 616.6,127.4" fill="#f1e8de" stroke="#8c5842" stroke-width="1.25"/>
<line x1="617.7" y1="122.1" x2="617.7" y2="119.9" stroke="#9a6a50" stroke-width="0.9"/>
<circle cx="617.2" cy="118.8" r="0.95" fill="#e0603e"/>
<circle cx="619.3" cy="120.1" r="0.85" fill="#8cbf7c"/>
<circle cx="613.9" cy="127.9" r="0.65" fill="#eab8bc"/>
<rect x="590.5" y="121.0" width="6" height="7" rx="2.2" fill="#fbf6f2" stroke="#d8603e" stroke-width="0.85"/>
<circle cx="593.5" cy="121.4" r="1.25" fill="#86c2e4" stroke="#4a96c6" stroke-width="0.4"/>
<circle cx="593.5" cy="127.6" r="1.25" fill="#86c2e4" stroke="#4a96c6" stroke-width="0.4"/>
<rect x="606.0" y="121.0" width="6" height="7" rx="2.2" fill="#fbf6f2" stroke="#d8603e" stroke-width="0.85"/>
<circle cx="609.0" cy="121.4" r="1.25" fill="#86c2e4" stroke="#4a96c6" stroke-width="0.4"/>
<circle cx="609.0" cy="127.6" r="1.25" fill="#86c2e4" stroke="#4a96c6" stroke-width="0.4"/>
<line x1="580.2" y1="122.3" x2="580.2" y2="126.7" stroke="#8e5a42" stroke-width="1"/>
<circle cx="580.2" cy="122.1" r="0.9" fill="#e0603e"/>
<circle cx="580.2" cy="126.9" r="0.9" fill="#e0603e"/>
<line x1="623.6" y1="122.3" x2="623.6" y2="126.7" stroke="#8e5a42" stroke-width="1"/>
<circle cx="623.6" cy="122.1" r="0.9" fill="#e0603e"/>
<circle cx="623.6" cy="126.9" r="0.9" fill="#e0603e"/>
<line x1="614.6" y1="111.2" x2="632.8" y2="111.2" stroke="#8db04c" stroke-width="1.2" stroke-dasharray="2.5 1.6"/>
<line x1="614.6" y1="124.5" x2="632.8" y2="124.5" stroke="#8db04c" stroke-width="1.2" stroke-dasharray="2.5 1.6"/>
<line x1="628.8" y1="114.7" x2="628.8" y2="121.0" stroke="#8aab45" stroke-width="1.6"/>
<path d="M628.8,111.5 l-2.9,4.4 l5.8,0 Z M628.8,124.2 l-2.9,-4.4 l5.8,0 Z" fill="#8aab45"/>
<text x="632.7" y="122.4" font-size="11" fill="#1a1a1a" text-anchor="start" >0.673</text>
<rect x="586" y="136" width="31" height="27.5" fill="none" stroke="#d6dcc0" stroke-width="0.7"/>
<line x1="578.7" y1="142.9" x2="622.1" y2="142.9" stroke="#935e45" stroke-width="1.3"/>
<polygon points="580.2,144.9 581.8,141.7 584.4,140.0 588.3,140.9 586.7,144.1 584.1,145.8" fill="#f1e8de" stroke="#8c5842" stroke-width="1.25"/>
<line x1="585.2" y1="140.5" x2="585.2" y2="138.3" stroke="#9a6a50" stroke-width="0.9"/>
<circle cx="584.7" cy="137.2" r="0.95" fill="#e0603e"/>
<circle cx="586.8" cy="138.5" r="0.85" fill="#8cbf7c"/>
<circle cx="581.4" cy="146.3" r="0.65" fill="#eab8bc"/>
<polygon points="595.7,144.9 597.3,141.7 599.9,140.0 603.8,140.9 602.2,144.1 599.6,145.8" fill="#f1e8de" stroke="#8c5842" stroke-width="1.25"/>
<line x1="600.7" y1="140.5" x2="600.7" y2="138.3" stroke="#9a6a50" stroke-width="0.9"/>
<circle cx="600.2" cy="137.2" r="0.95" fill="#e0603e"/>
<circle cx="602.3" cy="138.5" r="0.85" fill="#8cbf7c"/>
<circle cx="596.9" cy="146.3" r="0.65" fill="#eab8bc"/>
<polygon points="611.2,144.9 612.8,141.7 615.4,140.0 619.3,140.9 617.7,144.1 615.1,145.8" fill="#f1e8de" stroke="#8c5842" stroke-width="1.25"/>
<line x1="616.2" y1="140.5" x2="616.2" y2="138.3" stroke="#9a6a50" stroke-width="0.9"/>
<circle cx="615.7" cy="137.2" r="0.95" fill="#e0603e"/>
<circle cx="617.8" cy="138.5" r="0.85" fill="#8cbf7c"/>
<circle cx="612.4" cy="146.3" r="0.65" fill="#eab8bc"/>
<rect x="589.0" y="139.4" width="6" height="7" rx="2.2" fill="#fbf6f2" stroke="#d8603e" stroke-width="0.85"/>
<circle cx="592.0" cy="139.8" r="1.25" fill="#86c2e4" stroke="#4a96c6" stroke-width="0.4"/>
<circle cx="592.0" cy="146.0" r="1.25" fill="#86c2e4" stroke="#4a96c6" stroke-width="0.4"/>
<rect x="604.5" y="139.4" width="6" height="7" rx="2.2" fill="#fbf6f2" stroke="#d8603e" stroke-width="0.85"/>
<circle cx="607.5" cy="139.8" r="1.25" fill="#86c2e4" stroke="#4a96c6" stroke-width="0.4"/>
<circle cx="607.5" cy="146.0" r="1.25" fill="#86c2e4" stroke="#4a96c6" stroke-width="0.4"/>
<line x1="578.7" y1="140.7" x2="578.7" y2="145.1" stroke="#8e5a42" stroke-width="1"/>
<circle cx="578.7" cy="140.5" r="0.9" fill="#e0603e"/>
<circle cx="578.7" cy="145.3" r="0.9" fill="#e0603e"/>
<line x1="622.1" y1="140.7" x2="622.1" y2="145.1" stroke="#8e5a42" stroke-width="1"/>
<circle cx="622.1" cy="140.5" r="0.9" fill="#e0603e"/>
<circle cx="622.1" cy="145.3" r="0.9" fill="#e0603e"/>
<line x1="582.0" y1="156.1" x2="625.4" y2="156.1" stroke="#935e45" stroke-width="1.3"/>
<polygon points="583.5,158.1 585.1,154.9 587.7,153.2 591.6,154.1 590.0,157.3 587.4,159.0" fill="#f1e8de" stroke="#8c5842" stroke-width="1.25"/>
<line x1="588.5" y1="153.7" x2="588.5" y2="151.5" stroke="#9a6a50" stroke-width="0.9"/>
<circle cx="588.0" cy="150.4" r="0.95" fill="#e0603e"/>
<circle cx="590.1" cy="151.7" r="0.85" fill="#8cbf7c"/>
<circle cx="584.7" cy="159.5" r="0.65" fill="#eab8bc"/>
<polygon points="599.0,158.1 600.6,154.9 603.2,153.2 607.1,154.1 605.5,157.3 602.9,159.0" fill="#f1e8de" stroke="#8c5842" stroke-width="1.25"/>
<line x1="604.0" y1="153.7" x2="604.0" y2="151.5" stroke="#9a6a50" stroke-width="0.9"/>
<circle cx="603.5" cy="150.4" r="0.95" fill="#e0603e"/>
<circle cx="605.6" cy="151.7" r="0.85" fill="#8cbf7c"/>
<circle cx="600.2" cy="159.5" r="0.65" fill="#eab8bc"/>
<polygon points="614.5,158.1 616.1,154.9 618.7,153.2 622.6,154.1 621.0,157.3 618.4,159.0" fill="#f1e8de" stroke="#8c5842" stroke-width="1.25"/>
<line x1="619.5" y1="153.7" x2="619.5" y2="151.5" stroke="#9a6a50" stroke-width="0.9"/>
<circle cx="619.0" cy="150.4" r="0.95" fill="#e0603e"/>
<circle cx="621.1" cy="151.7" r="0.85" fill="#8cbf7c"/>
<circle cx="615.7" cy="159.5" r="0.65" fill="#eab8bc"/>
<rect x="592.3" y="152.6" width="6" height="7" rx="2.2" fill="#fbf6f2" stroke="#d8603e" stroke-width="0.85"/>
<circle cx="595.3" cy="153.0" r="1.25" fill="#86c2e4" stroke="#4a96c6" stroke-width="0.4"/>
<circle cx="595.3" cy="159.2" r="1.25" fill="#86c2e4" stroke="#4a96c6" stroke-width="0.4"/>
<rect x="607.8" y="152.6" width="6" height="7" rx="2.2" fill="#fbf6f2" stroke="#d8603e" stroke-width="0.85"/>
<circle cx="610.8" cy="153.0" r="1.25" fill="#86c2e4" stroke="#4a96c6" stroke-width="0.4"/>
<circle cx="610.8" cy="159.2" r="1.25" fill="#86c2e4" stroke="#4a96c6" stroke-width="0.4"/>
<line x1="582.0" y1="153.9" x2="582.0" y2="158.3" stroke="#8e5a42" stroke-width="1"/>
<circle cx="582.0" cy="153.7" r="0.9" fill="#e0603e"/>
<circle cx="582.0" cy="158.5" r="0.9" fill="#e0603e"/>
<line x1="625.4" y1="153.9" x2="625.4" y2="158.3" stroke="#8e5a42" stroke-width="1"/>
<circle cx="625.4" cy="153.7" r="0.9" fill="#e0603e"/>
<circle cx="625.4" cy="158.5" r="0.9" fill="#e0603e"/>
<line x1="613.1" y1="142.9" x2="634.1" y2="142.9" stroke="#8db04c" stroke-width="1.2" stroke-dasharray="2.5 1.6"/>
<line x1="616.4" y1="156.1" x2="634.1" y2="156.1" stroke="#8db04c" stroke-width="1.2" stroke-dasharray="2.5 1.6"/>
<line x1="630.1" y1="146.4" x2="630.1" y2="152.6" stroke="#8aab45" stroke-width="1.6"/>
<path d="M630.1,143.20000000000002 l-2.9,4.4 l5.8,0 Z M630.1,155.79999999999998 l-2.9,-4.4 l5.8,0 Z" fill="#8aab45"/>
<text x="633.9" y="154.0" font-size="11" fill="#1a1a1a" text-anchor="start" >0.664</text>
<rect x="586.4" y="167.3" width="31.399999999999977" height="28.5" fill="none" stroke="#d6dcc0" stroke-width="0.7"/>
<line x1="590.5" y1="176.2" x2="633.6" y2="176.2" stroke="#935e45" stroke-width="1.3"/>
<polygon points="592.0,178.2 593.6,175.0 596.2,173.3 600.0,174.2 598.4,177.4 595.8,179.1" fill="#f1e8de" stroke="#8c5842" stroke-width="1.25"/>
<line x1="597.0" y1="173.8" x2="597.0" y2="171.6" stroke="#9a6a50" stroke-width="0.9"/>
<circle cx="596.5" cy="170.5" r="0.95" fill="#e0603e"/>
<circle cx="598.6" cy="171.8" r="0.85" fill="#8cbf7c"/>
<circle cx="593.2" cy="179.6" r="0.65" fill="#eab8bc"/>
<polygon points="607.4,178.2 609.0,175.0 611.6,173.3 615.4,174.2 613.8,177.4 611.2,179.1" fill="#f1e8de" stroke="#8c5842" stroke-width="1.25"/>
<line x1="612.4" y1="173.8" x2="612.4" y2="171.6" stroke="#9a6a50" stroke-width="0.9"/>
<circle cx="611.9" cy="170.5" r="0.95" fill="#e0603e"/>
<circle cx="614.0" cy="171.8" r="0.85" fill="#8cbf7c"/>
<circle cx="608.6" cy="179.6" r="0.65" fill="#eab8bc"/>
<polygon points="622.8,178.2 624.4,175.0 627.0,173.3 630.8,174.2 629.2,177.4 626.6,179.1" fill="#f1e8de" stroke="#8c5842" stroke-width="1.25"/>
<line x1="627.8" y1="173.8" x2="627.8" y2="171.6" stroke="#9a6a50" stroke-width="0.9"/>
<circle cx="627.3" cy="170.5" r="0.95" fill="#e0603e"/>
<circle cx="629.4" cy="171.8" r="0.85" fill="#8cbf7c"/>
<circle cx="624.0" cy="179.6" r="0.65" fill="#eab8bc"/>
<rect x="600.7" y="172.7" width="6" height="7" rx="2.2" fill="#fbf6f2" stroke="#d8603e" stroke-width="0.85"/>
<circle cx="603.7" cy="173.1" r="1.25" fill="#86c2e4" stroke="#4a96c6" stroke-width="0.4"/>
<circle cx="603.7" cy="179.3" r="1.25" fill="#86c2e4" stroke="#4a96c6" stroke-width="0.4"/>
<rect x="616.1" y="172.7" width="6" height="7" rx="2.2" fill="#fbf6f2" stroke="#d8603e" stroke-width="0.85"/>
<circle cx="619.1" cy="173.1" r="1.25" fill="#86c2e4" stroke="#4a96c6" stroke-width="0.4"/>
<circle cx="619.1" cy="179.3" r="1.25" fill="#86c2e4" stroke="#4a96c6" stroke-width="0.4"/>
<line x1="590.5" y1="174.0" x2="590.5" y2="178.4" stroke="#8e5a42" stroke-width="1"/>
<circle cx="590.5" cy="173.8" r="0.9" fill="#e0603e"/>
<circle cx="590.5" cy="178.6" r="0.9" fill="#e0603e"/>
<line x1="633.6" y1="174.0" x2="633.6" y2="178.4" stroke="#8e5a42" stroke-width="1"/>
<circle cx="633.6" cy="173.8" r="0.9" fill="#e0603e"/>
<circle cx="633.6" cy="178.6" r="0.9" fill="#e0603e"/>
<line x1="579.9" y1="190.4" x2="623.0" y2="190.4" stroke="#935e45" stroke-width="1.3"/>
<polygon points="581.4,192.4 583.0,189.2 585.6,187.5 589.4,188.4 587.8,191.6 585.2,193.3" fill="#f1e8de" stroke="#8c5842" stroke-width="1.25"/>
<line x1="586.4" y1="188.0" x2="586.4" y2="185.8" stroke="#9a6a50" stroke-width="0.9"/>
<circle cx="585.9" cy="184.7" r="0.95" fill="#e0603e"/>
<circle cx="588.0" cy="186.0" r="0.85" fill="#8cbf7c"/>
<circle cx="582.6" cy="193.8" r="0.65" fill="#eab8bc"/>
<polygon points="596.8,192.4 598.4,189.2 601.0,187.5 604.8,188.4 603.2,191.6 600.6,193.3" fill="#f1e8de" stroke="#8c5842" stroke-width="1.25"/>
<line x1="601.8" y1="188.0" x2="601.8" y2="185.8" stroke="#9a6a50" stroke-width="0.9"/>
<circle cx="601.3" cy="184.7" r="0.95" fill="#e0603e"/>
<circle cx="603.4" cy="186.0" r="0.85" fill="#8cbf7c"/>
<circle cx="598.0" cy="193.8" r="0.65" fill="#eab8bc"/>
<polygon points="612.2,192.4 613.8,189.2 616.4,187.5 620.2,188.4 618.6,191.6 616.0,193.3" fill="#f1e8de" stroke="#8c5842" stroke-width="1.25"/>
<line x1="617.2" y1="188.0" x2="617.2" y2="185.8" stroke="#9a6a50" stroke-width="0.9"/>
<circle cx="616.7" cy="184.7" r="0.95" fill="#e0603e"/>
<circle cx="618.8" cy="186.0" r="0.85" fill="#8cbf7c"/>
<circle cx="613.4" cy="193.8" r="0.65" fill="#eab8bc"/>
<rect x="590.1" y="186.9" width="6" height="7" rx="2.2" fill="#fbf6f2" stroke="#d8603e" stroke-width="0.85"/>
<circle cx="593.1" cy="187.3" r="1.25" fill="#86c2e4" stroke="#4a96c6" stroke-width="0.4"/>
<circle cx="593.1" cy="193.5" r="1.25" fill="#86c2e4" stroke="#4a96c6" stroke-width="0.4"/>
<rect x="605.5" y="186.9" width="6" height="7" rx="2.2" fill="#fbf6f2" stroke="#d8603e" stroke-width="0.85"/>
<circle cx="608.5" cy="187.3" r="1.25" fill="#86c2e4" stroke="#4a96c6" stroke-width="0.4"/>
<circle cx="608.5" cy="193.5" r="1.25" fill="#86c2e4" stroke="#4a96c6" stroke-width="0.4"/>
<line x1="579.9" y1="188.2" x2="579.9" y2="192.6" stroke="#8e5a42" stroke-width="1"/>
<circle cx="579.9" cy="188.0" r="0.9" fill="#e0603e"/>
<circle cx="579.9" cy="192.8" r="0.9" fill="#e0603e"/>
<line x1="623.0" y1="188.2" x2="623.0" y2="192.6" stroke="#8e5a42" stroke-width="1"/>
<circle cx="623.0" cy="188.0" r="0.9" fill="#e0603e"/>
<circle cx="623.0" cy="192.8" r="0.9" fill="#e0603e"/>
<line x1="624.6" y1="176.2" x2="641.4" y2="176.2" stroke="#8db04c" stroke-width="1.2" stroke-dasharray="2.5 1.6"/>
<line x1="614.0" y1="190.4" x2="641.4" y2="190.4" stroke="#8db04c" stroke-width="1.2" stroke-dasharray="2.5 1.6"/>
<line x1="637.4" y1="179.7" x2="637.4" y2="186.9" stroke="#8aab45" stroke-width="1.6"/>
<path d="M637.4,176.5 l-2.9,4.4 l5.8,0 Z M637.4,190.1 l-2.9,-4.4 l5.8,0 Z" fill="#8aab45"/>
<text x="641.7" y="187.5" font-size="11" fill="#1a1a1a" text-anchor="start" >0.676</text>
<rect x="586" y="200" width="32" height="27.5" fill="none" stroke="#d6dcc0" stroke-width="0.7"/>
<line x1="587.5" y1="208.4" x2="630.9" y2="208.4" stroke="#935e45" stroke-width="1.3"/>
<polygon points="589.0,210.4 590.6,207.2 593.2,205.5 597.1,206.4 595.5,209.6 592.9,211.3" fill="#f1e8de" stroke="#8c5842" stroke-width="1.25"/>
<line x1="594.0" y1="206.0" x2="594.0" y2="203.8" stroke="#9a6a50" stroke-width="0.9"/>
<circle cx="593.5" cy="202.7" r="0.95" fill="#e0603e"/>
<circle cx="595.6" cy="204.0" r="0.85" fill="#8cbf7c"/>
<circle cx="590.2" cy="211.8" r="0.65" fill="#eab8bc"/>
<polygon points="604.5,210.4 606.1,207.2 608.7,205.5 612.6,206.4 611.0,209.6 608.4,211.3" fill="#f1e8de" stroke="#8c5842" stroke-width="1.25"/>
<line x1="609.5" y1="206.0" x2="609.5" y2="203.8" stroke="#9a6a50" stroke-width="0.9"/>
<circle cx="609.0" cy="202.7" r="0.95" fill="#e0603e"/>
<circle cx="611.1" cy="204.0" r="0.85" fill="#8cbf7c"/>
<circle cx="605.7" cy="211.8" r="0.65" fill="#eab8bc"/>
<polygon points="620.0,210.4 621.6,207.2 624.2,205.5 628.1,206.4 626.5,209.6 623.9,211.3" fill="#f1e8de" stroke="#8c5842" stroke-width="1.25"/>
<line x1="625.0" y1="206.0" x2="625.0" y2="203.8" stroke="#9a6a50" stroke-width="0.9"/>
<circle cx="624.5" cy="202.7" r="0.95" fill="#e0603e"/>
<circle cx="626.6" cy="204.0" r="0.85" fill="#8cbf7c"/>
<circle cx="621.2" cy="211.8" r="0.65" fill="#eab8bc"/>
<rect x="597.8" y="204.9" width="6" height="7" rx="2.2" fill="#fbf6f2" stroke="#d8603e" stroke-width="0.85"/>
<circle cx="600.8" cy="205.3" r="1.25" fill="#86c2e4" stroke="#4a96c6" stroke-width="0.4"/>
<circle cx="600.8" cy="211.5" r="1.25" fill="#86c2e4" stroke="#4a96c6" stroke-width="0.4"/>
<rect x="613.3" y="204.9" width="6" height="7" rx="2.2" fill="#fbf6f2" stroke="#d8603e" stroke-width="0.85"/>
<circle cx="616.3" cy="205.3" r="1.25" fill="#86c2e4" stroke="#4a96c6" stroke-width="0.4"/>
<circle cx="616.3" cy="211.5" r="1.25" fill="#86c2e4" stroke="#4a96c6" stroke-width="0.4"/>
<line x1="587.5" y1="206.2" x2="587.5" y2="210.6" stroke="#8e5a42" stroke-width="1"/>
<circle cx="587.5" cy="206.0" r="0.9" fill="#e0603e"/>
<circle cx="587.5" cy="210.8" r="0.9" fill="#e0603e"/>
<line x1="630.9" y1="206.2" x2="630.9" y2="210.6" stroke="#8e5a42" stroke-width="1"/>
<circle cx="630.9" cy="206.0" r="0.9" fill="#e0603e"/>
<circle cx="630.9" cy="210.8" r="0.9" fill="#e0603e"/>
<line x1="580.7" y1="222.4" x2="624.1" y2="222.4" stroke="#935e45" stroke-width="1.3"/>
<polygon points="582.2,224.4 583.8,221.2 586.4,219.5 590.3,220.4 588.7,223.6 586.1,225.3" fill="#f1e8de" stroke="#8c5842" stroke-width="1.25"/>
<line x1="587.2" y1="220.0" x2="587.2" y2="217.8" stroke="#9a6a50" stroke-width="0.9"/>
<circle cx="586.7" cy="216.7" r="0.95" fill="#e0603e"/>
<circle cx="588.8" cy="218.0" r="0.85" fill="#8cbf7c"/>
<circle cx="583.4" cy="225.8" r="0.65" fill="#eab8bc"/>
<polygon points="597.7,224.4 599.3,221.2 601.9,219.5 605.8,220.4 604.2,223.6 601.6,225.3" fill="#f1e8de" stroke="#8c5842" stroke-width="1.25"/>
<line x1="602.7" y1="220.0" x2="602.7" y2="217.8" stroke="#9a6a50" stroke-width="0.9"/>
<circle cx="602.2" cy="216.7" r="0.95" fill="#e0603e"/>
<circle cx="604.3" cy="218.0" r="0.85" fill="#8cbf7c"/>
<circle cx="598.9" cy="225.8" r="0.65" fill="#eab8bc"/>
<polygon points="613.2,224.4 614.8,221.2 617.4,219.5 621.3,220.4 619.7,223.6 617.1,225.3" fill="#f1e8de" stroke="#8c5842" stroke-width="1.25"/>
<line x1="618.2" y1="220.0" x2="618.2" y2="217.8" stroke="#9a6a50" stroke-width="0.9"/>
<circle cx="617.7" cy="216.7" r="0.95" fill="#e0603e"/>
<circle cx="619.8" cy="218.0" r="0.85" fill="#8cbf7c"/>
<circle cx="614.4" cy="225.8" r="0.65" fill="#eab8bc"/>
<rect x="591.0" y="218.9" width="6" height="7" rx="2.2" fill="#fbf6f2" stroke="#d8603e" stroke-width="0.85"/>
<circle cx="594.0" cy="219.3" r="1.25" fill="#86c2e4" stroke="#4a96c6" stroke-width="0.4"/>
<circle cx="594.0" cy="225.5" r="1.25" fill="#86c2e4" stroke="#4a96c6" stroke-width="0.4"/>
<rect x="606.5" y="218.9" width="6" height="7" rx="2.2" fill="#fbf6f2" stroke="#d8603e" stroke-width="0.85"/>
<circle cx="609.5" cy="219.3" r="1.25" fill="#86c2e4" stroke="#4a96c6" stroke-width="0.4"/>
<circle cx="609.5" cy="225.5" r="1.25" fill="#86c2e4" stroke="#4a96c6" stroke-width="0.4"/>
<line x1="580.7" y1="220.2" x2="580.7" y2="224.6" stroke="#8e5a42" stroke-width="1"/>
<circle cx="580.7" cy="220.0" r="0.9" fill="#e0603e"/>
<circle cx="580.7" cy="224.8" r="0.9" fill="#e0603e"/>
<line x1="624.1" y1="220.2" x2="624.1" y2="224.6" stroke="#8e5a42" stroke-width="1"/>
<circle cx="624.1" cy="220.0" r="0.9" fill="#e0603e"/>
<circle cx="624.1" cy="224.8" r="0.9" fill="#e0603e"/>
<line x1="621.9" y1="208.4" x2="640.5" y2="208.4" stroke="#8db04c" stroke-width="1.2" stroke-dasharray="2.5 1.6"/>
<line x1="615.1" y1="222.4" x2="640.5" y2="222.4" stroke="#8db04c" stroke-width="1.2" stroke-dasharray="2.5 1.6"/>
<line x1="636.5" y1="211.9" x2="636.5" y2="218.9" stroke="#8aab45" stroke-width="1.6"/>
<path d="M636.5,208.70000000000002 l-2.9,4.4 l5.8,0 Z M636.5,222.1 l-2.9,-4.4 l5.8,0 Z" fill="#8aab45"/>
<text x="640.9" y="219.7" font-size="11" fill="#1a1a1a" text-anchor="start" >0.636</text>
<rect x="585" y="231.5" width="41" height="28.0" fill="none" stroke="#d6dcc0" stroke-width="0.7"/>
<line x1="581.0" y1="240.5" x2="639.3" y2="240.5" stroke="#935e45" stroke-width="1.3"/>
<polygon points="583.1,242.5 585.3,239.3 588.7,237.6 593.9,238.5 591.7,241.7 588.3,243.4" fill="#f1e8de" stroke="#8c5842" stroke-width="1.25"/>
<line x1="589.8" y1="238.1" x2="589.8" y2="235.9" stroke="#9a6a50" stroke-width="0.9"/>
<circle cx="589.1" cy="234.8" r="0.95" fill="#e0603e"/>
<circle cx="592.0" cy="236.1" r="0.85" fill="#8cbf7c"/>
<circle cx="584.7" cy="243.9" r="0.65" fill="#eab8bc"/>
<polygon points="603.9,242.5 606.1,239.3 609.5,237.6 614.7,238.5 612.5,241.7 609.1,243.4" fill="#f1e8de" stroke="#8c5842" stroke-width="1.25"/>
<line x1="610.6" y1="238.1" x2="610.6" y2="235.9" stroke="#9a6a50" stroke-width="0.9"/>
<circle cx="609.9" cy="234.8" r="0.95" fill="#e0603e"/>
<circle cx="612.8" cy="236.1" r="0.85" fill="#8cbf7c"/>
<circle cx="605.5" cy="243.9" r="0.65" fill="#eab8bc"/>
<polygon points="624.7,242.5 626.9,239.3 630.3,237.6 635.5,238.5 633.3,241.7 629.9,243.4" fill="#f1e8de" stroke="#8c5842" stroke-width="1.25"/>
<line x1="631.4" y1="238.1" x2="631.4" y2="235.9" stroke="#9a6a50" stroke-width="0.9"/>
<circle cx="630.7" cy="234.8" r="0.95" fill="#e0603e"/>
<circle cx="633.6" cy="236.1" r="0.85" fill="#8cbf7c"/>
<circle cx="626.3" cy="243.9" r="0.65" fill="#eab8bc"/>
<rect x="595.9" y="237.0" width="6" height="7" rx="2.2" fill="#fbf6f2" stroke="#d8603e" stroke-width="0.85"/>
<circle cx="598.9" cy="237.4" r="1.25" fill="#86c2e4" stroke="#4a96c6" stroke-width="0.4"/>
<circle cx="598.9" cy="243.6" r="1.25" fill="#86c2e4" stroke="#4a96c6" stroke-width="0.4"/>
<rect x="616.7" y="237.0" width="6" height="7" rx="2.2" fill="#fbf6f2" stroke="#d8603e" stroke-width="0.85"/>
<circle cx="619.7" cy="237.4" r="1.25" fill="#86c2e4" stroke="#4a96c6" stroke-width="0.4"/>
<circle cx="619.7" cy="243.6" r="1.25" fill="#86c2e4" stroke="#4a96c6" stroke-width="0.4"/>
<line x1="581.0" y1="238.3" x2="581.0" y2="242.7" stroke="#8e5a42" stroke-width="1"/>
<circle cx="581.0" cy="238.1" r="0.9" fill="#e0603e"/>
<circle cx="581.0" cy="242.9" r="0.9" fill="#e0603e"/>
<line x1="639.3" y1="238.3" x2="639.3" y2="242.7" stroke="#8e5a42" stroke-width="1"/>
<circle cx="639.3" cy="238.1" r="0.9" fill="#e0603e"/>
<circle cx="639.3" cy="242.9" r="0.9" fill="#e0603e"/>
<line x1="577.0" y1="254.0" x2="635.5" y2="254.0" stroke="#935e45" stroke-width="1.3"/>
<polygon points="579.1,256.0 581.3,252.8 584.8,251.1 590.0,252.0 587.8,255.2 584.3,256.9" fill="#f1e8de" stroke="#8c5842" stroke-width="1.25"/>
<line x1="585.9" y1="251.6" x2="585.9" y2="249.4" stroke="#9a6a50" stroke-width="0.9"/>
<circle cx="585.2" cy="248.3" r="0.95" fill="#e0603e"/>
<circle cx="588.0" cy="249.6" r="0.85" fill="#8cbf7c"/>
<circle cx="580.7" cy="257.4" r="0.65" fill="#eab8bc"/>
<polygon points="600.0,256.0 602.2,252.8 605.7,251.1 610.9,252.0 608.7,255.2 605.2,256.9" fill="#f1e8de" stroke="#8c5842" stroke-width="1.25"/>
<line x1="606.8" y1="251.6" x2="606.8" y2="249.4" stroke="#9a6a50" stroke-width="0.9"/>
<circle cx="606.1" cy="248.3" r="0.95" fill="#e0603e"/>
<circle cx="608.9" cy="249.6" r="0.85" fill="#8cbf7c"/>
<circle cx="601.6" cy="257.4" r="0.65" fill="#eab8bc"/>
<polygon points="620.9,256.0 623.1,252.8 626.6,251.1 631.8,252.0 629.6,255.2 626.1,256.9" fill="#f1e8de" stroke="#8c5842" stroke-width="1.25"/>
<line x1="627.7" y1="251.6" x2="627.7" y2="249.4" stroke="#9a6a50" stroke-width="0.9"/>
<circle cx="627.0" cy="248.3" r="0.95" fill="#e0603e"/>
<circle cx="629.8" cy="249.6" r="0.85" fill="#8cbf7c"/>
<circle cx="622.5" cy="257.4" r="0.65" fill="#eab8bc"/>
<rect x="592.0" y="250.5" width="6" height="7" rx="2.2" fill="#fbf6f2" stroke="#d8603e" stroke-width="0.85"/>
<circle cx="595.0" cy="250.9" r="1.25" fill="#86c2e4" stroke="#4a96c6" stroke-width="0.4"/>
<circle cx="595.0" cy="257.1" r="1.25" fill="#86c2e4" stroke="#4a96c6" stroke-width="0.4"/>
<rect x="612.9" y="250.5" width="6" height="7" rx="2.2" fill="#fbf6f2" stroke="#d8603e" stroke-width="0.85"/>
<circle cx="615.9" cy="250.9" r="1.25" fill="#86c2e4" stroke="#4a96c6" stroke-width="0.4"/>
<circle cx="615.9" cy="257.1" r="1.25" fill="#86c2e4" stroke="#4a96c6" stroke-width="0.4"/>
<line x1="577.0" y1="251.8" x2="577.0" y2="256.2" stroke="#8e5a42" stroke-width="1"/>
<circle cx="577.0" cy="251.6" r="0.9" fill="#e0603e"/>
<circle cx="577.0" cy="256.4" r="0.9" fill="#e0603e"/>
<line x1="635.5" y1="251.8" x2="635.5" y2="256.2" stroke="#8e5a42" stroke-width="1"/>
<circle cx="635.5" cy="251.6" r="0.9" fill="#e0603e"/>
<circle cx="635.5" cy="256.4" r="0.9" fill="#e0603e"/>
<line x1="630.3" y1="240.5" x2="645.3" y2="240.5" stroke="#8db04c" stroke-width="1.2" stroke-dasharray="2.5 1.6"/>
<line x1="626.5" y1="254" x2="645.3" y2="254" stroke="#8db04c" stroke-width="1.2" stroke-dasharray="2.5 1.6"/>
<line x1="641.3" y1="244.0" x2="641.3" y2="250.5" stroke="#8aab45" stroke-width="1.6"/>
<path d="M641.3,240.8 l-2.9,4.4 l5.8,0 Z M641.3,253.7 l-2.9,-4.4 l5.8,0 Z" fill="#8aab45"/>
<text x="644.8" y="251.5" font-size="11" fill="#1a1a1a" text-anchor="start" >0.514</text>
<rect x="585" y="263.5" width="39" height="28.0" fill="none" stroke="#d6dcc0" stroke-width="0.7"/>
<line x1="578.1" y1="272.7" x2="633.2" y2="272.7" stroke="#935e45" stroke-width="1.3"/>
<polygon points="580.0,274.7 582.1,271.5 585.4,269.8 590.3,270.7 588.2,273.9 584.9,275.6" fill="#f1e8de" stroke="#8c5842" stroke-width="1.25"/>
<line x1="586.4" y1="270.3" x2="586.4" y2="268.1" stroke="#9a6a50" stroke-width="0.9"/>
<circle cx="585.8" cy="267.0" r="0.95" fill="#e0603e"/>
<circle cx="588.4" cy="268.3" r="0.85" fill="#8cbf7c"/>
<circle cx="581.6" cy="276.1" r="0.65" fill="#eab8bc"/>
<polygon points="599.7,274.7 601.8,271.5 605.1,269.8 610.0,270.7 607.9,273.9 604.6,275.6" fill="#f1e8de" stroke="#8c5842" stroke-width="1.25"/>
<line x1="606.1" y1="270.3" x2="606.1" y2="268.1" stroke="#9a6a50" stroke-width="0.9"/>
<circle cx="605.5" cy="267.0" r="0.95" fill="#e0603e"/>
<circle cx="608.1" cy="268.3" r="0.85" fill="#8cbf7c"/>
<circle cx="601.3" cy="276.1" r="0.65" fill="#eab8bc"/>
<polygon points="619.4,274.7 621.5,271.5 624.8,269.8 629.7,270.7 627.6,273.9 624.3,275.6" fill="#f1e8de" stroke="#8c5842" stroke-width="1.25"/>
<line x1="625.8" y1="270.3" x2="625.8" y2="268.1" stroke="#9a6a50" stroke-width="0.9"/>
<circle cx="625.2" cy="267.0" r="0.95" fill="#e0603e"/>
<circle cx="627.8" cy="268.3" r="0.85" fill="#8cbf7c"/>
<circle cx="621.0" cy="276.1" r="0.65" fill="#eab8bc"/>
<rect x="592.0" y="269.2" width="6" height="7" rx="2.2" fill="#fbf6f2" stroke="#d8603e" stroke-width="0.85"/>
<circle cx="595.0" cy="269.6" r="1.25" fill="#86c2e4" stroke="#4a96c6" stroke-width="0.4"/>
<circle cx="595.0" cy="275.8" r="1.25" fill="#86c2e4" stroke="#4a96c6" stroke-width="0.4"/>
<rect x="611.7" y="269.2" width="6" height="7" rx="2.2" fill="#fbf6f2" stroke="#d8603e" stroke-width="0.85"/>
<circle cx="614.7" cy="269.6" r="1.25" fill="#86c2e4" stroke="#4a96c6" stroke-width="0.4"/>
<circle cx="614.7" cy="275.8" r="1.25" fill="#86c2e4" stroke="#4a96c6" stroke-width="0.4"/>
<line x1="578.1" y1="270.5" x2="578.1" y2="274.9" stroke="#8e5a42" stroke-width="1"/>
<circle cx="578.1" cy="270.3" r="0.9" fill="#e0603e"/>
<circle cx="578.1" cy="275.1" r="0.9" fill="#e0603e"/>
<line x1="633.2" y1="270.5" x2="633.2" y2="274.9" stroke="#8e5a42" stroke-width="1"/>
<circle cx="633.2" cy="270.3" r="0.9" fill="#e0603e"/>
<circle cx="633.2" cy="275.1" r="0.9" fill="#e0603e"/>
<line x1="578.1" y1="285.8" x2="633.2" y2="285.8" stroke="#935e45" stroke-width="1.3"/>
<polygon points="580.0,287.8 582.1,284.6 585.4,282.9 590.3,283.8 588.2,287.0 584.9,288.7" fill="#f1e8de" stroke="#8c5842" stroke-width="1.25"/>
<line x1="586.4" y1="283.4" x2="586.4" y2="281.2" stroke="#9a6a50" stroke-width="0.9"/>
<circle cx="585.8" cy="280.1" r="0.95" fill="#e0603e"/>
<circle cx="588.4" cy="281.4" r="0.85" fill="#8cbf7c"/>
<circle cx="581.6" cy="289.2" r="0.65" fill="#eab8bc"/>
<polygon points="599.7,287.8 601.8,284.6 605.1,282.9 610.0,283.8 607.9,287.0 604.6,288.7" fill="#f1e8de" stroke="#8c5842" stroke-width="1.25"/>
<line x1="606.1" y1="283.4" x2="606.1" y2="281.2" stroke="#9a6a50" stroke-width="0.9"/>
<circle cx="605.5" cy="280.1" r="0.95" fill="#e0603e"/>
<circle cx="608.1" cy="281.4" r="0.85" fill="#8cbf7c"/>
<circle cx="601.3" cy="289.2" r="0.65" fill="#eab8bc"/>
<polygon points="619.4,287.8 621.5,284.6 624.8,282.9 629.7,283.8 627.6,287.0 624.3,288.7" fill="#f1e8de" stroke="#8c5842" stroke-width="1.25"/>
<line x1="625.8" y1="283.4" x2="625.8" y2="281.2" stroke="#9a6a50" stroke-width="0.9"/>
<circle cx="625.2" cy="280.1" r="0.95" fill="#e0603e"/>
<circle cx="627.8" cy="281.4" r="0.85" fill="#8cbf7c"/>
<circle cx="621.0" cy="289.2" r="0.65" fill="#eab8bc"/>
<rect x="592.0" y="282.3" width="6" height="7" rx="2.2" fill="#fbf6f2" stroke="#d8603e" stroke-width="0.85"/>
<circle cx="595.0" cy="282.7" r="1.25" fill="#86c2e4" stroke="#4a96c6" stroke-width="0.4"/>
<circle cx="595.0" cy="288.9" r="1.25" fill="#86c2e4" stroke="#4a96c6" stroke-width="0.4"/>
<rect x="611.7" y="282.3" width="6" height="7" rx="2.2" fill="#fbf6f2" stroke="#d8603e" stroke-width="0.85"/>
<circle cx="614.7" cy="282.7" r="1.25" fill="#86c2e4" stroke="#4a96c6" stroke-width="0.4"/>
<circle cx="614.7" cy="288.9" r="1.25" fill="#86c2e4" stroke="#4a96c6" stroke-width="0.4"/>
<line x1="578.1" y1="283.6" x2="578.1" y2="288.0" stroke="#8e5a42" stroke-width="1"/>
<circle cx="578.1" cy="283.4" r="0.9" fill="#e0603e"/>
<circle cx="578.1" cy="288.2" r="0.9" fill="#e0603e"/>
<line x1="633.2" y1="283.6" x2="633.2" y2="288.0" stroke="#8e5a42" stroke-width="1"/>
<circle cx="633.2" cy="283.4" r="0.9" fill="#e0603e"/>
<circle cx="633.2" cy="288.2" r="0.9" fill="#e0603e"/>
<line x1="624.2" y1="272.7" x2="642.4" y2="272.7" stroke="#8db04c" stroke-width="1.2" stroke-dasharray="2.5 1.6"/>
<line x1="624.2" y1="285.8" x2="642.4" y2="285.8" stroke="#8db04c" stroke-width="1.2" stroke-dasharray="2.5 1.6"/>
<line x1="638.4" y1="276.2" x2="638.4" y2="282.3" stroke="#8aab45" stroke-width="1.6"/>
<path d="M638.4,273.0 l-2.9,4.4 l5.8,0 Z M638.4,285.5 l-2.9,-4.4 l5.8,0 Z" fill="#8aab45"/>
<text x="643.2" y="283.8" font-size="11" fill="#1a1a1a" text-anchor="start" >0.544</text>
<line x1="574.6" y1="303" x2="574.6" y2="291.5" stroke="#6ab06a" stroke-width="0.9"/>
<line x1="574.6" y1="303" x2="586" y2="303" stroke="#6ab06a" stroke-width="0.9"/>
<path d="M589,303 l-3.5,-1.8 l0,3.6 Z" fill="#6ab06a"/>
<circle cx="574.6" cy="303" r="1" fill="#fff" stroke="#6ab06a" stroke-width="0.6"/>
<text x="572.5" y="290.5" font-size="8" fill="#6ab06a" text-anchor="start" >c</text>
<text x="590.3" y="305.5" font-size="8" fill="#6ab06a" text-anchor="start" >a</text>
<text x="599.6" y="307.4" font-size="12" fill="#1a1a1a"><tspan font-style="italic">d</tspan>-spacing (nm)</text>
<rect x="574.3" y="316.8" width="109.7" height="20.4" rx="3.5" fill="none" stroke="#8db04c" stroke-width="1.4" stroke-dasharray="3.2 2"/>
<circle cx="581.7" cy="327" r="5.2" fill="url(#sC)"/>
<text x="588.1" y="330.6" font-size="10" fill="#1a1a1a" text-anchor="start" >C</text>
<circle cx="603" cy="327" r="5.2" fill="url(#sO)"/>
<text x="608.5" y="330.6" font-size="10" fill="#1a1a1a" text-anchor="start" >O</text>
<circle cx="623.5" cy="327" r="5.2" fill="url(#sCu)"/>
<text x="628.5" y="330.6" font-size="10" fill="#1a1a1a" text-anchor="start" >Cu</text>
<circle cx="647.6" cy="327" r="5.2" fill="url(#sN)"/>
<text x="654.2" y="330.6" font-size="10" fill="#1a1a1a" text-anchor="start" >N</text>
<circle cx="668.8" cy="327" r="5.2" fill="url(#sH)"/>
<text x="674.5" y="330.6" font-size="10" fill="#1a1a1a" text-anchor="start" >H</text>
</svg></body></html>
